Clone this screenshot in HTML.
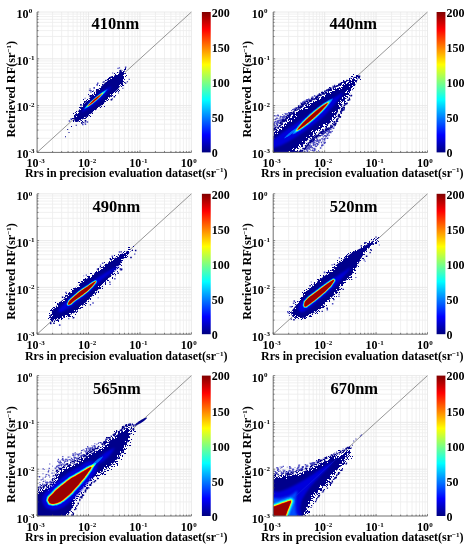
<!DOCTYPE html>
<html><head><meta charset="utf-8"><title>Scatter density plots</title><style>
html,body{margin:0;padding:0;background:#fff;}
body{width:473px;height:550px;overflow:hidden;}
svg{display:block;}
text{font-family:"Liberation Serif","Times New Roman",serif;font-weight:bold;fill:#000;}
.t{font-size:12px;}
.s{font-size:7px;font-weight:bold;}
.ttl{font-size:16.5px;}
.lab{font-size:12px;}
.cb{font-size:12px;}
</style></head><body>
<svg width="473" height="550" viewBox="0 0 473 550">
<defs>
<filter id="bl" filterUnits="userSpaceOnUse" x="0" y="0" width="473" height="550"><feGaussianBlur stdDeviation="0.45"/></filter>
<filter id="bl2" filterUnits="userSpaceOnUse" x="0" y="0" width="473" height="550"><feGaussianBlur stdDeviation="1.0"/></filter>
<linearGradient id="jet" x1="0" y1="0" x2="0" y2="1">
<stop offset="0" stop-color="#800000"/><stop offset="0.125" stop-color="#ff0000"/>
<stop offset="0.375" stop-color="#ffff00"/><stop offset="0.625" stop-color="#00ffff"/>
<stop offset="0.875" stop-color="#0000ff"/><stop offset="1" stop-color="#000080"/>
</linearGradient>

<clipPath id="c00"><rect x="37.1" y="12" width="154.3" height="140.4"/></clipPath>
<clipPath id="c01"><rect x="273.2" y="12" width="154.3" height="140.4"/></clipPath>
<clipPath id="c10"><rect x="37.1" y="193.8" width="154.3" height="140.4"/></clipPath>
<clipPath id="c11"><rect x="273.2" y="193.8" width="154.3" height="140.4"/></clipPath>
<clipPath id="c20"><rect x="37.1" y="375.6" width="154.3" height="140.4"/></clipPath>
<clipPath id="c21"><rect x="273.2" y="375.6" width="154.3" height="140.4"/></clipPath>
</defs>
<path d="M52.58 12V152.4M37.1 138.31H191.4M61.64 12V152.4M37.1 130.07H191.4M68.07 12V152.4M37.1 124.22H191.4M73.05 12V152.4M37.1 119.69H191.4M77.12 12V152.4M37.1 115.98H191.4M80.57 12V152.4M37.1 112.85H191.4M83.55 12V152.4M37.1 110.14H191.4M86.18 12V152.4M37.1 107.74H191.4M104.02 12V152.4M37.1 91.51H191.4M113.07 12V152.4M37.1 83.27H191.4M119.5 12V152.4M37.1 77.42H191.4M124.48 12V152.4M37.1 72.89H191.4M128.56 12V152.4M37.1 69.18H191.4M132 12V152.4M37.1 66.05H191.4M134.98 12V152.4M37.1 63.34H191.4M137.61 12V152.4M37.1 60.94H191.4M155.45 12V152.4M37.1 44.71H191.4M164.51 12V152.4M37.1 36.47H191.4M170.93 12V152.4M37.1 30.62H191.4M175.92 12V152.4M37.1 26.09H191.4M179.99 12V152.4M37.1 22.38H191.4M183.43 12V152.4M37.1 19.25H191.4M186.42 12V152.4M37.1 16.54H191.4M189.05 12V152.4M37.1 14.14H191.4" stroke="#ececec" stroke-width="0.8" fill="none"/>
<path d="M88.53 12V152.4M37.1 105.6H191.4M139.97 12V152.4M37.1 58.8H191.4M191.4 12V152.4M37.1 12H191.4" stroke="#e4e4e4" stroke-width="0.8" fill="none"/>
<path d="M37.1 152.4L191.4 12" stroke="#8a8a8a" stroke-width="0.9" fill="none"/>
<g clip-path="url(#c00)"><path d="M74.2 117.3C74.5 116.2 75.2 115.6 76.3 114.1C77.4 112.5 79 110 80.6 108C82.2 106 84.2 103.9 85.9 102C87.7 100.1 89.3 98.3 91.1 96.5C92.8 94.7 94.6 92.8 96.4 91C98.2 89.2 99.9 87.7 101.7 86C103.5 84.3 105.2 82.5 107 81C108.8 79.5 110.7 78.2 112.3 77C113.9 75.8 115.2 74.9 116.5 74C117.8 73.1 119.2 72.5 120.4 71.8C121.6 71.1 123.1 70.3 123.8 70.1C124.5 69.9 124.4 69.8 124.6 70.5C124.8 71.2 124.8 72.7 124.8 74C124.8 75.3 125 77.1 124.6 78.6C124.2 80.1 123.3 81.6 122.5 83C121.7 84.4 120.4 85.8 119.5 87C118.6 88.2 118.2 88.7 117 90C115.8 91.3 114 93.3 112.3 95C110.6 96.7 108.8 98.3 107 100C105.2 101.7 103.5 103.4 101.7 105C99.9 106.6 98.2 108.1 96.4 109.5C94.6 110.9 92.8 112.2 91.1 113.5C89.3 114.8 87.7 116.1 85.9 117.3C84.2 118.5 82.2 119.7 80.6 120.5C79 121.3 77.3 122 76.3 122C75.3 122 74.8 121.3 74.5 120.5C74.2 119.7 73.9 118.4 74.2 117.3Z" fill="#00008c"/><path d="M123 70h1v1h-1zM122 71h1v1h-1zM124 72h1v1h-1zM117 73h2v1h-2zM116 74h2v1h-2zM124 74h1v1h-1zM123 75h2v1h-2zM113 76h1v1h-1zM124 76h1v1h-1zM124 77h1v1h-1zM111 78h1v1h-1zM124 78h1v1h-1zM109 79h1v1h-1zM123 79h1v1h-1zM123 80h1v1h-1zM106 81h1v1h-1zM120 84h1v1h-1zM119 85h1v1h-1zM100 87h1v1h-1zM99 89h1v1h-1zM95 92h1v1h-1zM114 92h1v1h-1zM95 93h1v1h-1zM113 93h1v1h-1zM93 94h1v1h-1zM110 94h1v1h-1zM112 94h1v1h-1zM94 95h1v1h-1zM108 97h1v1h-1zM108 98h1v1h-1zM88 99h2v1h-2zM107 99h1v1h-1zM87 100h1v1h-1zM105 100h1v1h-1zM82 106h1v1h-1zM98 107h1v1h-1zM97 108h1v1h-1zM80 109h1v1h-1zM94 110h1v1h-1zM93 111h1v1h-1zM77 112h2v1h-2zM77 113h1v1h-1zM89 114h1v1h-1zM76 116h1v1h-1zM84 117h1v1h-1zM81 119h1v1h-1zM79 120h1v1h-1z" fill="#ffffff"/><path d="M125 68h1v1h-1zM124 69h2v1h-2zM120 70h1v1h-1zM120 71h1v1h-1zM117 72h1v1h-1zM114 73h1v1h-1zM125 73h1v1h-1zM115 74h1v1h-1zM126 75h1v1h-1zM112 76h1v1h-1zM125 76h1v1h-1zM109 77h3v1h-3zM108 78h2v1h-2zM107 79h2v1h-2zM124 79h1v1h-1zM105 80h1v1h-1zM123 81h1v1h-1zM124 82h1v1h-1zM122 83h1v1h-1zM102 84h1v1h-1zM121 84h2v1h-2zM99 85h1v1h-1zM122 85h2v1h-2zM121 86h1v1h-1zM96 89h2v1h-2zM118 89h1v1h-1zM96 90h1v1h-1zM117 90h1v1h-1zM119 90h1v1h-1zM92 91h1v1h-1zM116 91h1v1h-1zM118 91h1v1h-1zM94 92h1v1h-1zM115 92h1v1h-1zM88 94h1v1h-1zM92 94h1v1h-1zM90 95h2v1h-2zM112 95h1v1h-1zM115 95h1v1h-1zM90 96h1v1h-1zM111 96h1v1h-1zM83 99h1v1h-1zM87 99h1v1h-1zM108 99h1v1h-1zM86 100h1v1h-1zM107 100h1v1h-1zM84 101h2v1h-2zM105 101h1v1h-1zM84 102h1v1h-1zM83 103h1v1h-1zM103 103h1v1h-1zM83 104h1v1h-1zM102 104h1v1h-1zM101 106h1v1h-1zM104 106h1v1h-1zM79 107h2v1h-2zM100 107h1v1h-1zM76 111h1v1h-1zM75 112h1v1h-1zM73 113h1v1h-1zM76 113h1v1h-1zM92 113h1v1h-1zM75 114h1v1h-1zM74 115h1v1h-1zM89 115h1v1h-1zM74 116h1v1h-1zM87 116h1v1h-1zM90 116h1v1h-1zM86 117h1v1h-1zM72 118h2v1h-2zM84 118h2v1h-2zM71 119h1v1h-1zM73 120h1v1h-1zM81 120h1v1h-1zM73 121h1v1h-1zM79 121h1v1h-1zM82 121h1v1h-1z" fill="#00008c"/><path d="M110.6 98.9h1.6v1.6h-1.6zM105.5 79.8h1.1v1.1h-1.1zM80.1 104.1h1.6v1.6h-1.6zM89.3 95.2h1.6v1.6h-1.6zM111.7 98.3h1.1v1.1h-1.1zM125 82.4h1.3v1.3h-1.3zM126.8 81.2h1.1v1.1h-1.1zM102.5 81.7h1.1v1.1h-1.1zM75.7 124.7h1.1v1.1h-1.1zM81.1 122.1h1.4v1.4h-1.4zM122.4 87.7h1v1h-1zM110.7 76.1h1v1h-1zM103.4 81.2h1.3v1.3h-1.3zM117.9 92.6h0.9v0.9h-0.9zM84.7 120.1h1.6v1.6h-1.6zM119.2 70.3h1.4v1.4h-1.4zM81.4 123h1.1v1.1h-1.1zM93 90.6h1v1h-1zM113.6 96.1h1.5v1.5h-1.5zM120.3 69.7h1.2v1.2h-1.2zM82.9 121.9h1v1h-1z" fill="#00008c"/><path d="M97 82.6h1.5v1.5h-1.5zM68.7 120.2h1.5v1.5h-1.5zM96.4 84.1h1.6v1.6h-1.6zM86.6 121.2h1.6v1.6h-1.6zM84.6 97.8h1v1h-1zM124.9 66.4h1.5v1.5h-1.5zM90.4 90.6h1v1h-1zM128.7 78.8h1.1v1.1h-1.1zM82 123.7h1.6v1.6h-1.6zM88.9 90.1h1v1h-1zM93.4 87.1h1.6v1.6h-1.6zM90.5 91.8h1v1h-1zM84.8 123.7h1.4v1.4h-1.4zM117.4 67.8h1.2v1.2h-1.2zM90 90h1.6v1.6h-1.6zM118.8 67.3h1.3v1.3h-1.3zM84.4 122.2h1.4v1.4h-1.4zM112.1 72.4h1.1v1.1h-1.1zM70.4 118.2h1.5v1.5h-1.5z" fill="#4848c0"/><path d="M81.3 112.3C81.2 112.2 81.7 111.7 81.8 111.5C82 111.2 82.2 110.9 82.4 110.6C82.6 110.3 82.8 110.1 83 109.8C83.2 109.5 83.4 109.2 83.6 108.9C83.9 108.7 84.1 108.4 84.3 108.1C84.5 107.9 84.7 107.6 84.9 107.3C85.1 107.1 85.3 106.8 85.5 106.5C85.7 106.3 86 106 86.2 105.7C86.4 105.5 86.6 105.2 86.8 105C87 104.7 87.3 104.5 87.5 104.2C87.7 104 87.9 103.7 88.2 103.5C88.4 103.2 88.6 103 88.8 102.7C89.1 102.5 89.3 102.2 89.5 102C89.8 101.7 90 101.5 90.2 101.3C90.5 101 90.7 100.8 90.9 100.6C91.2 100.3 91.4 100.1 91.7 99.9C91.9 99.6 92.1 99.4 92.4 99.2C92.6 98.9 92.9 98.7 93.1 98.5C93.4 98.3 93.6 98.1 93.9 97.8C94.1 97.6 94.4 97.4 94.6 97.2C94.9 97 95.1 96.7 95.4 96.5C95.6 96.3 95.9 96.1 96.2 95.9C96.4 95.7 96.7 95.5 96.9 95.3C97.2 95.1 97.5 94.9 97.7 94.7C98 94.5 98.3 94.3 98.5 94.1C98.8 93.9 99.1 93.7 99.3 93.5C99.6 93.3 99.9 93.1 100.2 92.9C100.4 92.7 100.7 92.5 101 92.3C101.3 92.1 101.5 91.9 101.8 91.7C102.1 91.6 102.4 91.4 102.7 91.2C103 91 103.2 90.8 103.5 90.7C103.8 90.5 104.1 90.3 104.4 90.1C104.7 90 105 89.8 105.3 89.6C105.6 89.4 105.9 89.3 106.2 89.1C106.4 88.9 106.7 88.8 107 88.6C107.3 88.4 107.6 88.3 107.9 88.1C108.2 88 108.5 87.8 108.9 87.6C109.2 87.5 109.5 87.3 109.8 87.2C110.1 87 110.4 86.9 110.7 86.7C111 86.6 111.6 86.2 111.6 86.3C111.7 86.4 111.2 86.9 111.1 87.1C110.9 87.4 110.7 87.7 110.5 88C110.3 88.3 110.1 88.5 109.9 88.8C109.7 89.1 109.5 89.4 109.3 89.7C109 89.9 108.8 90.2 108.6 90.5C108.4 90.7 108.2 91 108 91.3C107.8 91.5 107.6 91.8 107.4 92.1C107.2 92.3 106.9 92.6 106.7 92.9C106.5 93.1 106.3 93.4 106.1 93.6C105.9 93.9 105.6 94.1 105.4 94.4C105.2 94.6 105 94.9 104.7 95.1C104.5 95.4 104.3 95.6 104.1 95.9C103.8 96.1 103.6 96.4 103.4 96.6C103.1 96.9 102.9 97.1 102.7 97.3C102.4 97.6 102.2 97.8 102 98C101.7 98.3 101.5 98.5 101.2 98.7C101 99 100.8 99.2 100.5 99.4C100.3 99.7 100 99.9 99.8 100.1C99.5 100.3 99.3 100.5 99 100.8C98.8 101 98.5 101.2 98.3 101.4C98 101.6 97.8 101.9 97.5 102.1C97.3 102.3 97 102.5 96.7 102.7C96.5 102.9 96.2 103.1 96 103.3C95.7 103.5 95.4 103.7 95.2 103.9C94.9 104.1 94.6 104.3 94.4 104.5C94.1 104.7 93.8 104.9 93.6 105.1C93.3 105.3 93 105.5 92.7 105.7C92.5 105.9 92.2 106.1 91.9 106.3C91.6 106.5 91.4 106.7 91.1 106.9C90.8 107 90.5 107.2 90.2 107.4C89.9 107.6 89.7 107.8 89.4 107.9C89.1 108.1 88.8 108.3 88.5 108.5C88.2 108.6 87.9 108.8 87.6 109C87.3 109.2 87 109.3 86.7 109.5C86.5 109.7 86.2 109.8 85.9 110C85.6 110.2 85.3 110.3 85 110.5C84.7 110.6 84.4 110.8 84 111C83.7 111.1 83.4 111.3 83.1 111.4C82.8 111.6 82.5 111.7 82.2 111.9C81.9 112 81.3 112.4 81.3 112.3Z" fill="#0000dc" filter="url(#bl2)"/><g filter="url(#bl)"><path d="M84 109.3C84 109.2 84.3 108.8 84.4 108.6C84.6 108.4 84.8 108.1 84.9 107.9C85.1 107.7 85.2 107.5 85.4 107.3C85.6 107.1 85.7 106.9 85.9 106.7C86.1 106.5 86.2 106.3 86.4 106.1C86.6 105.9 86.7 105.7 86.9 105.5C87.1 105.3 87.3 105.1 87.4 104.9C87.6 104.7 87.8 104.5 88 104.3C88.1 104.2 88.3 104 88.5 103.8C88.7 103.6 88.9 103.4 89 103.2C89.2 103 89.4 102.8 89.6 102.7C89.8 102.5 89.9 102.3 90.1 102.1C90.3 101.9 90.5 101.7 90.7 101.6C90.9 101.4 91.1 101.2 91.2 101C91.4 100.9 91.6 100.7 91.8 100.5C92 100.3 92.2 100.1 92.4 100C92.6 99.8 92.8 99.6 92.9 99.4C93.1 99.3 93.3 99.1 93.5 98.9C93.7 98.8 93.9 98.6 94.1 98.4C94.3 98.2 94.5 98.1 94.7 97.9C94.9 97.7 95.1 97.6 95.3 97.4C95.5 97.2 95.7 97.1 95.9 96.9C96.1 96.7 96.3 96.6 96.5 96.4C96.7 96.3 96.9 96.1 97.1 95.9C97.3 95.8 97.5 95.6 97.7 95.5C97.9 95.3 98.1 95.1 98.3 95C98.5 94.8 98.7 94.7 98.9 94.5C99.1 94.4 99.3 94.2 99.5 94C99.8 93.9 100 93.7 100.2 93.6C100.4 93.4 100.6 93.3 100.8 93.1C101 93 101.2 92.8 101.4 92.7C101.7 92.5 101.9 92.4 102.1 92.2C102.3 92.1 102.5 92 102.7 91.8C103 91.7 103.2 91.5 103.4 91.4C103.6 91.2 103.8 91.1 104.1 91C104.3 90.8 104.5 90.7 104.7 90.6C105 90.4 105.2 90.3 105.4 90.2C105.6 90 105.9 89.9 106.1 89.8C106.3 89.7 106.6 89.5 106.8 89.4C107.1 89.3 107.5 89 107.6 89.1C107.6 89.2 107.3 89.6 107.2 89.8C107 90 106.8 90.3 106.7 90.5C106.5 90.7 106.4 90.9 106.2 91.1C106 91.3 105.9 91.5 105.7 91.7C105.5 91.9 105.4 92.1 105.2 92.3C105 92.5 104.9 92.7 104.7 92.9C104.5 93.1 104.3 93.3 104.2 93.5C104 93.7 103.8 93.9 103.6 94.1C103.5 94.2 103.3 94.4 103.1 94.6C102.9 94.8 102.7 95 102.6 95.2C102.4 95.4 102.2 95.6 102 95.7C101.8 95.9 101.7 96.1 101.5 96.3C101.3 96.5 101.1 96.7 100.9 96.8C100.7 97 100.5 97.2 100.4 97.4C100.2 97.5 100 97.7 99.8 97.9C99.6 98.1 99.4 98.3 99.2 98.4C99 98.6 98.8 98.8 98.7 99C98.5 99.1 98.3 99.3 98.1 99.5C97.9 99.6 97.7 99.8 97.5 100C97.3 100.2 97.1 100.3 96.9 100.5C96.7 100.7 96.5 100.8 96.3 101C96.1 101.2 95.9 101.3 95.7 101.5C95.5 101.7 95.3 101.8 95.1 102C94.9 102.1 94.7 102.3 94.5 102.5C94.3 102.6 94.1 102.8 93.9 102.9C93.7 103.1 93.5 103.3 93.3 103.4C93.1 103.6 92.9 103.7 92.7 103.9C92.5 104 92.3 104.2 92.1 104.4C91.8 104.5 91.6 104.7 91.4 104.8C91.2 105 91 105.1 90.8 105.3C90.6 105.4 90.4 105.6 90.2 105.7C89.9 105.9 89.7 106 89.5 106.2C89.3 106.3 89.1 106.4 88.9 106.6C88.6 106.7 88.4 106.9 88.2 107C88 107.2 87.8 107.3 87.5 107.4C87.3 107.6 87.1 107.7 86.9 107.8C86.6 108 86.4 108.1 86.2 108.2C86 108.4 85.7 108.5 85.5 108.6C85.3 108.7 85 108.9 84.8 109C84.5 109.1 84.1 109.4 84 109.3Z" fill="#0070ff"/><path d="M85.2 108.3C85.1 108.2 85.4 107.8 85.6 107.7C85.7 107.5 85.8 107.3 86 107.1C86.1 106.9 86.3 106.7 86.4 106.6C86.6 106.4 86.7 106.2 86.9 106C87 105.9 87.2 105.7 87.3 105.5C87.5 105.4 87.6 105.2 87.8 105C87.9 104.9 88.1 104.7 88.2 104.5C88.4 104.4 88.6 104.2 88.7 104C88.9 103.9 89 103.7 89.2 103.5C89.3 103.4 89.5 103.2 89.7 103C89.8 102.9 90 102.7 90.1 102.6C90.3 102.4 90.5 102.2 90.6 102.1C90.8 101.9 91 101.8 91.1 101.6C91.3 101.5 91.5 101.3 91.6 101.1C91.8 101 91.9 100.8 92.1 100.7C92.3 100.5 92.4 100.4 92.6 100.2C92.8 100.1 93 99.9 93.1 99.8C93.3 99.6 93.5 99.5 93.6 99.3C93.8 99.2 94 99 94.1 98.9C94.3 98.7 94.5 98.6 94.7 98.4C94.8 98.3 95 98.1 95.2 98C95.3 97.8 95.5 97.7 95.7 97.5C95.9 97.4 96 97.2 96.2 97.1C96.4 97 96.6 96.8 96.7 96.7C96.9 96.5 97.1 96.4 97.3 96.2C97.5 96.1 97.6 96 97.8 95.8C98 95.7 98.2 95.6 98.4 95.4C98.5 95.3 98.7 95.1 98.9 95C99.1 94.9 99.3 94.7 99.4 94.6C99.6 94.5 99.8 94.3 100 94.2C100.2 94.1 100.4 93.9 100.5 93.8C100.7 93.7 100.9 93.5 101.1 93.4C101.3 93.3 101.5 93.1 101.7 93C101.9 92.9 102 92.8 102.2 92.6C102.4 92.5 102.6 92.4 102.8 92.3C103 92.1 103.2 92 103.4 91.9C103.6 91.8 103.8 91.6 104 91.5C104.2 91.4 104.4 91.3 104.6 91.2C104.8 91.1 105 90.9 105.2 90.8C105.4 90.7 105.8 90.5 105.8 90.5C105.9 90.6 105.6 91 105.4 91.1C105.3 91.3 105.2 91.5 105 91.7C104.9 91.9 104.7 92.1 104.6 92.2C104.4 92.4 104.3 92.6 104.1 92.8C104 92.9 103.8 93.1 103.7 93.3C103.5 93.4 103.4 93.6 103.2 93.8C103.1 93.9 102.9 94.1 102.8 94.3C102.6 94.4 102.4 94.6 102.3 94.8C102.1 94.9 102 95.1 101.8 95.3C101.7 95.4 101.5 95.6 101.3 95.8C101.2 95.9 101 96.1 100.9 96.2C100.7 96.4 100.5 96.6 100.4 96.7C100.2 96.9 100 97 99.9 97.2C99.7 97.3 99.5 97.5 99.4 97.7C99.2 97.8 99.1 98 98.9 98.1C98.7 98.3 98.6 98.4 98.4 98.6C98.2 98.7 98 98.9 97.9 99C97.7 99.2 97.5 99.3 97.4 99.5C97.2 99.6 97 99.8 96.9 99.9C96.7 100.1 96.5 100.2 96.3 100.4C96.2 100.5 96 100.7 95.8 100.8C95.7 101 95.5 101.1 95.3 101.3C95.1 101.4 95 101.6 94.8 101.7C94.6 101.8 94.4 102 94.3 102.1C94.1 102.3 93.9 102.4 93.7 102.6C93.5 102.7 93.4 102.8 93.2 103C93 103.1 92.8 103.2 92.6 103.4C92.5 103.5 92.3 103.7 92.1 103.8C91.9 103.9 91.7 104.1 91.6 104.2C91.4 104.3 91.2 104.5 91 104.6C90.8 104.7 90.6 104.9 90.5 105C90.3 105.1 90.1 105.3 89.9 105.4C89.7 105.5 89.5 105.7 89.3 105.8C89.1 105.9 89 106 88.8 106.2C88.6 106.3 88.4 106.4 88.2 106.5C88 106.7 87.8 106.8 87.6 106.9C87.4 107 87.2 107.2 87 107.3C86.8 107.4 86.6 107.5 86.4 107.6C86.2 107.7 86 107.9 85.8 108C85.6 108.1 85.2 108.3 85.2 108.3Z" fill="#00ffff"/><path d="M86.5 107.1C86.5 107 86.7 106.8 86.8 106.6C86.9 106.5 87.1 106.3 87.2 106.2C87.3 106 87.4 105.9 87.5 105.7C87.7 105.6 87.8 105.4 87.9 105.3C88 105.2 88.2 105 88.3 104.9C88.4 104.7 88.5 104.6 88.7 104.5C88.8 104.3 88.9 104.2 89.1 104C89.2 103.9 89.3 103.8 89.4 103.6C89.6 103.5 89.7 103.4 89.8 103.2C90 103.1 90.1 103 90.2 102.8C90.4 102.7 90.5 102.6 90.6 102.4C90.8 102.3 90.9 102.2 91 102.1C91.2 101.9 91.3 101.8 91.4 101.7C91.6 101.5 91.7 101.4 91.8 101.3C92 101.2 92.1 101 92.3 100.9C92.4 100.8 92.5 100.6 92.7 100.5C92.8 100.4 92.9 100.3 93.1 100.1C93.2 100 93.4 99.9 93.5 99.8C93.6 99.7 93.8 99.5 93.9 99.4C94.1 99.3 94.2 99.2 94.3 99C94.5 98.9 94.6 98.8 94.8 98.7C94.9 98.6 95.1 98.4 95.2 98.3C95.3 98.2 95.5 98.1 95.6 98C95.8 97.8 95.9 97.7 96.1 97.6C96.2 97.5 96.4 97.4 96.5 97.3C96.7 97.1 96.8 97 96.9 96.9C97.1 96.8 97.2 96.7 97.4 96.6C97.5 96.5 97.7 96.3 97.8 96.2C98 96.1 98.1 96 98.3 95.9C98.4 95.8 98.6 95.7 98.7 95.6C98.9 95.4 99 95.3 99.2 95.2C99.3 95.1 99.5 95 99.6 94.9C99.8 94.8 100 94.7 100.1 94.6C100.3 94.5 100.4 94.4 100.6 94.3C100.7 94.1 100.9 94 101 93.9C101.2 93.8 101.4 93.7 101.5 93.6C101.7 93.5 101.8 93.4 102 93.3C102.2 93.2 102.3 93.1 102.5 93C102.6 92.9 102.8 92.8 103 92.8C103.1 92.7 103.5 92.5 103.5 92.5C103.5 92.6 103.3 92.8 103.2 93C103.1 93.1 102.9 93.3 102.8 93.4C102.7 93.6 102.6 93.7 102.5 93.9C102.3 94 102.2 94.2 102.1 94.3C102 94.4 101.8 94.6 101.7 94.7C101.6 94.9 101.5 95 101.3 95.1C101.2 95.3 101.1 95.4 100.9 95.6C100.8 95.7 100.7 95.8 100.6 96C100.4 96.1 100.3 96.2 100.2 96.4C100 96.5 99.9 96.6 99.8 96.8C99.6 96.9 99.5 97 99.4 97.2C99.2 97.3 99.1 97.4 99 97.5C98.8 97.7 98.7 97.8 98.6 97.9C98.4 98.1 98.3 98.2 98.2 98.3C98 98.4 97.9 98.6 97.7 98.7C97.6 98.8 97.5 99 97.3 99.1C97.2 99.2 97.1 99.3 96.9 99.5C96.8 99.6 96.6 99.7 96.5 99.8C96.4 99.9 96.2 100.1 96.1 100.2C95.9 100.3 95.8 100.4 95.7 100.6C95.5 100.7 95.4 100.8 95.2 100.9C95.1 101 94.9 101.2 94.8 101.3C94.7 101.4 94.5 101.5 94.4 101.6C94.2 101.8 94.1 101.9 93.9 102C93.8 102.1 93.6 102.2 93.5 102.3C93.3 102.5 93.2 102.6 93.1 102.7C92.9 102.8 92.8 102.9 92.6 103C92.5 103.1 92.3 103.3 92.2 103.4C92 103.5 91.9 103.6 91.7 103.7C91.6 103.8 91.4 103.9 91.3 104C91.1 104.2 91 104.3 90.8 104.4C90.7 104.5 90.5 104.6 90.4 104.7C90.2 104.8 90 104.9 89.9 105C89.7 105.1 89.6 105.2 89.4 105.3C89.3 105.5 89.1 105.6 89 105.7C88.8 105.8 88.6 105.9 88.5 106C88.3 106.1 88.2 106.2 88 106.3C87.8 106.4 87.7 106.5 87.5 106.6C87.4 106.7 87.2 106.8 87 106.8C86.9 106.9 86.5 107.1 86.5 107.1Z" fill="#ffff00"/><path d="M87.4 106.3C87.4 106.3 87.6 106 87.7 105.9C87.8 105.8 87.9 105.6 88 105.5C88.1 105.4 88.2 105.3 88.3 105.1C88.4 105 88.5 104.9 88.6 104.8C88.8 104.7 88.9 104.5 89 104.4C89.1 104.3 89.2 104.2 89.3 104.1C89.4 104 89.5 103.8 89.6 103.7C89.7 103.6 89.9 103.5 90 103.4C90.1 103.3 90.2 103.2 90.3 103C90.4 102.9 90.5 102.8 90.7 102.7C90.8 102.6 90.9 102.5 91 102.4C91.1 102.3 91.2 102.1 91.3 102C91.5 101.9 91.6 101.8 91.7 101.7C91.8 101.6 91.9 101.5 92 101.4C92.2 101.3 92.3 101.2 92.4 101C92.5 100.9 92.6 100.8 92.8 100.7C92.9 100.6 93 100.5 93.1 100.4C93.2 100.3 93.3 100.2 93.5 100.1C93.6 100 93.7 99.9 93.8 99.8C93.9 99.7 94.1 99.6 94.2 99.5C94.3 99.4 94.4 99.2 94.6 99.1C94.7 99 94.8 98.9 94.9 98.8C95 98.7 95.2 98.6 95.3 98.5C95.4 98.4 95.5 98.3 95.7 98.2C95.8 98.1 95.9 98 96 97.9C96.2 97.8 96.3 97.7 96.4 97.6C96.5 97.5 96.7 97.4 96.8 97.3C96.9 97.2 97 97.1 97.2 97C97.3 96.9 97.4 96.8 97.6 96.7C97.7 96.6 97.8 96.6 97.9 96.5C98.1 96.4 98.2 96.3 98.3 96.2C98.5 96.1 98.6 96 98.7 95.9C98.8 95.8 99 95.7 99.1 95.6C99.2 95.5 99.4 95.4 99.5 95.3C99.6 95.2 99.8 95.1 99.9 95.1C100 95 100.2 94.9 100.3 94.8C100.4 94.7 100.6 94.6 100.7 94.5C100.9 94.4 101 94.4 101.1 94.3C101.3 94.2 101.4 94.1 101.5 94C101.7 93.9 102 93.8 102 93.8C102 93.8 101.8 94.1 101.7 94.2C101.6 94.3 101.5 94.5 101.4 94.6C101.3 94.7 101.2 94.8 101.1 95C101 95.1 100.9 95.2 100.8 95.3C100.6 95.4 100.5 95.6 100.4 95.7C100.3 95.8 100.2 95.9 100.1 96C100 96.1 99.9 96.3 99.8 96.4C99.7 96.5 99.5 96.6 99.4 96.7C99.3 96.8 99.2 96.9 99.1 97.1C99 97.2 98.9 97.3 98.7 97.4C98.6 97.5 98.5 97.6 98.4 97.7C98.3 97.8 98.2 98 98.1 98.1C97.9 98.2 97.8 98.3 97.7 98.4C97.6 98.5 97.5 98.6 97.4 98.7C97.2 98.8 97.1 98.9 97 99.1C96.9 99.2 96.8 99.3 96.6 99.4C96.5 99.5 96.4 99.6 96.3 99.7C96.2 99.8 96.1 99.9 95.9 100C95.8 100.1 95.7 100.2 95.6 100.3C95.5 100.4 95.3 100.5 95.2 100.6C95.1 100.7 95 100.9 94.8 101C94.7 101.1 94.6 101.2 94.5 101.3C94.4 101.4 94.2 101.5 94.1 101.6C94 101.7 93.9 101.8 93.7 101.9C93.6 102 93.5 102.1 93.4 102.2C93.2 102.3 93.1 102.4 93 102.5C92.9 102.6 92.7 102.7 92.6 102.8C92.5 102.9 92.4 103 92.2 103.1C92.1 103.2 92 103.3 91.8 103.4C91.7 103.5 91.6 103.5 91.5 103.6C91.3 103.7 91.2 103.8 91.1 103.9C90.9 104 90.8 104.1 90.7 104.2C90.6 104.3 90.4 104.4 90.3 104.5C90.2 104.6 90 104.7 89.9 104.8C89.8 104.9 89.6 105 89.5 105C89.4 105.1 89.2 105.2 89.1 105.3C89 105.4 88.8 105.5 88.7 105.6C88.5 105.7 88.4 105.7 88.3 105.8C88.1 105.9 88 106 87.9 106.1C87.7 106.2 87.4 106.3 87.4 106.3Z" fill="#ff0000"/><path d="M89.8 104.3C89.7 104.3 89.9 104.1 90 104C90 103.9 90.1 103.8 90.2 103.8C90.3 103.7 90.3 103.6 90.4 103.5C90.5 103.4 90.5 103.4 90.6 103.3C90.7 103.2 90.8 103.1 90.8 103C90.9 103 91 102.9 91.1 102.8C91.2 102.7 91.2 102.7 91.3 102.6C91.4 102.5 91.5 102.4 91.5 102.3C91.6 102.3 91.7 102.2 91.8 102.1C91.8 102 91.9 102 92 101.9C92.1 101.8 92.2 101.7 92.2 101.7C92.3 101.6 92.4 101.5 92.5 101.4C92.6 101.4 92.6 101.3 92.7 101.2C92.8 101.1 92.9 101.1 92.9 101C93 100.9 93.1 100.9 93.2 100.8C93.3 100.7 93.3 100.6 93.4 100.6C93.5 100.5 93.6 100.4 93.7 100.3C93.8 100.3 93.8 100.2 93.9 100.1C94 100.1 94.1 100 94.2 99.9C94.2 99.8 94.3 99.8 94.4 99.7C94.5 99.6 94.6 99.6 94.7 99.5C94.7 99.4 94.8 99.4 94.9 99.3C95 99.2 95.1 99.1 95.2 99.1C95.2 99 95.3 98.9 95.4 98.9C95.5 98.8 95.6 98.7 95.7 98.7C95.7 98.6 95.8 98.5 95.9 98.5C96 98.4 96.1 98.3 96.2 98.3C96.2 98.2 96.3 98.1 96.4 98.1C96.5 98 96.6 97.9 96.7 97.9C96.8 97.8 96.8 97.7 96.9 97.7C97 97.6 97.1 97.5 97.2 97.5C97.3 97.4 97.4 97.3 97.5 97.3C97.5 97.2 97.6 97.1 97.7 97.1C97.8 97 97.9 97 98 96.9C98.1 96.8 98.2 96.8 98.3 96.7C98.3 96.6 98.4 96.6 98.5 96.5C98.6 96.5 98.7 96.4 98.8 96.3C98.9 96.3 99 96.2 99.1 96.2C99.2 96.1 99.2 96 99.3 96C99.4 95.9 99.6 95.8 99.6 95.8C99.7 95.8 99.5 96 99.4 96.1C99.4 96.2 99.3 96.3 99.2 96.3C99.1 96.4 99.1 96.5 99 96.6C98.9 96.7 98.9 96.7 98.8 96.8C98.7 96.9 98.6 97 98.6 97.1C98.5 97.1 98.4 97.2 98.3 97.3C98.2 97.4 98.2 97.4 98.1 97.5C98 97.6 97.9 97.7 97.9 97.8C97.8 97.8 97.7 97.9 97.6 98C97.6 98.1 97.5 98.1 97.4 98.2C97.3 98.3 97.2 98.4 97.2 98.4C97.1 98.5 97 98.6 96.9 98.7C96.8 98.7 96.8 98.8 96.7 98.9C96.6 99 96.5 99 96.5 99.1C96.4 99.2 96.3 99.2 96.2 99.3C96.1 99.4 96.1 99.5 96 99.5C95.9 99.6 95.8 99.7 95.7 99.8C95.6 99.8 95.6 99.9 95.5 100C95.4 100 95.3 100.1 95.2 100.2C95.2 100.3 95.1 100.3 95 100.4C94.9 100.5 94.8 100.5 94.7 100.6C94.7 100.7 94.6 100.7 94.5 100.8C94.4 100.9 94.3 101 94.2 101C94.2 101.1 94.1 101.2 94 101.2C93.9 101.3 93.8 101.4 93.7 101.4C93.7 101.5 93.6 101.6 93.5 101.6C93.4 101.7 93.3 101.8 93.2 101.8C93.2 101.9 93.1 102 93 102C92.9 102.1 92.8 102.2 92.7 102.2C92.6 102.3 92.6 102.4 92.5 102.4C92.4 102.5 92.3 102.6 92.2 102.6C92.1 102.7 92 102.8 91.9 102.8C91.9 102.9 91.8 103 91.7 103C91.6 103.1 91.5 103.1 91.4 103.2C91.3 103.3 91.2 103.3 91.1 103.4C91.1 103.5 91 103.5 90.9 103.6C90.8 103.6 90.7 103.7 90.6 103.8C90.5 103.8 90.4 103.9 90.3 103.9C90.2 104 90.2 104.1 90.1 104.1C90 104.2 89.8 104.3 89.8 104.3Z" fill="#9a0000"/></g><path d="M67.2 129h1v1h-1zM65 136.3h1v1h-1zM68.5 132h1v1h-1zM89.5 88.5h1v1h-1zM71 126h1v1h-1z" fill="#00008c"/></g>
<path d="M37.1 12V152.4H191.4" stroke="#707070" stroke-width="1" fill="none"/>
<path d="M37.1 138.31h1.4M52.58 152.4v-1.4M37.1 130.07h1.4M61.64 152.4v-1.4M37.1 124.22h1.4M68.07 152.4v-1.4M37.1 119.69h1.4M73.05 152.4v-1.4M37.1 115.98h1.4M77.12 152.4v-1.4M37.1 112.85h1.4M80.57 152.4v-1.4M37.1 110.14h1.4M83.55 152.4v-1.4M37.1 107.74h1.4M86.18 152.4v-1.4M37.1 91.51h1.4M104.02 152.4v-1.4M37.1 83.27h1.4M113.07 152.4v-1.4M37.1 77.42h1.4M119.5 152.4v-1.4M37.1 72.89h1.4M124.48 152.4v-1.4M37.1 69.18h1.4M128.56 152.4v-1.4M37.1 66.05h1.4M132 152.4v-1.4M37.1 63.34h1.4M134.98 152.4v-1.4M37.1 60.94h1.4M137.61 152.4v-1.4M37.1 44.71h1.4M155.45 152.4v-1.4M37.1 36.47h1.4M164.51 152.4v-1.4M37.1 30.62h1.4M170.93 152.4v-1.4M37.1 26.09h1.4M175.92 152.4v-1.4M37.1 22.38h1.4M179.99 152.4v-1.4M37.1 19.25h1.4M183.43 152.4v-1.4M37.1 16.54h1.4M186.42 152.4v-1.4M37.1 14.14h1.4M189.05 152.4v-1.4M37.1 152.4h2M37.1 152.4v-2M37.1 105.6h2M88.53 152.4v-2M37.1 58.8h2M139.97 152.4v-2M37.1 12h2M191.4 152.4v-2" stroke="#555" stroke-width="0.7" fill="none"/>
<text class="t" x="28.4" y="17.8" text-anchor="end">10</text><text class="s" x="28.7" y="13">0</text>
<text class="t" x="28.4" y="64.6" text-anchor="end">10</text><text class="s" x="28.7" y="59.8">-1</text>
<text class="t" x="28.4" y="111.4" text-anchor="end">10</text><text class="s" x="28.7" y="106.6">-2</text>
<text class="t" x="28.4" y="158.2" text-anchor="end">10</text><text class="s" x="28.7" y="153.4">-3</text>
<text class="t" x="38.5" y="167" text-anchor="end">10</text><text class="s" x="38.9" y="163">-3</text>
<text class="t" x="89.93" y="167" text-anchor="end">10</text><text class="s" x="90.33" y="163">-2</text>
<text class="t" x="141.37" y="167" text-anchor="end">10</text><text class="s" x="141.77" y="163">-1</text>
<text class="t" x="192.8" y="167" text-anchor="end">10</text><text class="s" x="193.2" y="163">0</text>
<text class="ttl" x="115.35" y="28.8" text-anchor="middle">410nm</text>
<text class="lab" x="24.9" y="176.6">Rrs in precision evaluation dataset(sr<tspan font-size="7" dy="-4.2">−1</tspan><tspan dy="4.2">)</tspan></text>
<text class="lab" style="font-size:12.3px" transform="translate(14.8 89.2) rotate(-90)" text-anchor="middle">Retrieved RF(sr<tspan font-size="7" dy="-4.2">−1</tspan><tspan dy="4.2">)</tspan></text>
<rect x="201.9" y="12" width="8.8" height="140.4" fill="url(#jet)"/>
<text class="cb" x="211.7" y="16.8">200</text>
<text class="cb" x="211.7" y="51.9">150</text>
<text class="cb" x="211.7" y="87">100</text>
<text class="cb" x="211.7" y="122.1">50</text>
<text class="cb" x="211.7" y="157.2">0</text>
<path d="M288.68 12V152.4M273.2 138.31H427.5M297.74 12V152.4M273.2 130.07H427.5M304.17 12V152.4M273.2 124.22H427.5M309.15 12V152.4M273.2 119.69H427.5M313.22 12V152.4M273.2 115.98H427.5M316.67 12V152.4M273.2 112.85H427.5M319.65 12V152.4M273.2 110.14H427.5M322.28 12V152.4M273.2 107.74H427.5M340.12 12V152.4M273.2 91.51H427.5M349.17 12V152.4M273.2 83.27H427.5M355.6 12V152.4M273.2 77.42H427.5M360.58 12V152.4M273.2 72.89H427.5M364.66 12V152.4M273.2 69.18H427.5M368.1 12V152.4M273.2 66.05H427.5M371.08 12V152.4M273.2 63.34H427.5M373.71 12V152.4M273.2 60.94H427.5M391.55 12V152.4M273.2 44.71H427.5M400.61 12V152.4M273.2 36.47H427.5M407.03 12V152.4M273.2 30.62H427.5M412.02 12V152.4M273.2 26.09H427.5M416.09 12V152.4M273.2 22.38H427.5M419.53 12V152.4M273.2 19.25H427.5M422.52 12V152.4M273.2 16.54H427.5M425.15 12V152.4M273.2 14.14H427.5" stroke="#ececec" stroke-width="0.8" fill="none"/>
<path d="M324.63 12V152.4M273.2 105.6H427.5M376.07 12V152.4M273.2 58.8H427.5M427.5 12V152.4M273.2 12H427.5" stroke="#e4e4e4" stroke-width="0.8" fill="none"/>
<path d="M273.2 152.4L427.5 12" stroke="#8a8a8a" stroke-width="0.9" fill="none"/>
<g clip-path="url(#c01)"><path d="M270 157.5C273 157.5 285 157.5 288 157.5C291 157.5 288.1 157.5 288.2 157.5C288.2 157.5 288.3 157.5 288.3 157.5C288.3 157.5 288.4 157.4 288.4 157.4C288.5 157.4 288.5 157.4 288.6 157.4C288.6 157.4 288.7 157.3 288.7 157.3C288.8 157.3 288.8 157.3 288.9 157.2C288.9 157.2 288.9 157.2 289 157.1C289 157.1 289 157.1 289.1 157C289.1 157 289.1 157 289.2 156.9C289.2 156.9 289.2 156.8 289.3 156.8C289.3 156.8 289.2 157 289.3 156.7C289.5 156.4 289.2 155.8 290.2 155C291.1 154.2 294.1 152.3 294.9 151.7C295.8 151.2 294.1 152.4 295 151.7C295.9 151 299.4 148.2 300.3 147.5C301.2 146.8 298.7 149.1 300.5 147.4C302.2 145.6 308.4 139.3 311 136.8C313.6 134.4 314.5 134.1 316.2 132.7C318 131.3 319.7 129.8 321.5 128.5C323.2 127.3 325.9 125.8 326.8 125.3C327.7 124.7 326.2 125.7 326.9 125.2C327.6 124.7 330.2 122.7 330.9 122.2C331.6 121.7 331 122.1 331 122.1C331.1 122.1 330.5 122.7 331.1 122C331.7 121.3 334 118.7 334.6 118C335.2 117.3 334.7 117.9 334.7 117.9C334.7 117.9 334.8 117.8 334.8 117.8C334.8 117.8 334.4 118.5 334.8 117.7C335.2 116.9 336.3 114.7 337.2 113C338.1 111.4 339.3 109.5 340.4 107.8C341.4 106 342.7 103.9 343.6 102.5C344.4 101.1 344.8 100.6 345.6 99.4C346.5 98.2 348.3 95.9 348.8 95.2C349.3 94.5 348.4 95.7 348.8 95.2C349.2 94.7 350.8 92.6 351.2 92C351.6 91.4 350.7 92.8 351.3 91.9C351.9 90.9 354.2 87.3 354.8 86.3C355.4 85.3 354.5 86.9 354.9 86.1C355.2 85.3 356.5 82.4 356.9 81.6C357.2 80.8 356.9 81.5 356.9 81.5C356.9 81.4 356.9 81.7 357 81.4C357 81 357.4 79.7 357.5 79.4C357.5 79 357.5 79.3 357.5 79.2C357.5 79.2 357.5 79.1 357.5 79.1C357.5 79 357.5 79 357.5 78.9C357.5 78.9 357.5 78.8 357.5 78.8C357.5 78.7 357.5 78.7 357.5 78.6C357.4 78.6 357.4 78.5 357.4 78.5C357.4 78.4 357.4 78.4 357.3 78.3C357.3 78.3 357.3 78.2 357.3 78.2C357.2 78.2 357.2 78.1 357.2 78.1C357.2 78 357.1 78 357.1 78C357.1 77.9 357 77.9 357 77.9C356.9 77.8 357 77.9 356.9 77.8C356.7 77.6 356 77.2 355.9 77.1C355.7 76.9 355.8 77 355.7 77C355.7 77 355.6 76.9 355.6 76.9C355.5 76.9 355.5 76.9 355.4 76.9C355.4 76.9 355.3 76.8 355.3 76.8C355.2 76.8 355.2 76.8 355.1 76.8C355.1 76.8 355 76.8 355 76.8C354.9 76.8 354.9 76.8 354.8 76.8C354.8 76.8 354.7 76.8 354.7 76.8C354.6 76.8 354.6 76.9 354.5 76.9C354.5 76.9 354.4 76.9 354.4 76.9C354.4 76.9 354.8 76.7 354.3 77C353.7 77.3 352.5 78 351.3 78.7C350.1 79.3 347.6 80.6 346.9 81C346.2 81.4 347.8 80.5 346.9 81C346 81.5 342.5 83.4 341.6 83.9C340.7 84.4 342.4 83.4 341.5 83.9C340.6 84.5 338 86.2 336.3 87.2C334.5 88.2 331.9 89.5 331 90C330.1 90.4 331.8 89.5 330.9 90C330 90.6 327.4 92.4 325.6 93.5C323.9 94.6 321.2 96 320.4 96.5C319.5 97 321.2 96 320.4 96.5C319.5 97 316.9 98.5 315.2 99.5C313.4 100.5 310.8 101.9 309.9 102.4C309 102.9 310.9 101.8 309.9 102.4C308.9 102.9 305 105.1 304 105.7C303 106.3 303.9 105.7 303.9 105.8C303.8 105.8 304.6 105.1 303.8 105.8C302.9 106.6 300.2 108.8 298.5 110.1C296.7 111.4 294.1 113.1 293.2 113.8C292.3 114.4 294 113.1 293.1 113.9C292.2 114.7 288.7 118 287.9 118.8C287 119.6 288.7 118 287.8 118.8C287 119.7 283.4 123.2 282.5 124C281.7 124.9 283.4 123.2 282.5 124C281.7 124.9 279 127.9 277.4 129.2C275.7 130.6 273.8 131.6 272.6 132.1C271.4 132.6 270.5 132.1 270 132.1C269.5 132.1 269.9 132.1 269.9 132.1C269.8 132.1 269.8 132.1 269.7 132.1C269.7 132.1 269.6 132.2 269.6 132.2C269.5 132.2 269.5 132.2 269.4 132.2C269.4 132.2 269.3 132.3 269.3 132.3C269.2 132.3 269.2 132.3 269.2 132.4C269.1 132.4 269.1 132.4 269 132.4C269 132.5 269 132.5 268.9 132.5C268.9 132.6 268.9 132.6 268.8 132.6C268.8 132.7 268.8 132.7 268.8 132.8C268.7 132.8 268.7 132.8 268.7 132.9C268.7 132.9 268.6 133 268.6 133C268.6 133.1 268.6 133.1 268.6 133.2C268.6 133.2 268.5 133.3 268.5 133.3C268.5 133.4 268.5 133.4 268.5 133.5C268.5 133.5 268.5 129.8 268.5 133.6C268.5 137.4 268.5 152.2 268.5 156C268.5 159.8 268.5 156.1 268.5 156.1C268.5 156.2 268.5 156.2 268.5 156.3C268.5 156.3 268.6 156.4 268.6 156.4C268.6 156.5 268.6 156.5 268.6 156.6C268.6 156.6 268.7 156.7 268.7 156.7C268.7 156.8 268.7 156.8 268.8 156.8C268.8 156.9 268.8 156.9 268.8 157C268.9 157 268.9 157 268.9 157.1C269 157.1 269 157.1 269 157.2C269.1 157.2 269.1 157.2 269.2 157.2C269.2 157.3 269.2 157.3 269.3 157.3C269.3 157.3 269.4 157.4 269.4 157.4C269.5 157.4 269.5 157.4 269.6 157.4C269.6 157.4 269.7 157.5 269.7 157.5C269.8 157.5 269.8 157.5 269.9 157.5C269.9 157.5 267 157.5 270 157.5Z" fill="#00008c"/><path d="M352 78h1v1h-1zM354 78h2v1h-2zM350 79h2v1h-2zM355 79h2v1h-2zM351 80h1v1h-1zM347 81h2v1h-2zM354 81h1v1h-1zM346 82h2v1h-2zM351 82h1v1h-1zM355 82h1v1h-1zM342 83h2v1h-2zM346 83h1v1h-1zM349 83h1v1h-1zM355 83h1v1h-1zM341 84h2v1h-2zM344 84h1v1h-1zM341 85h1v1h-1zM352 85h1v1h-1zM338 86h5v1h-5zM349 86h1v1h-1zM353 86h2v1h-2zM336 87h3v1h-3zM340 87h1v1h-1zM352 87h2v1h-2zM334 88h1v1h-1zM336 88h1v1h-1zM341 88h1v1h-1zM351 88h2v1h-2zM332 89h1v1h-1zM339 89h1v1h-1zM351 89h1v1h-1zM332 90h3v1h-3zM347 90h1v1h-1zM351 90h1v1h-1zM329 91h3v1h-3zM346 91h1v1h-1zM350 91h2v1h-2zM327 92h1v1h-1zM329 92h1v1h-1zM345 92h2v1h-2zM348 92h1v1h-1zM350 92h1v1h-1zM330 93h1v1h-1zM349 93h1v1h-1zM324 94h2v1h-2zM322 95h3v1h-3zM346 95h3v1h-3zM320 96h2v1h-2zM324 96h1v1h-1zM344 96h1v1h-1zM320 97h1v1h-1zM342 97h1v1h-1zM345 97h2v1h-2zM317 98h1v1h-1zM319 98h2v1h-2zM342 98h1v1h-1zM315 99h1v1h-1zM319 99h1v1h-1zM345 99h1v1h-1zM313 100h4v1h-4zM340 100h1v1h-1zM311 101h2v1h-2zM314 101h1v1h-1zM341 101h1v1h-1zM343 101h1v1h-1zM310 102h3v1h-3zM338 102h1v1h-1zM340 102h1v1h-1zM342 102h2v1h-2zM308 103h2v1h-2zM341 103h2v1h-2zM307 104h1v1h-1zM310 104h1v1h-1zM338 104h1v1h-1zM304 105h1v1h-1zM307 105h1v1h-1zM309 105h1v1h-1zM339 105h1v1h-1zM303 106h3v1h-3zM339 106h2v1h-2zM302 107h2v1h-2zM300 108h3v1h-3zM305 108h3v1h-3zM300 109h1v1h-1zM302 109h1v1h-1zM338 109h1v1h-1zM298 110h1v1h-1zM338 110h1v1h-1zM296 111h2v1h-2zM335 111h1v1h-1zM295 112h1v1h-1zM332 112h1v1h-1zM334 112h1v1h-1zM295 113h1v1h-1zM292 114h1v1h-1zM291 115h2v1h-2zM295 115h1v1h-1zM334 115h1v1h-1zM291 116h1v1h-1zM296 116h1v1h-1zM334 116h1v1h-1zM289 117h3v1h-3zM332 117h1v1h-1zM288 118h1v1h-1zM294 118h1v1h-1zM332 118h2v1h-2zM287 119h1v1h-1zM332 119h1v1h-1zM287 120h1v1h-1zM289 120h1v1h-1zM291 120h1v1h-1zM330 120h1v1h-1zM285 121h1v1h-1zM287 121h2v1h-2zM291 121h1v1h-1zM331 121h1v1h-1zM284 122h3v1h-3zM283 123h2v1h-2zM286 123h1v1h-1zM326 123h1v1h-1zM283 124h1v1h-1zM323 124h2v1h-2zM281 125h3v1h-3zM285 125h1v1h-1zM323 125h3v1h-3zM280 126h2v1h-2zM283 126h1v1h-1zM319 126h1v1h-1zM324 126h1v1h-1zM279 127h1v1h-1zM322 127h1v1h-1zM279 128h3v1h-3zM321 128h1v1h-1zM277 129h2v1h-2zM281 129h1v1h-1zM318 129h2v1h-2zM278 130h1v1h-1zM312 130h1v1h-1zM316 130h1v1h-1zM318 130h1v1h-1zM274 131h1v1h-1zM277 131h1v1h-1zM311 131h1v1h-1zM315 131h3v1h-3zM273 132h1v1h-1zM313 132h1v1h-1zM315 132h1v1h-1zM273 133h1v1h-1zM275 133h1v1h-1zM277 133h1v1h-1zM313 133h1v1h-1zM273 134h1v1h-1zM313 134h1v1h-1zM273 135h1v1h-1zM309 135h1v1h-1zM306 137h1v1h-1zM308 138h1v1h-1zM302 141h1v1h-1zM305 141h1v1h-1zM299 144h1v1h-1zM299 145h2v1h-2zM298 146h1v1h-1zM300 146h1v1h-1zM298 147h2v1h-2zM293 148h1v1h-1zM296 148h1v1h-1zM292 149h1v1h-1zM295 149h3v1h-3zM295 150h2v1h-2zM289 151h1v1h-1z" fill="#ffffff"/><path d="M353 74h1v1h-1zM356 75h2v1h-2zM351 76h2v1h-2zM356 76h2v1h-2zM356 77h1v1h-1zM358 77h1v1h-1zM349 78h1v1h-1zM351 78h1v1h-1zM349 79h1v1h-1zM360 79h1v1h-1zM343 80h1v1h-1zM347 80h1v1h-1zM345 81h1v1h-1zM341 82h2v1h-2zM340 83h1v1h-1zM340 84h1v1h-1zM336 86h1v1h-1zM329 87h1v1h-1zM333 88h1v1h-1zM353 88h1v1h-1zM329 90h1v1h-1zM328 91h1v1h-1zM321 92h1v1h-1zM326 92h1v1h-1zM318 95h1v1h-1zM320 95h1v1h-1zM349 95h1v1h-1zM317 97h1v1h-1zM347 97h1v1h-1zM306 101h2v1h-2zM310 101h1v1h-1zM344 101h2v1h-2zM308 102h1v1h-1zM344 102h1v1h-1zM344 103h1v1h-1zM301 104h1v1h-1zM302 105h1v1h-1zM344 105h1v1h-1zM298 106h1v1h-1zM301 106h1v1h-1zM341 106h1v1h-1zM300 107h2v1h-2zM341 108h1v1h-1zM295 109h1v1h-1zM342 110h1v1h-1zM293 113h1v1h-1zM290 114h1v1h-1zM289 115h2v1h-2zM288 116h1v1h-1zM336 116h1v1h-1zM335 117h1v1h-1zM286 118h2v1h-2zM334 118h1v1h-1zM333 119h1v1h-1zM283 121h2v1h-2zM332 121h1v1h-1zM332 123h1v1h-1zM277 124h1v1h-1zM281 124h1v1h-1zM277 125h1v1h-1zM327 125h1v1h-1zM279 126h1v1h-1zM325 126h2v1h-2zM278 127h1v1h-1zM326 127h1v1h-1zM274 129h3v1h-3zM320 129h1v1h-1zM322 129h1v1h-1zM319 130h1v1h-1zM325 130h1v1h-1zM316 132h1v1h-1zM321 132h1v1h-1zM315 133h1v1h-1zM315 134h1v1h-1zM314 135h1v1h-1zM311 136h3v1h-3zM312 137h1v1h-1zM310 138h1v1h-1zM309 142h1v1h-1zM304 143h1v1h-1zM306 143h1v1h-1zM302 145h1v1h-1zM301 146h2v1h-2zM305 147h1v1h-1zM297 150h1v1h-1zM295 151h3v1h-3z" fill="#00008c"/><path d="M321.8 93.7h1.1v1.1h-1.1zM278.1 126.6h1.1v1.1h-1.1zM298.2 152.7h0.9v0.9h-0.9zM288.7 115.3h1.2v1.2h-1.2zM313.4 98.3h1.3v1.3h-1.3zM293.3 111.1h1.1v1.1h-1.1zM344.2 105h1.1v1.1h-1.1zM327.2 128h1.2v1.2h-1.2zM341.4 110.4h1.1v1.1h-1.1zM309.5 140.8h1.3v1.3h-1.3zM281.9 119.1h1.4v1.4h-1.4zM322.5 129.2h1.4v1.4h-1.4zM280 122.4h1.6v1.6h-1.6zM293.7 111h1v1h-1zM288.9 114.3h0.9v0.9h-0.9zM285.6 118.1h1v1h-1zM334.3 121.9h1.1v1.1h-1.1zM319.1 94.4h1.5v1.5h-1.5zM313.5 138.9h1.5v1.5h-1.5zM301.9 151.1h1v1h-1zM312.9 137.2h1.5v1.5h-1.5zM343.8 108.4h0.9v0.9h-0.9zM331.6 125.6h1.5v1.5h-1.5zM329.9 127h1.5v1.5h-1.5zM301.8 104.3h1.6v1.6h-1.6zM305.2 145.7h1.1v1.1h-1.1zM359.2 76.2h1v1h-1zM350.7 94.7h1.5v1.5h-1.5zM324.7 129.5h1.1v1.1h-1.1zM295.1 153.3h1.3v1.3h-1.3zM341.2 109.7h1.6v1.6h-1.6zM305.1 147.4h1.5v1.5h-1.5zM334.4 122.9h1.5v1.5h-1.5zM334.3 124.5h1.5v1.5h-1.5zM335.9 120.5h1.6v1.6h-1.6zM325.3 127.5h1.4v1.4h-1.4zM300.1 149.4h1.3v1.3h-1.3zM299.6 104.8h1v1h-1zM324.7 129.2h1.3v1.3h-1.3zM329.4 87h1.1v1.1h-1.1zM315.6 96.4h1.4v1.4h-1.4zM276.7 127.3h1.2v1.2h-1.2zM281.8 123.2h1.1v1.1h-1.1zM298.2 106.9h1.3v1.3h-1.3zM289.4 114.1h1.6v1.6h-1.6zM312.3 138.7h1.2v1.2h-1.2zM336.1 119.5h1.4v1.4h-1.4zM288.9 112.8h1.4v1.4h-1.4zM320.7 132.9h0.9v0.9h-0.9zM288.3 114.5h0.9v0.9h-0.9zM316.3 135.8h1.4v1.4h-1.4zM315.6 134.6h0.9v0.9h-0.9zM286.3 117.4h1.5v1.5h-1.5zM341.8 109.5h1.3v1.3h-1.3zM295.6 109.5h1.3v1.3h-1.3zM300.1 150.6h1.6v1.6h-1.6zM329.2 127.6h1.2v1.2h-1.2zM321.8 93.6h1.2v1.2h-1.2zM330.3 127.1h1.1v1.1h-1.1zM318.5 132.7h1.5v1.5h-1.5zM320.2 94.9h1.4v1.4h-1.4zM329.9 126.4h1.4v1.4h-1.4zM305.2 145.8h1.3v1.3h-1.3zM342.8 107h1.3v1.3h-1.3zM336.2 118.7h1.5v1.5h-1.5zM312.5 140.1h1.6v1.6h-1.6zM321 132.7h1.5v1.5h-1.5zM330.4 87.5h1.2v1.2h-1.2zM291.4 111.7h1.3v1.3h-1.3zM326.1 89.5h1.2v1.2h-1.2zM322.2 93.2h1.2v1.2h-1.2zM286.5 116.5h1.6v1.6h-1.6zM320.6 131.9h1.1v1.1h-1.1zM282 119.6h1.5v1.5h-1.5zM319.6 132.7h1.1v1.1h-1.1zM298.8 151.1h1.1v1.1h-1.1zM304.1 148.6h1.5v1.5h-1.5zM322.4 92h1.5v1.5h-1.5zM319.7 131.4h1.1v1.1h-1.1zM306.4 144.5h1.6v1.6h-1.6zM307.5 102.1h1.4v1.4h-1.4zM332.9 123.5h1.3v1.3h-1.3zM302.2 150h1.1v1.1h-1.1zM283.2 120.4h1.6v1.6h-1.6zM340.9 110h1.6v1.6h-1.6zM340.4 112.1h1.3v1.3h-1.3zM305.5 147.1h1v1h-1zM308.3 145.1h1.6v1.6h-1.6zM300.8 104.9h0.9v0.9h-0.9zM295.9 107.6h1.2v1.2h-1.2zM322 130.6h1v1h-1zM334.2 84.8h1.1v1.1h-1.1zM308.2 143.8h1.2v1.2h-1.2zM293.7 109.2h1.6v1.6h-1.6zM324.7 92.3h1.1v1.1h-1.1zM303.5 103.8h1.1v1.1h-1.1zM297.7 107.2h1.1v1.1h-1.1zM298.2 107h1.2v1.2h-1.2zM278.7 122.9h1v1h-1zM299.7 150.9h1.4v1.4h-1.4zM304.1 103.5h0.9v0.9h-0.9zM328.3 126.9h0.9v0.9h-0.9zM322.1 133.1h1.6v1.6h-1.6zM326.7 89.2h1.2v1.2h-1.2zM314.1 137h1v1h-1zM319.4 134.9h1.5v1.5h-1.5zM316.5 95.7h1.4v1.4h-1.4zM357.8 76h1.4v1.4h-1.4zM298.1 108.5h0.9v0.9h-0.9zM321.5 91.9h1.6v1.6h-1.6zM338.4 114.4h1.6v1.6h-1.6zM310.4 99.3h0.9v0.9h-0.9zM333.7 124.5h1.4v1.4h-1.4zM288.1 115.2h1.6v1.6h-1.6zM304.6 148.2h1.1v1.1h-1.1zM309.1 99.8h1.4v1.4h-1.4zM311.6 138.2h1.5v1.5h-1.5zM297.9 105.3h1.3v1.3h-1.3zM316.1 96.4h1v1h-1zM301.5 151.6h1.2v1.2h-1.2zM326.1 129.5h1.5v1.5h-1.5zM316.7 96.6h0.9v0.9h-0.9zM320.2 94.8h1v1h-1zM334.9 123.5h1.2v1.2h-1.2zM281.3 122.2h1.4v1.4h-1.4zM320.7 130.9h1.6v1.6h-1.6zM316.2 136h1.6v1.6h-1.6zM343.6 81.1h1.1v1.1h-1.1zM315.3 97.4h1.6v1.6h-1.6zM281.8 119.2h1.3v1.3h-1.3zM329.7 88.8h1.3v1.3h-1.3zM323.3 130.9h1.2v1.2h-1.2zM277 124.5h1.3v1.3h-1.3zM332.7 124.1h1v1h-1zM307.4 144h1.2v1.2h-1.2zM324.1 131.7h1.2v1.2h-1.2zM306.8 102.4h1.6v1.6h-1.6zM299.9 151.4h1.2v1.2h-1.2zM284.6 120h1.6v1.6h-1.6zM304 101.4h1.1v1.1h-1.1zM307.6 142.3h1v1h-1zM297 151.6h1.3v1.3h-1.3zM320.2 131.7h1.2v1.2h-1.2zM298.6 151.5h1.1v1.1h-1.1zM343.8 104.5h1.5v1.5h-1.5zM346.1 79.7h1.5v1.5h-1.5zM340.1 82.8h1.5v1.5h-1.5zM324.7 129.1h1.1v1.1h-1.1zM329.1 128.1h1.3v1.3h-1.3zM308.1 98.9h1.4v1.4h-1.4zM313.3 99.2h1.1v1.1h-1.1zM306.2 145.6h1.5v1.5h-1.5zM285.9 116.9h1v1h-1zM309.7 140.7h1.3v1.3h-1.3zM333 123.7h1.4v1.4h-1.4zM326.1 89.9h1.5v1.5h-1.5zM296.2 109.6h1v1h-1zM332.4 87.3h1.2v1.2h-1.2zM316.6 134.9h1.1v1.1h-1.1zM311 139.5h1v1h-1zM333.3 121.5h1.2v1.2h-1.2zM323.6 130.9h1.1v1.1h-1.1zM289.3 112.4h1.2v1.2h-1.2zM306.4 100h1.2v1.2h-1.2zM330.2 124.8h1.4v1.4h-1.4zM273.1 129.4h1.5v1.5h-1.5zM338.8 84.1h1.5v1.5h-1.5zM302.2 104h1.2v1.2h-1.2zM336.1 119.6h1.4v1.4h-1.4zM325.8 128.5h1.6v1.6h-1.6zM309.6 100.4h1.3v1.3h-1.3zM299.5 106.5h1.4v1.4h-1.4zM339.5 115.9h1.6v1.6h-1.6zM346.3 102.9h1.4v1.4h-1.4zM290.4 113.7h1.3v1.3h-1.3zM338.4 114.6h1.1v1.1h-1.1zM286.6 115h1.1v1.1h-1.1zM308.5 144.7h1v1h-1zM310.9 100.4h1v1h-1zM341.4 108.4h1.4v1.4h-1.4zM343.4 107h1.6v1.6h-1.6zM298.7 152.3h1v1h-1zM343.1 81h0.9v0.9h-0.9zM312.9 138.3h1.2v1.2h-1.2zM342.5 109.5h1.3v1.3h-1.3zM274.7 126.7h1.5v1.5h-1.5zM302.5 148.7h0.9v0.9h-0.9zM307.7 143.1h1.4v1.4h-1.4zM336.5 119.3h1.3v1.3h-1.3zM338.6 114.6h1.4v1.4h-1.4zM334.5 86h1.4v1.4h-1.4zM320.5 94.1h1v1h-1zM273.2 128.9h1.4v1.4h-1.4zM282.3 120.5h1.5v1.5h-1.5zM316.7 135.2h1.5v1.5h-1.5zM322.3 131.1h1v1h-1zM338 83.9h1.6v1.6h-1.6zM317.7 94.6h1.4v1.4h-1.4zM322.4 131.9h1.2v1.2h-1.2zM306.5 146.6h0.9v0.9h-0.9zM340.6 112.9h1.2v1.2h-1.2zM337.3 121.1h1v1h-1zM337.7 118.1h1v1h-1zM341.1 109h1.1v1.1h-1.1zM350.3 77.7h0.9v0.9h-0.9zM335.8 121.6h1v1h-1zM301.9 104.7h1.5v1.5h-1.5zM307.4 101.7h1.6v1.6h-1.6zM328.1 128.9h1.4v1.4h-1.4zM325.1 91.9h1.5v1.5h-1.5zM318.7 132.8h1.5v1.5h-1.5zM283.7 120h1.3v1.3h-1.3zM346.3 102.5h1.5v1.5h-1.5zM323.6 93.3h1.5v1.5h-1.5zM327.1 128.9h1.2v1.2h-1.2zM298.4 151.8h1.2v1.2h-1.2zM281.6 122.4h1.2v1.2h-1.2zM303.2 103.2h1.5v1.5h-1.5zM306.5 102.8h1.5v1.5h-1.5zM307.8 142.5h1.2v1.2h-1.2zM307.1 102.5h1.3v1.3h-1.3zM311.3 99.2h1.3v1.3h-1.3zM314 98.3h1.4v1.4h-1.4zM316 137.8h1v1h-1zM332.9 86.4h1.3v1.3h-1.3zM293 111.6h1.6v1.6h-1.6zM339.3 116.5h1.4v1.4h-1.4zM345.1 103.3h1.4v1.4h-1.4zM300.3 149.8h1v1h-1zM309.3 140.1h1.6v1.6h-1.6zM299.9 151h1.3v1.3h-1.3zM311.8 138.7h0.9v0.9h-0.9zM336.7 118.2h1.6v1.6h-1.6zM299.8 152.3h1.1v1.1h-1.1zM314.1 137.5h1.3v1.3h-1.3zM277.5 127.3h1.3v1.3h-1.3zM315.1 97h1.4v1.4h-1.4zM330.1 88.6h1.5v1.5h-1.5zM346.6 102.5h1.2v1.2h-1.2zM296.5 153h1.3v1.3h-1.3zM284.3 120h1.6v1.6h-1.6zM282.2 120.8h0.9v0.9h-0.9zM333.6 85.4h1.3v1.3h-1.3zM302.1 105.1h1.6v1.6h-1.6zM279.8 121.9h1.2v1.2h-1.2zM358 75.5h1v1h-1zM304.9 103.1h1.2v1.2h-1.2zM316.4 97.4h1.4v1.4h-1.4zM323 132.4h1v1h-1zM301.6 103.3h1.4v1.4h-1.4zM303.4 102.8h1v1h-1zM300 149.9h1.5v1.5h-1.5zM338.8 113.9h1.1v1.1h-1.1zM295.5 107.2h1.1v1.1h-1.1zM294.6 109.5h1.6v1.6h-1.6zM339.5 83.2h1.4v1.4h-1.4zM338.8 115.8h1.3v1.3h-1.3zM329.4 89.5h1.4v1.4h-1.4zM303.4 148h1.4v1.4h-1.4zM317.4 95.3h1v1h-1zM279.8 125.1h1.5v1.5h-1.5zM290.1 112h1.5v1.5h-1.5zM280.9 121.1h1v1h-1zM322.9 93.2h1.4v1.4h-1.4zM310.4 100.2h1.5v1.5h-1.5zM337.7 116.1h1.3v1.3h-1.3zM301.7 150h1v1h-1zM309.4 141.8h1.6v1.6h-1.6zM337.7 114.8h1.2v1.2h-1.2zM343.5 80.5h1v1h-1zM313.6 137.7h1v1h-1zM314.8 135.6h1.5v1.5h-1.5zM296.4 152.1h1.3v1.3h-1.3zM287.3 114.4h1.5v1.5h-1.5zM297.2 108.7h1.2v1.2h-1.2zM342.2 109.7h1v1h-1zM317.1 134.8h1.1v1.1h-1.1zM328.7 90.1h1v1h-1zM311.7 98.2h1.6v1.6h-1.6zM283.5 119.2h1.2v1.2h-1.2zM295.1 153.2h1.6v1.6h-1.6zM278.9 122.7h0.9v0.9h-0.9zM317.1 96.4h1.2v1.2h-1.2zM343.3 106.4h0.9v0.9h-0.9zM280.9 120.6h1.1v1.1h-1.1zM276.8 127.4h1.2v1.2h-1.2zM276.4 126.3h0.9v0.9h-0.9zM323.1 130.2h1.2v1.2h-1.2zM299.4 107.2h1.5v1.5h-1.5zM315.4 136.7h1.6v1.6h-1.6zM340 110.7h1.5v1.5h-1.5zM299.3 150.4h0.9v0.9h-0.9zM304.8 144.9h1.2v1.2h-1.2zM324.5 131.4h1.5v1.5h-1.5zM340.9 109.4h1.2v1.2h-1.2zM345.5 102.9h1.5v1.5h-1.5zM320.7 131.5h0.9v0.9h-0.9zM330.1 126.6h0.9v0.9h-0.9zM288.6 116.4h1.5v1.5h-1.5zM338.3 83.4h1.3v1.3h-1.3zM287.5 116.4h1.3v1.3h-1.3zM300.9 103h1.6v1.6h-1.6zM321.9 93.1h0.9v0.9h-0.9zM328 128.4h1.5v1.5h-1.5zM291.6 113h1.5v1.5h-1.5zM303.9 101.7h1.5v1.5h-1.5zM317.8 135h1.6v1.6h-1.6zM309.9 140.7h1.5v1.5h-1.5zM321.5 92.1h1.2v1.2h-1.2zM305.1 103h1v1h-1zM347.3 99.4h1.6v1.6h-1.6zM340.8 112.6h1.2v1.2h-1.2zM315.4 136.3h1v1h-1zM300.1 152.8h1.4v1.4h-1.4zM273.6 127.5h1.6v1.6h-1.6zM348.7 98.8h1.6v1.6h-1.6zM314.8 135.5h1.5v1.5h-1.5zM324.1 90.6h1.6v1.6h-1.6zM312.5 140.8h1.3v1.3h-1.3zM326.5 90.2h0.9v0.9h-0.9zM311.5 140.4h1.6v1.6h-1.6zM307.5 143.7h1.5v1.5h-1.5zM293.5 111.5h1.2v1.2h-1.2zM325.6 90.2h1v1h-1zM288.9 113.6h1.1v1.1h-1.1zM358.8 75.4h1.5v1.5h-1.5zM335.3 122.9h1.3v1.3h-1.3zM330.4 125.6h1.1v1.1h-1.1zM323 93.5h1v1h-1zM310.3 142.4h0.9v0.9h-0.9zM315.5 95.9h1.4v1.4h-1.4zM304.7 147.3h1.4v1.4h-1.4zM301.4 103.1h1v1h-1zM312.3 137.3h1.1v1.1h-1.1zM300.6 105.9h1.5v1.5h-1.5zM302.2 147.8h1.5v1.5h-1.5zM309.9 141.8h1.6v1.6h-1.6zM343.5 105.1h1v1h-1zM317.9 134.1h1.1v1.1h-1.1zM283 119.1h0.9v0.9h-0.9zM342.5 106.4h1.5v1.5h-1.5zM344.6 103.1h1.4v1.4h-1.4zM321.7 91.6h1.1v1.1h-1.1zM310.9 97.4h1.6v1.6h-1.6zM327.6 128.6h1.3v1.3h-1.3zM309.4 100.2h1.2v1.2h-1.2zM332.2 85.7h0.9v0.9h-0.9zM273.5 128.2h0.9v0.9h-0.9zM340.4 82.8h1.6v1.6h-1.6zM301.5 103.5h0.9v0.9h-0.9zM323 93h1.1v1.1h-1.1zM317.4 94.7h0.9v0.9h-0.9zM313.7 136.6h1.2v1.2h-1.2zM343.2 109.1h1.5v1.5h-1.5zM343.6 106.8h1.4v1.4h-1.4zM299.1 152.1h1.1v1.1h-1.1zM329.7 87.9h1.3v1.3h-1.3zM327.9 128h0.9v0.9h-0.9zM284.1 119.3h1.5v1.5h-1.5zM296.9 107.2h1v1h-1zM315.6 135.4h1.1v1.1h-1.1zM298.7 106.9h1.5v1.5h-1.5zM295.3 108h1.3v1.3h-1.3zM333.3 86.5h1.3v1.3h-1.3zM337.3 85.2h1.4v1.4h-1.4zM310.3 99.6h1.6v1.6h-1.6zM359.1 76.4h1v1h-1zM310.7 140.1h1.5v1.5h-1.5zM277.3 127.7h0.9v0.9h-0.9zM322.3 129.3h1.2v1.2h-1.2zM325.5 130h1.6v1.6h-1.6zM308.5 100h1.2v1.2h-1.2zM321.4 92.4h1.5v1.5h-1.5zM310.7 141.5h1v1h-1zM333.5 86.3h1.1v1.1h-1.1zM273.1 127.8h1.2v1.2h-1.2zM330.6 88.9h1.3v1.3h-1.3zM304.9 101.3h1.1v1.1h-1.1zM342.2 108h1v1h-1zM311 97.5h1.6v1.6h-1.6zM336.8 120.8h1.3v1.3h-1.3zM280.3 124.2h1.2v1.2h-1.2zM333.8 120.9h1.5v1.5h-1.5zM356.2 75.8h1v1h-1zM279.1 125.1h0.9v0.9h-0.9zM299.8 152.8h1.2v1.2h-1.2zM317.5 95.1h1.4v1.4h-1.4zM284.9 118.2h1.1v1.1h-1.1zM283.3 121.1h1.1v1.1h-1.1zM328.9 128.2h1.1v1.1h-1.1zM303 101.8h1.4v1.4h-1.4zM342.9 81.4h1.4v1.4h-1.4zM310.2 100.8h1.2v1.2h-1.2zM284.7 118.5h1v1h-1zM293.4 111.3h1.1v1.1h-1.1zM274.4 127.6h1.3v1.3h-1.3zM330.6 126.9h1.4v1.4h-1.4zM309 100.4h1.2v1.2h-1.2zM309 100.9h1.1v1.1h-1.1zM338.2 113.8h1v1h-1zM336.3 84.9h1.5v1.5h-1.5zM348.8 97.5h1.2v1.2h-1.2zM327.9 89.5h1.5v1.5h-1.5zM288.3 115.9h1.3v1.3h-1.3zM343.8 81.3h1.5v1.5h-1.5zM334 85.9h1.6v1.6h-1.6zM339.8 82.8h1.4v1.4h-1.4zM304.6 101.5h1.2v1.2h-1.2zM327.9 88.5h1.6v1.6h-1.6zM314.7 98h1.3v1.3h-1.3zM313.9 95.5h1v1h-1zM336.1 119.1h1.2v1.2h-1.2zM310.4 139.3h1.5v1.5h-1.5zM281.3 122.1h1.4v1.4h-1.4zM323 92.5h1v1h-1zM328.8 89h1.5v1.5h-1.5zM338.1 114.8h0.9v0.9h-0.9zM299.5 105.9h1v1h-1zM341.8 107.6h1v1h-1zM350.3 95.2h1.3v1.3h-1.3zM341.1 109.9h0.9v0.9h-0.9zM340.2 111.6h1.5v1.5h-1.5zM340 83.3h1.6v1.6h-1.6zM301.2 106.3h1.3v1.3h-1.3zM285.4 118.9h1.4v1.4h-1.4zM318.7 93.2h1.6v1.6h-1.6zM327 127.8h1.3v1.3h-1.3zM281 120.2h1.5v1.5h-1.5zM350.5 94.9h1.3v1.3h-1.3zM318.6 132.6h1.1v1.1h-1.1zM285.6 115.9h1.5v1.5h-1.5zM317.1 95.4h0.9v0.9h-0.9zM343.6 81.3h1.6v1.6h-1.6zM329.1 88.7h0.9v0.9h-0.9zM358.4 77.3h1.4v1.4h-1.4zM316.8 95.4h1.3v1.3h-1.3z" fill="#00008c"/><path d="M311.7 96.2h0.9v0.9h-0.9zM326.5 133.7h1.1v1.1h-1.1zM274.6 119.1h0.9v0.9h-0.9zM324 139.6h1.2v1.2h-1.2zM319.9 147.3h1.5v1.5h-1.5zM285.2 113.9h1v1h-1zM314.2 95.1h1.2v1.2h-1.2zM319.3 139.6h1.6v1.6h-1.6zM317.3 151.4h1.1v1.1h-1.1zM308 146.8h1.3v1.3h-1.3zM308.1 147.3h1.2v1.2h-1.2zM285.9 113.2h1.5v1.5h-1.5zM322.7 136.5h1.1v1.1h-1.1zM282.2 113.9h1v1h-1zM319.1 139.8h1.2v1.2h-1.2zM312.3 141.8h1.6v1.6h-1.6zM315.2 143.9h0.9v0.9h-0.9zM323.8 135h1.4v1.4h-1.4zM327.5 133.6h1v1h-1zM314.2 147.8h1.3v1.3h-1.3zM312.9 141.6h1.3v1.3h-1.3zM304.5 100.5h1.2v1.2h-1.2zM284.5 113h1.3v1.3h-1.3zM306.8 147.3h1.3v1.3h-1.3zM322.7 136.3h1.1v1.1h-1.1zM307.4 149.5h1v1h-1zM312.9 143.2h1.6v1.6h-1.6zM293.6 108.4h0.9v0.9h-0.9zM274.9 118.4h1.5v1.5h-1.5zM328.2 133.1h1v1h-1zM322.5 138.5h1.2v1.2h-1.2zM277.5 115h1.5v1.5h-1.5zM281.5 115.9h1v1h-1zM321.5 134.7h1.2v1.2h-1.2zM273.2 125.1h1.6v1.6h-1.6zM329.9 131.6h1.6v1.6h-1.6zM309.9 144.2h0.9v0.9h-0.9zM273.7 121.6h1.6v1.6h-1.6zM280.2 116h1.1v1.1h-1.1zM279 119.5h1.6v1.6h-1.6zM321.3 143.5h0.9v0.9h-0.9zM324.8 135.1h1.5v1.5h-1.5zM333.4 127.6h1.1v1.1h-1.1zM305.1 151.5h1v1h-1zM331.6 130.7h1.2v1.2h-1.2zM294.5 107.7h1.4v1.4h-1.4zM317.3 140.1h1.5v1.5h-1.5zM304.3 152.5h1.2v1.2h-1.2zM326.7 137.5h1.6v1.6h-1.6zM303.7 150.7h1.5v1.5h-1.5zM313.9 141.5h1.3v1.3h-1.3zM314.2 144.2h1v1h-1zM310.5 145.8h1.6v1.6h-1.6zM308.8 145.7h1.1v1.1h-1.1zM273.1 123.3h1.2v1.2h-1.2zM321.2 134.5h0.9v0.9h-0.9zM273.6 122.9h1.2v1.2h-1.2zM279.5 116.7h1v1h-1zM283 115.6h1.2v1.2h-1.2zM314.2 140.2h0.9v0.9h-0.9zM305.7 151.7h1.1v1.1h-1.1zM329 131.9h1v1h-1zM300.7 152.5h1.5v1.5h-1.5zM322.2 140.5h1.1v1.1h-1.1zM326.3 132.8h1v1h-1zM310.3 153.2h1v1h-1zM313.7 150h1.6v1.6h-1.6zM318.1 136.4h1v1h-1zM324.8 134.9h1.6v1.6h-1.6zM276.8 120.4h1.2v1.2h-1.2zM329.8 128.4h1.3v1.3h-1.3zM315.7 140.3h1.4v1.4h-1.4zM279.9 117.3h1.2v1.2h-1.2zM276.3 124.1h1.5v1.5h-1.5zM330.5 128.9h1v1h-1zM301.7 102h1.4v1.4h-1.4zM302.8 153h1.1v1.1h-1.1zM283.1 116.7h1.3v1.3h-1.3zM278.5 119.9h1.4v1.4h-1.4zM300.2 102.5h0.9v0.9h-0.9zM328.6 130.8h1.5v1.5h-1.5zM316.5 138.3h1.2v1.2h-1.2zM273.6 124.3h1.4v1.4h-1.4zM312.9 142.7h1.2v1.2h-1.2zM316.9 139h1.4v1.4h-1.4zM306.3 99.1h1.6v1.6h-1.6zM324.4 141.8h1.5v1.5h-1.5zM327.3 135h1.2v1.2h-1.2zM315.3 145.7h1.3v1.3h-1.3zM328.9 134.7h1v1h-1zM275.6 123.1h1.2v1.2h-1.2zM283.5 117h1.4v1.4h-1.4zM279.8 115.7h1v1h-1zM325.3 131h1.2v1.2h-1.2zM316 142.7h1.2v1.2h-1.2zM303.5 101.1h1.1v1.1h-1.1zM303.9 153.8h1.1v1.1h-1.1zM310.7 145.2h1.2v1.2h-1.2zM308 98.5h1.4v1.4h-1.4zM309.9 146.8h1.5v1.5h-1.5zM288 112.1h1.3v1.3h-1.3zM274.9 120.8h1.5v1.5h-1.5zM312.2 149.5h1.1v1.1h-1.1zM311.9 149.4h1.6v1.6h-1.6zM302 101.7h1.1v1.1h-1.1zM302.2 101.5h1.6v1.6h-1.6zM321 145h1.4v1.4h-1.4zM321.1 134.4h1.6v1.6h-1.6zM309.2 147.2h0.9v0.9h-0.9zM309.5 148.9h1v1h-1zM318.1 141.6h1.6v1.6h-1.6zM320.8 141.8h1.3v1.3h-1.3zM274.6 125.2h1.4v1.4h-1.4zM310.5 150.1h0.9v0.9h-0.9zM289 111.9h1v1h-1zM316.9 144.6h1.2v1.2h-1.2zM276.7 120.5h1.6v1.6h-1.6zM312.8 143.1h1.5v1.5h-1.5zM303.8 150.4h0.9v0.9h-0.9zM321.9 144.3h1.6v1.6h-1.6zM291 110h0.9v0.9h-0.9zM316.8 142.9h1.5v1.5h-1.5zM332.1 126.9h1.2v1.2h-1.2zM325.4 135.5h1.6v1.6h-1.6zM279.5 120.6h1.2v1.2h-1.2zM307.1 151.7h0.9v0.9h-0.9zM330.3 131.4h1.2v1.2h-1.2zM280.5 118.7h1.4v1.4h-1.4zM284.7 116h1.4v1.4h-1.4zM282.2 117.7h1.6v1.6h-1.6zM310.1 145.2h1.1v1.1h-1.1zM313.5 141.8h1.1v1.1h-1.1zM307.2 99.1h1v1h-1zM332.6 127.7h1.4v1.4h-1.4zM280.2 120.6h1.4v1.4h-1.4zM313.3 148h1v1h-1zM323.8 139h1.6v1.6h-1.6zM287.2 113.2h1.1v1.1h-1.1zM277.2 120.3h1v1h-1zM307.1 148.1h1v1h-1zM277.6 119.8h1.2v1.2h-1.2zM309.6 145.3h1v1h-1zM314.8 142.5h1.1v1.1h-1.1zM308.3 148h1.6v1.6h-1.6zM326.9 133.5h1v1h-1zM276.6 122.1h1.6v1.6h-1.6zM331.9 126.7h0.9v0.9h-0.9zM326.8 130.7h1.6v1.6h-1.6zM305.8 148.7h1.6v1.6h-1.6zM303.7 100.6h1.3v1.3h-1.3zM312.9 141.3h1.4v1.4h-1.4zM306.5 150.3h1v1h-1zM316.5 140.6h1.3v1.3h-1.3zM316.7 144.7h0.9v0.9h-0.9zM309.8 146.4h1.2v1.2h-1.2zM312.7 144.6h1.4v1.4h-1.4zM308.9 152h1v1h-1zM275.3 115.3h1.3v1.3h-1.3zM275.8 123.1h1.4v1.4h-1.4zM316.7 138.9h1.2v1.2h-1.2zM324.5 142.1h1.2v1.2h-1.2zM303.9 152.8h1.4v1.4h-1.4zM316.1 146.1h1v1h-1zM281.7 116.3h1.1v1.1h-1.1zM326.9 134h1.6v1.6h-1.6zM323.6 142.5h1.5v1.5h-1.5zM278.7 119.7h1.1v1.1h-1.1zM307.6 152h1.1v1.1h-1.1zM277.1 114.5h1.5v1.5h-1.5zM281.8 116.6h1.2v1.2h-1.2zM316.1 138.2h1.3v1.3h-1.3zM313.9 149h1.1v1.1h-1.1zM305.1 153.4h1.5v1.5h-1.5zM329.4 131.1h1.3v1.3h-1.3zM328 132h0.9v0.9h-0.9zM277.6 121.7h1.6v1.6h-1.6zM306 154h1.3v1.3h-1.3zM307.8 151.7h0.9v0.9h-0.9zM319.4 138.9h1.1v1.1h-1.1zM292.9 108.8h1.1v1.1h-1.1zM282.7 116.4h0.9v0.9h-0.9zM314.6 144.8h1.1v1.1h-1.1zM317.6 143.9h1.1v1.1h-1.1zM292 109.1h1.1v1.1h-1.1zM306.9 150.8h1.2v1.2h-1.2zM327.1 130.4h1.3v1.3h-1.3zM324 138h1v1h-1zM321.3 138h1.4v1.4h-1.4zM315.1 149.2h1v1h-1zM314.6 145.5h1.1v1.1h-1.1zM312.9 141.5h1.4v1.4h-1.4zM305.1 153.8h1.2v1.2h-1.2zM283.9 115.2h1.5v1.5h-1.5zM327.1 130.1h1.3v1.3h-1.3zM276.3 122.3h1v1h-1zM333.7 125.2h1.4v1.4h-1.4zM311.6 147h1.6v1.6h-1.6zM328.5 130.1h1.5v1.5h-1.5zM303.5 151.9h1.3v1.3h-1.3zM312 96.4h1.6v1.6h-1.6zM305.8 99.6h1.4v1.4h-1.4zM325 137.5h1.2v1.2h-1.2zM323.9 132.4h1.5v1.5h-1.5zM322.5 134h1v1h-1zM280.3 117.6h1v1h-1zM314.5 139.9h1.1v1.1h-1.1zM317.1 152.5h1.1v1.1h-1.1zM279.8 119.7h1.5v1.5h-1.5zM277.3 120.5h1.5v1.5h-1.5zM318 150.2h1v1h-1zM323.4 141.4h1.3v1.3h-1.3zM278.6 118.1h0.9v0.9h-0.9zM276.2 117.5h1.6v1.6h-1.6zM273.8 115.1h1.1v1.1h-1.1z" fill="#4848c0"/><path d="M271.6 140.2C271.3 141.7 271.5 147.4 271.6 148.8C271.7 150.2 270.6 149.2 272.5 148.5C274.4 147.8 279.5 146.2 282.9 144.5C286.4 142.9 289.8 140.8 293.3 138.6C296.7 136.5 300.7 133.8 303.8 131.7C306.9 129.5 309.5 127.6 312 125.7C314.6 123.8 316.7 122.3 319 120.3C321.3 118.3 323.2 116.6 325.9 113.9C328.5 111.2 332.2 107.1 334.8 104C337.4 100.9 340.3 97 341.6 95.2C342.8 93.4 342.9 93.1 342.3 93.2C341.6 93.2 340.3 94 337.8 95.4C335.3 96.8 330.8 99.5 327.3 101.8C323.8 104.2 320.4 106.7 316.8 109.3C313.2 111.9 307.5 116 305.6 117.3C303.8 118.6 307.4 116.2 305.6 117.3C303.8 118.5 298.5 122 295 124.3C291.5 126.7 288 128.8 284.5 131.3C281 133.8 275.7 137.9 274 139.3C272.2 140.6 273.9 139.3 273.8 139.4C273.8 139.4 273.7 139.4 273.7 139.5C273.6 139.5 273.9 139.4 273.5 139.5C273.2 139.6 271.9 138.6 271.6 140.2Z" fill="#0000dc" filter="url(#bl2)"/><path d="M283.9 138.5C283.9 138.5 284.1 138.3 284.2 138.2C284.3 138.1 284.4 137.9 284.5 137.8C284.6 137.7 284.7 137.6 284.8 137.5C284.9 137.4 285 137.2 285.1 137.1C285.2 137 285.3 136.9 285.4 136.8C285.5 136.7 285.6 136.5 285.7 136.4C285.8 136.3 285.9 136.2 286 136.1C286.1 136 286.2 135.9 286.3 135.8C286.4 135.7 286.5 135.6 286.6 135.4C286.7 135.3 286.8 135.2 286.9 135.1C287.1 135 287.2 134.9 287.3 134.8C287.4 134.7 287.5 134.6 287.6 134.5C287.7 134.4 287.8 134.3 287.9 134.2C288 134.1 288.1 134 288.3 133.9C288.4 133.8 288.5 133.7 288.6 133.6C288.7 133.5 288.8 133.4 288.9 133.3C289 133.2 289.2 133.1 289.3 133C289.4 132.9 289.5 132.8 289.6 132.7C289.7 132.6 289.9 132.5 290 132.4C290.1 132.3 290.2 132.2 290.3 132.1C290.4 132 290.6 131.9 290.7 131.9C290.8 131.8 290.9 131.7 291 131.6C291.2 131.5 291.3 131.4 291.4 131.3C291.5 131.2 291.6 131.1 291.8 131.1C291.9 131 292 130.9 292.1 130.8C292.3 130.7 292.4 130.6 292.5 130.5C292.6 130.5 292.8 130.4 292.9 130.3C293 130.2 293.1 130.1 293.3 130.1C293.4 130 293.5 129.9 293.7 129.8C293.8 129.7 293.9 129.7 294 129.6C294.2 129.5 294.3 129.4 294.4 129.3C294.6 129.3 294.7 129.2 294.8 129.1C295 129 295.1 129 295.2 128.9C295.4 128.8 295.5 128.8 295.6 128.7C295.8 128.6 295.9 128.5 296 128.5C296.2 128.4 296.3 128.3 296.4 128.3C296.6 128.2 296.7 128.1 296.8 128C297 128 297.1 127.9 297.3 127.8C297.4 127.8 297.5 127.7 297.7 127.7C297.8 127.6 298.1 127.4 298.1 127.5C298.1 127.5 297.9 127.7 297.8 127.8C297.7 127.9 297.6 128.1 297.5 128.2C297.4 128.3 297.3 128.4 297.2 128.5C297.1 128.6 297 128.8 296.9 128.9C296.8 129 296.7 129.1 296.6 129.2C296.5 129.3 296.4 129.5 296.3 129.6C296.2 129.7 296.1 129.8 296 129.9C295.9 130 295.8 130.1 295.7 130.2C295.6 130.3 295.5 130.4 295.4 130.6C295.3 130.7 295.2 130.8 295.1 130.9C294.9 131 294.8 131.1 294.7 131.2C294.6 131.3 294.5 131.4 294.4 131.5C294.3 131.6 294.2 131.7 294.1 131.8C294 131.9 293.9 132 293.7 132.1C293.6 132.2 293.5 132.3 293.4 132.4C293.3 132.5 293.2 132.6 293.1 132.7C293 132.8 292.8 132.9 292.7 133C292.6 133.1 292.5 133.2 292.4 133.3C292.3 133.4 292.1 133.5 292 133.6C291.9 133.7 291.8 133.8 291.7 133.9C291.6 134 291.4 134.1 291.3 134.1C291.2 134.2 291.1 134.3 291 134.4C290.8 134.5 290.7 134.6 290.6 134.7C290.5 134.8 290.4 134.9 290.2 134.9C290.1 135 290 135.1 289.9 135.2C289.7 135.3 289.6 135.4 289.5 135.5C289.4 135.5 289.2 135.6 289.1 135.7C289 135.8 288.9 135.9 288.7 135.9C288.6 136 288.5 136.1 288.3 136.2C288.2 136.3 288.1 136.3 288 136.4C287.8 136.5 287.7 136.6 287.6 136.7C287.4 136.7 287.3 136.8 287.2 136.9C287 137 286.9 137 286.8 137.1C286.6 137.2 286.5 137.2 286.4 137.3C286.2 137.4 286.1 137.5 286 137.5C285.8 137.6 285.7 137.7 285.6 137.7C285.4 137.8 285.3 137.9 285.2 138C285 138 284.9 138.1 284.7 138.2C284.6 138.2 284.5 138.3 284.3 138.3C284.2 138.4 283.9 138.6 283.9 138.5Z" fill="#0070ff" filter="url(#bl)"/><g filter="url(#bl)"><path d="M292.4 134.3C292.2 134.1 292.7 133.3 292.9 132.9C293.1 132.4 293.4 132 293.6 131.6C293.9 131.2 294.1 130.9 294.4 130.5C294.7 130.1 294.9 129.7 295.2 129.4C295.5 129 295.8 128.6 296.1 128.3C296.3 127.9 296.6 127.5 296.9 127.2C297.2 126.8 297.5 126.5 297.8 126.1C298.1 125.8 298.4 125.4 298.7 125.1C299 124.8 299.3 124.4 299.6 124.1C299.9 123.7 300.2 123.4 300.5 123.1C300.8 122.7 301.1 122.4 301.4 122.1C301.7 121.8 302 121.4 302.3 121.1C302.7 120.8 303 120.5 303.3 120.1C303.6 119.8 303.9 119.5 304.2 119.2C304.6 118.9 304.9 118.5 305.2 118.2C305.5 117.9 305.8 117.6 306.2 117.3C306.5 117 306.8 116.7 307.2 116.4C307.5 116 307.8 115.7 308.1 115.4C308.5 115.1 308.8 114.8 309.1 114.5C309.5 114.2 309.8 113.9 310.1 113.6C310.5 113.3 310.8 113 311.2 112.7C311.5 112.4 311.8 112.2 312.2 111.9C312.5 111.6 312.9 111.3 313.2 111C313.6 110.7 313.9 110.4 314.3 110.1C314.6 109.8 315 109.6 315.3 109.3C315.7 109 316 108.7 316.4 108.4C316.7 108.2 317.1 107.9 317.4 107.6C317.8 107.3 318.2 107.1 318.5 106.8C318.9 106.5 319.2 106.3 319.6 106C320 105.7 320.3 105.5 320.7 105.2C321.1 104.9 321.4 104.7 321.8 104.4C322.2 104.1 322.6 103.9 322.9 103.6C323.3 103.4 323.7 103.1 324.1 102.9C324.5 102.6 324.8 102.4 325.2 102.1C325.6 101.9 326 101.7 326.4 101.4C326.8 101.2 327.2 101 327.6 100.7C328 100.5 328.4 100.3 328.8 100.1C329.2 99.8 329.6 99.6 330 99.4C330.5 99.2 330.9 99 331.3 98.9C331.8 98.7 332.7 98.3 332.8 98.5C333 98.7 332.5 99.5 332.3 99.9C332.1 100.4 331.8 100.8 331.6 101.2C331.3 101.6 331.1 101.9 330.8 102.3C330.5 102.7 330.3 103.1 330 103.4C329.7 103.8 329.4 104.2 329.1 104.5C328.9 104.9 328.6 105.3 328.3 105.6C328 106 327.7 106.3 327.4 106.7C327.1 107 326.8 107.4 326.5 107.7C326.2 108 325.9 108.4 325.6 108.7C325.3 109.1 325 109.4 324.7 109.7C324.4 110.1 324.1 110.4 323.8 110.7C323.5 111 323.2 111.4 322.9 111.7C322.5 112 322.2 112.3 321.9 112.7C321.6 113 321.3 113.3 321 113.6C320.6 113.9 320.3 114.3 320 114.6C319.7 114.9 319.4 115.2 319 115.5C318.7 115.8 318.4 116.1 318 116.4C317.7 116.8 317.4 117.1 317.1 117.4C316.7 117.7 316.4 118 316.1 118.3C315.7 118.6 315.4 118.9 315.1 119.2C314.7 119.5 314.4 119.8 314 120.1C313.7 120.4 313.4 120.6 313 120.9C312.7 121.2 312.3 121.5 312 121.8C311.6 122.1 311.3 122.4 310.9 122.7C310.6 123 310.2 123.2 309.9 123.5C309.5 123.8 309.2 124.1 308.8 124.4C308.5 124.6 308.1 124.9 307.8 125.2C307.4 125.5 307 125.7 306.7 126C306.3 126.3 306 126.5 305.6 126.8C305.2 127.1 304.9 127.3 304.5 127.6C304.1 127.9 303.8 128.1 303.4 128.4C303 128.7 302.6 128.9 302.3 129.2C301.9 129.4 301.5 129.7 301.1 129.9C300.7 130.2 300.4 130.4 300 130.7C299.6 130.9 299.2 131.1 298.8 131.4C298.4 131.6 298 131.8 297.6 132.1C297.2 132.3 296.8 132.5 296.4 132.7C296 133 295.6 133.2 295.2 133.4C294.7 133.6 294.3 133.8 293.9 133.9C293.4 134.1 292.5 134.5 292.4 134.3Z" fill="#0070ff"/><path d="M293.9 133C293.7 132.8 294.2 132.1 294.4 131.7C294.6 131.3 294.8 130.9 295.1 130.6C295.3 130.2 295.6 129.9 295.8 129.5C296.1 129.2 296.3 128.8 296.6 128.5C296.8 128.1 297.1 127.8 297.4 127.5C297.6 127.2 297.9 126.8 298.2 126.5C298.4 126.2 298.7 125.9 299 125.5C299.3 125.2 299.5 124.9 299.8 124.6C300.1 124.3 300.4 124 300.7 123.6C300.9 123.3 301.2 123 301.5 122.7C301.8 122.4 302.1 122.1 302.4 121.8C302.7 121.5 302.9 121.2 303.2 120.9C303.5 120.6 303.8 120.3 304.1 120C304.4 119.7 304.7 119.4 305 119.1C305.3 118.8 305.6 118.5 305.9 118.3C306.2 118 306.5 117.7 306.8 117.4C307.1 117.1 307.4 116.8 307.7 116.5C308 116.2 308.3 116 308.6 115.7C308.9 115.4 309.2 115.1 309.5 114.8C309.9 114.6 310.2 114.3 310.5 114C310.8 113.7 311.1 113.5 311.4 113.2C311.7 112.9 312 112.6 312.4 112.4C312.7 112.1 313 111.8 313.3 111.6C313.6 111.3 314 111 314.3 110.8C314.6 110.5 314.9 110.2 315.3 110C315.6 109.7 315.9 109.4 316.2 109.2C316.6 108.9 316.9 108.7 317.2 108.4C317.5 108.2 317.9 107.9 318.2 107.7C318.5 107.4 318.9 107.1 319.2 106.9C319.6 106.7 319.9 106.4 320.2 106.2C320.6 105.9 320.9 105.7 321.3 105.4C321.6 105.2 321.9 104.9 322.3 104.7C322.6 104.5 323 104.2 323.3 104C323.7 103.8 324 103.5 324.4 103.3C324.7 103.1 325.1 102.9 325.5 102.6C325.8 102.4 326.2 102.2 326.5 102C326.9 101.8 327.3 101.5 327.7 101.3C328 101.1 328.4 100.9 328.8 100.7C329.2 100.6 329.5 100.3 330 100.2C330.4 100 331.2 99.7 331.3 99.8C331.5 100 331 100.7 330.8 101.1C330.6 101.5 330.4 101.9 330.1 102.2C329.9 102.6 329.6 102.9 329.4 103.3C329.1 103.6 328.9 104 328.6 104.3C328.4 104.7 328.1 105 327.8 105.3C327.6 105.6 327.3 106 327 106.3C326.8 106.6 326.5 106.9 326.2 107.3C325.9 107.6 325.7 107.9 325.4 108.2C325.1 108.5 324.8 108.8 324.5 109.2C324.3 109.5 324 109.8 323.7 110.1C323.4 110.4 323.1 110.7 322.8 111C322.5 111.3 322.3 111.6 322 111.9C321.7 112.2 321.4 112.5 321.1 112.8C320.8 113.1 320.5 113.4 320.2 113.7C319.9 114 319.6 114.3 319.3 114.5C319 114.8 318.7 115.1 318.4 115.4C318.1 115.7 317.8 116 317.5 116.3C317.2 116.6 316.9 116.8 316.6 117.1C316.3 117.4 316 117.7 315.7 118C315.3 118.2 315 118.5 314.7 118.8C314.4 119.1 314.1 119.3 313.8 119.6C313.5 119.9 313.2 120.2 312.8 120.4C312.5 120.7 312.2 121 311.9 121.2C311.6 121.5 311.2 121.8 310.9 122C310.6 122.3 310.3 122.6 309.9 122.8C309.6 123.1 309.3 123.4 309 123.6C308.6 123.9 308.3 124.1 308 124.4C307.7 124.6 307.3 124.9 307 125.1C306.7 125.4 306.3 125.7 306 125.9C305.6 126.1 305.3 126.4 305 126.6C304.6 126.9 304.3 127.1 303.9 127.4C303.6 127.6 303.3 127.9 302.9 128.1C302.6 128.3 302.2 128.6 301.9 128.8C301.5 129 301.2 129.3 300.8 129.5C300.5 129.7 300.1 129.9 299.7 130.2C299.4 130.4 299 130.6 298.7 130.8C298.3 131 297.9 131.3 297.5 131.5C297.2 131.7 296.8 131.9 296.4 132.1C296 132.2 295.7 132.5 295.2 132.6C294.8 132.8 294 133.1 293.9 133Z" fill="#00b0ff"/><path d="M295.1 131.8C295 131.7 295.5 131 295.7 130.7C295.9 130.3 296.1 130 296.3 129.6C296.5 129.3 296.8 129 297 128.7C297.2 128.3 297.5 128 297.7 127.7C298 127.4 298.2 127.1 298.5 126.8C298.7 126.5 299 126.2 299.2 125.9C299.5 125.6 299.7 125.3 300 125C300.3 124.7 300.5 124.4 300.8 124.1C301 123.8 301.3 123.5 301.6 123.3C301.8 123 302.1 122.7 302.4 122.4C302.6 122.1 302.9 121.8 303.2 121.6C303.4 121.3 303.7 121 304 120.7C304.3 120.4 304.5 120.2 304.8 119.9C305.1 119.6 305.4 119.3 305.6 119.1C305.9 118.8 306.2 118.5 306.5 118.3C306.7 118 307 117.7 307.3 117.4C307.6 117.2 307.9 116.9 308.2 116.7C308.4 116.4 308.7 116.1 309 115.9C309.3 115.6 309.6 115.3 309.9 115.1C310.2 114.8 310.5 114.6 310.7 114.3C311 114 311.3 113.8 311.6 113.5C311.9 113.3 312.2 113 312.5 112.8C312.8 112.5 313.1 112.3 313.4 112C313.7 111.8 314 111.5 314.3 111.3C314.6 111 314.9 110.8 315.2 110.5C315.5 110.3 315.8 110 316.1 109.8C316.4 109.6 316.7 109.3 317 109.1C317.3 108.8 317.6 108.6 317.9 108.4C318.2 108.1 318.6 107.9 318.9 107.7C319.2 107.4 319.5 107.2 319.8 107C320.1 106.7 320.4 106.5 320.8 106.3C321.1 106.1 321.4 105.8 321.7 105.6C322 105.4 322.4 105.2 322.7 104.9C323 104.7 323.3 104.5 323.7 104.3C324 104.1 324.3 103.9 324.6 103.6C325 103.4 325.3 103.2 325.7 103C326 102.8 326.3 102.6 326.7 102.4C327 102.2 327.4 102 327.7 101.8C328.1 101.7 328.4 101.5 328.8 101.3C329.2 101.2 329.9 100.8 330.1 101C330.2 101.1 329.7 101.8 329.5 102.1C329.3 102.5 329.1 102.8 328.9 103.2C328.7 103.5 328.4 103.8 328.2 104.1C328 104.5 327.7 104.8 327.5 105.1C327.2 105.4 327 105.7 326.7 106C326.5 106.3 326.2 106.6 326 106.9C325.7 107.2 325.5 107.5 325.2 107.8C324.9 108.1 324.7 108.4 324.4 108.7C324.2 109 323.9 109.3 323.6 109.5C323.4 109.8 323.1 110.1 322.8 110.4C322.6 110.7 322.3 111 322 111.2C321.8 111.5 321.5 111.8 321.2 112.1C320.9 112.4 320.7 112.6 320.4 112.9C320.1 113.2 319.8 113.5 319.6 113.7C319.3 114 319 114.3 318.7 114.5C318.5 114.8 318.2 115.1 317.9 115.4C317.6 115.6 317.3 115.9 317 116.1C316.8 116.4 316.5 116.7 316.2 116.9C315.9 117.2 315.6 117.5 315.3 117.7C315 118 314.7 118.2 314.5 118.5C314.2 118.8 313.9 119 313.6 119.3C313.3 119.5 313 119.8 312.7 120C312.4 120.3 312.1 120.5 311.8 120.8C311.5 121 311.2 121.3 310.9 121.5C310.6 121.8 310.3 122 310 122.3C309.7 122.5 309.4 122.8 309.1 123C308.8 123.2 308.5 123.5 308.2 123.7C307.9 124 307.6 124.2 307.3 124.4C307 124.7 306.6 124.9 306.3 125.1C306 125.4 305.7 125.6 305.4 125.8C305.1 126.1 304.8 126.3 304.4 126.5C304.1 126.7 303.8 127 303.5 127.2C303.2 127.4 302.8 127.6 302.5 127.9C302.2 128.1 301.9 128.3 301.5 128.5C301.2 128.7 300.9 128.9 300.6 129.2C300.2 129.4 299.9 129.6 299.5 129.8C299.2 130 298.9 130.2 298.5 130.4C298.2 130.6 297.8 130.8 297.5 131C297.1 131.1 296.8 131.3 296.4 131.5C296 131.6 295.3 132 295.1 131.8Z" fill="#00ffff"/><path d="M295.9 131.2C295.8 131.1 296.2 130.4 296.4 130.1C296.6 129.7 296.8 129.4 297.1 129.1C297.3 128.8 297.5 128.5 297.7 128.2C298 127.9 298.2 127.6 298.4 127.3C298.7 127 298.9 126.7 299.1 126.4C299.4 126.1 299.6 125.9 299.9 125.6C300.1 125.3 300.4 125 300.6 124.7C300.9 124.4 301.1 124.2 301.4 123.9C301.6 123.6 301.9 123.3 302.1 123.1C302.4 122.8 302.6 122.5 302.9 122.3C303.2 122 303.4 121.7 303.7 121.5C303.9 121.2 304.2 120.9 304.5 120.7C304.7 120.4 305 120.1 305.2 119.9C305.5 119.6 305.8 119.3 306 119.1C306.3 118.8 306.6 118.6 306.8 118.3C307.1 118 307.4 117.8 307.6 117.5C307.9 117.3 308.2 117 308.5 116.8C308.7 116.5 309 116.3 309.3 116C309.6 115.8 309.8 115.5 310.1 115.3C310.4 115 310.7 114.8 310.9 114.5C311.2 114.3 311.5 114 311.8 113.8C312.1 113.5 312.3 113.3 312.6 113.1C312.9 112.8 313.2 112.6 313.5 112.3C313.8 112.1 314 111.9 314.3 111.6C314.6 111.4 314.9 111.2 315.2 110.9C315.5 110.7 315.8 110.4 316.1 110.2C316.4 110 316.6 109.7 316.9 109.5C317.2 109.3 317.5 109.1 317.8 108.8C318.1 108.6 318.4 108.4 318.7 108.2C319 107.9 319.3 107.7 319.6 107.5C319.9 107.3 320.2 107 320.5 106.8C320.8 106.6 321.1 106.4 321.4 106.2C321.7 105.9 322 105.7 322.3 105.5C322.6 105.3 322.9 105.1 323.3 104.9C323.6 104.7 323.9 104.5 324.2 104.3C324.5 104.1 324.8 103.9 325.2 103.7C325.5 103.5 325.8 103.3 326.1 103.1C326.4 102.9 326.8 102.7 327.1 102.5C327.5 102.3 327.8 102.1 328.1 102C328.5 101.8 329.2 101.5 329.3 101.6C329.4 101.7 329 102.4 328.8 102.7C328.6 103.1 328.4 103.4 328.1 103.7C327.9 104 327.7 104.3 327.5 104.6C327.2 104.9 327 105.2 326.8 105.5C326.5 105.8 326.3 106.1 326.1 106.4C325.8 106.7 325.6 106.9 325.3 107.2C325.1 107.5 324.8 107.8 324.6 108.1C324.3 108.4 324.1 108.6 323.8 108.9C323.6 109.2 323.3 109.5 323.1 109.7C322.8 110 322.6 110.3 322.3 110.5C322 110.8 321.8 111.1 321.5 111.3C321.3 111.6 321 111.9 320.7 112.1C320.5 112.4 320.2 112.7 320 112.9C319.7 113.2 319.4 113.5 319.2 113.7C318.9 114 318.6 114.2 318.4 114.5C318.1 114.8 317.8 115 317.6 115.3C317.3 115.5 317 115.8 316.7 116C316.5 116.3 316.2 116.5 315.9 116.8C315.6 117 315.4 117.3 315.1 117.5C314.8 117.8 314.5 118 314.3 118.3C314 118.5 313.7 118.8 313.4 119C313.1 119.3 312.9 119.5 312.6 119.7C312.3 120 312 120.2 311.7 120.5C311.4 120.7 311.2 120.9 310.9 121.2C310.6 121.4 310.3 121.6 310 121.9C309.7 122.1 309.4 122.4 309.1 122.6C308.8 122.8 308.6 123.1 308.3 123.3C308 123.5 307.7 123.7 307.4 124C307.1 124.2 306.8 124.4 306.5 124.6C306.2 124.9 305.9 125.1 305.6 125.3C305.3 125.5 305 125.8 304.7 126C304.4 126.2 304.1 126.4 303.8 126.6C303.5 126.9 303.2 127.1 302.9 127.3C302.6 127.5 302.3 127.7 301.9 127.9C301.6 128.1 301.3 128.3 301 128.5C300.7 128.7 300.4 128.9 300 129.1C299.7 129.3 299.4 129.5 299.1 129.7C298.8 129.9 298.4 130.1 298.1 130.3C297.7 130.5 297.4 130.7 297.1 130.8C296.7 131 296 131.3 295.9 131.2Z" fill="#80ff80"/><path d="M296.3 130.8C296.3 130.7 296.7 130.1 296.9 129.7C297.1 129.4 297.3 129.1 297.5 128.8C297.7 128.5 298 128.2 298.2 127.9C298.4 127.6 298.6 127.4 298.9 127.1C299.1 126.8 299.3 126.5 299.6 126.2C299.8 126 300.1 125.7 300.3 125.4C300.5 125.1 300.8 124.9 301 124.6C301.3 124.3 301.5 124.1 301.8 123.8C302 123.5 302.3 123.3 302.5 123C302.8 122.7 303 122.5 303.3 122.2C303.5 122 303.8 121.7 304 121.4C304.3 121.2 304.5 120.9 304.8 120.7C305 120.4 305.3 120.1 305.6 119.9C305.8 119.6 306.1 119.4 306.3 119.1C306.6 118.9 306.8 118.6 307.1 118.4C307.4 118.1 307.6 117.9 307.9 117.6C308.2 117.4 308.4 117.1 308.7 116.9C309 116.7 309.2 116.4 309.5 116.2C309.8 115.9 310 115.7 310.3 115.4C310.6 115.2 310.8 115 311.1 114.7C311.4 114.5 311.7 114.2 311.9 114C312.2 113.8 312.5 113.5 312.7 113.3C313 113.1 313.3 112.8 313.6 112.6C313.8 112.4 314.1 112.1 314.4 111.9C314.7 111.7 315 111.4 315.2 111.2C315.5 111 315.8 110.7 316.1 110.5C316.4 110.3 316.6 110.1 316.9 109.8C317.2 109.6 317.5 109.4 317.8 109.2C318.1 108.9 318.4 108.7 318.6 108.5C318.9 108.3 319.2 108.1 319.5 107.8C319.8 107.6 320.1 107.4 320.4 107.2C320.7 107 321 106.8 321.3 106.5C321.6 106.3 321.9 106.1 322.1 105.9C322.4 105.7 322.7 105.5 323 105.3C323.3 105.1 323.6 104.9 324 104.7C324.3 104.5 324.6 104.3 324.9 104.1C325.2 103.9 325.5 103.7 325.8 103.5C326.1 103.3 326.4 103.1 326.8 102.9C327.1 102.8 327.4 102.6 327.7 102.4C328.1 102.3 328.8 101.9 328.9 102C328.9 102.1 328.5 102.7 328.3 103.1C328.1 103.4 327.9 103.7 327.7 104C327.5 104.3 327.2 104.6 327 104.9C326.8 105.2 326.6 105.4 326.3 105.7C326.1 106 325.9 106.3 325.6 106.6C325.4 106.8 325.1 107.1 324.9 107.4C324.7 107.7 324.4 107.9 324.2 108.2C323.9 108.5 323.7 108.7 323.4 109C323.2 109.3 322.9 109.5 322.7 109.8C322.4 110.1 322.2 110.3 321.9 110.6C321.7 110.8 321.4 111.1 321.2 111.4C320.9 111.6 320.7 111.9 320.4 112.1C320.2 112.4 319.9 112.7 319.6 112.9C319.4 113.2 319.1 113.4 318.9 113.7C318.6 113.9 318.4 114.2 318.1 114.4C317.8 114.7 317.6 114.9 317.3 115.2C317 115.4 316.8 115.7 316.5 115.9C316.2 116.1 316 116.4 315.7 116.6C315.4 116.9 315.2 117.1 314.9 117.4C314.6 117.6 314.4 117.8 314.1 118.1C313.8 118.3 313.5 118.6 313.3 118.8C313 119 312.7 119.3 312.5 119.5C312.2 119.7 311.9 120 311.6 120.2C311.4 120.4 311.1 120.7 310.8 120.9C310.5 121.1 310.2 121.4 310 121.6C309.7 121.8 309.4 122.1 309.1 122.3C308.8 122.5 308.6 122.7 308.3 123C308 123.2 307.7 123.4 307.4 123.6C307.1 123.9 306.8 124.1 306.6 124.3C306.3 124.5 306 124.7 305.7 125C305.4 125.2 305.1 125.4 304.8 125.6C304.5 125.8 304.2 126 303.9 126.3C303.6 126.5 303.3 126.7 303.1 126.9C302.8 127.1 302.5 127.3 302.2 127.5C301.9 127.7 301.6 127.9 301.2 128.1C300.9 128.3 300.6 128.5 300.3 128.7C300 128.9 299.7 129.1 299.4 129.3C299.1 129.5 298.8 129.7 298.4 129.9C298.1 130 297.8 130.2 297.5 130.4C297.1 130.5 296.4 130.9 296.3 130.8Z" fill="#ffff00"/><path d="M296.9 130.3C296.8 130.2 297.2 129.6 297.4 129.3C297.6 129 297.8 128.7 298 128.4C298.2 128.2 298.5 127.9 298.7 127.6C298.9 127.3 299.1 127.1 299.4 126.8C299.6 126.5 299.8 126.2 300 126C300.3 125.7 300.5 125.4 300.7 125.2C301 124.9 301.2 124.7 301.5 124.4C301.7 124.1 301.9 123.9 302.2 123.6C302.4 123.4 302.7 123.1 302.9 122.9C303.1 122.6 303.4 122.4 303.6 122.1C303.9 121.9 304.1 121.6 304.4 121.4C304.6 121.1 304.9 120.9 305.1 120.6C305.4 120.4 305.6 120.1 305.9 119.9C306.1 119.6 306.4 119.4 306.6 119.1C306.9 118.9 307.1 118.7 307.4 118.4C307.6 118.2 307.9 117.9 308.1 117.7C308.4 117.5 308.6 117.2 308.9 117C309.2 116.7 309.4 116.5 309.7 116.3C309.9 116 310.2 115.8 310.5 115.6C310.7 115.3 311 115.1 311.2 114.9C311.5 114.6 311.8 114.4 312 114.2C312.3 113.9 312.6 113.7 312.8 113.5C313.1 113.3 313.4 113 313.6 112.8C313.9 112.6 314.2 112.3 314.4 112.1C314.7 111.9 315 111.7 315.2 111.5C315.5 111.2 315.8 111 316 110.8C316.3 110.6 316.6 110.3 316.9 110.1C317.1 109.9 317.4 109.7 317.7 109.5C318 109.3 318.2 109 318.5 108.8C318.8 108.6 319.1 108.4 319.4 108.2C319.6 108 319.9 107.8 320.2 107.6C320.5 107.3 320.8 107.1 321 106.9C321.3 106.7 321.6 106.5 321.9 106.3C322.2 106.1 322.5 105.9 322.8 105.7C323.1 105.5 323.3 105.3 323.6 105.1C323.9 104.9 324.2 104.7 324.5 104.5C324.8 104.3 325.1 104.1 325.4 103.9C325.7 103.8 326 103.6 326.3 103.4C326.6 103.2 326.9 103 327.3 102.9C327.6 102.7 328.2 102.4 328.3 102.5C328.4 102.6 328 103.2 327.8 103.5C327.6 103.8 327.4 104.1 327.2 104.4C327 104.6 326.7 104.9 326.5 105.2C326.3 105.5 326.1 105.7 325.8 106C325.6 106.3 325.4 106.6 325.2 106.8C324.9 107.1 324.7 107.4 324.5 107.6C324.2 107.9 324 108.1 323.7 108.4C323.5 108.7 323.3 108.9 323 109.2C322.8 109.4 322.5 109.7 322.3 109.9C322.1 110.2 321.8 110.4 321.6 110.7C321.3 110.9 321.1 111.2 320.8 111.4C320.6 111.7 320.3 111.9 320.1 112.2C319.8 112.4 319.6 112.7 319.3 112.9C319.1 113.2 318.8 113.4 318.6 113.7C318.3 113.9 318.1 114.1 317.8 114.4C317.6 114.6 317.3 114.9 317.1 115.1C316.8 115.3 316.6 115.6 316.3 115.8C316 116.1 315.8 116.3 315.5 116.5C315.3 116.8 315 117 314.7 117.2C314.5 117.5 314.2 117.7 314 117.9C313.7 118.2 313.4 118.4 313.2 118.6C312.9 118.9 312.6 119.1 312.4 119.3C312.1 119.5 311.8 119.8 311.6 120C311.3 120.2 311 120.5 310.8 120.7C310.5 120.9 310.2 121.1 310 121.3C309.7 121.6 309.4 121.8 309.2 122C308.9 122.2 308.6 122.5 308.3 122.7C308.1 122.9 307.8 123.1 307.5 123.3C307.2 123.5 307 123.8 306.7 124C306.4 124.2 306.1 124.4 305.8 124.6C305.6 124.8 305.3 125 305 125.2C304.7 125.5 304.4 125.7 304.2 125.9C303.9 126.1 303.6 126.3 303.3 126.5C303 126.7 302.7 126.9 302.4 127.1C302.1 127.3 301.9 127.5 301.6 127.7C301.3 127.9 301 128.1 300.7 128.3C300.4 128.5 300.1 128.7 299.8 128.9C299.5 129 299.2 129.2 298.9 129.4C298.6 129.6 298.3 129.8 297.9 129.9C297.6 130.1 297 130.4 296.9 130.3Z" fill="#ff8000"/><path d="M297.4 129.9C297.3 129.8 297.7 129.2 297.9 128.9C298.1 128.6 298.3 128.3 298.5 128.1C298.7 127.8 299 127.5 299.2 127.3C299.4 127 299.6 126.7 299.8 126.5C300.1 126.2 300.3 126 300.5 125.7C300.7 125.5 301 125.2 301.2 125C301.4 124.7 301.7 124.4 301.9 124.2C302.1 124 302.3 123.7 302.6 123.5C302.8 123.2 303 123 303.3 122.7C303.5 122.5 303.8 122.2 304 122C304.2 121.8 304.5 121.5 304.7 121.3C305 121 305.2 120.8 305.4 120.6C305.7 120.3 305.9 120.1 306.2 119.8C306.4 119.6 306.6 119.4 306.9 119.1C307.1 118.9 307.4 118.7 307.6 118.4C307.9 118.2 308.1 118 308.4 117.7C308.6 117.5 308.9 117.3 309.1 117.1C309.4 116.8 309.6 116.6 309.9 116.4C310.1 116.1 310.4 115.9 310.6 115.7C310.9 115.5 311.1 115.2 311.4 115C311.6 114.8 311.9 114.6 312.1 114.3C312.4 114.1 312.6 113.9 312.9 113.7C313.2 113.5 313.4 113.2 313.7 113C313.9 112.8 314.2 112.6 314.4 112.4C314.7 112.1 315 111.9 315.2 111.7C315.5 111.5 315.8 111.3 316 111.1C316.3 110.9 316.5 110.6 316.8 110.4C317.1 110.2 317.3 110 317.6 109.8C317.9 109.6 318.1 109.4 318.4 109.2C318.7 109 318.9 108.7 319.2 108.5C319.5 108.3 319.7 108.1 320 107.9C320.3 107.7 320.6 107.5 320.8 107.3C321.1 107.1 321.4 106.9 321.6 106.7C321.9 106.5 322.2 106.3 322.5 106.1C322.8 105.9 323 105.7 323.3 105.5C323.6 105.3 323.9 105.2 324.2 105C324.4 104.8 324.7 104.6 325 104.4C325.3 104.2 325.6 104 325.9 103.9C326.2 103.7 326.5 103.5 326.8 103.3C327.1 103.2 327.7 102.9 327.8 102.9C327.9 103 327.5 103.6 327.3 103.9C327.1 104.2 326.9 104.5 326.7 104.7C326.5 105 326.2 105.3 326 105.5C325.8 105.8 325.6 106.1 325.4 106.3C325.1 106.6 324.9 106.8 324.7 107.1C324.5 107.3 324.2 107.6 324 107.8C323.8 108.1 323.5 108.4 323.3 108.6C323.1 108.8 322.9 109.1 322.6 109.3C322.4 109.6 322.2 109.8 321.9 110.1C321.7 110.3 321.4 110.6 321.2 110.8C321 111 320.7 111.3 320.5 111.5C320.2 111.8 320 112 319.8 112.2C319.5 112.5 319.3 112.7 319 113C318.8 113.2 318.6 113.4 318.3 113.7C318.1 113.9 317.8 114.1 317.6 114.4C317.3 114.6 317.1 114.8 316.8 115.1C316.6 115.3 316.3 115.5 316.1 115.7C315.8 116 315.6 116.2 315.3 116.4C315.1 116.7 314.8 116.9 314.6 117.1C314.3 117.3 314.1 117.6 313.8 117.8C313.6 118 313.3 118.2 313.1 118.5C312.8 118.7 312.6 118.9 312.3 119.1C312 119.3 311.8 119.6 311.5 119.8C311.3 120 311 120.2 310.8 120.4C310.5 120.7 310.2 120.9 310 121.1C309.7 121.3 309.4 121.5 309.2 121.7C308.9 121.9 308.7 122.2 308.4 122.4C308.1 122.6 307.9 122.8 307.6 123C307.3 123.2 307.1 123.4 306.8 123.6C306.5 123.8 306.3 124.1 306 124.3C305.7 124.5 305.5 124.7 305.2 124.9C304.9 125.1 304.6 125.3 304.4 125.5C304.1 125.7 303.8 125.9 303.6 126.1C303.3 126.3 303 126.5 302.7 126.7C302.4 126.9 302.2 127.1 301.9 127.3C301.6 127.5 301.3 127.6 301 127.8C300.8 128 300.5 128.2 300.2 128.4C299.9 128.6 299.6 128.8 299.3 128.9C299 129.1 298.7 129.3 298.4 129.5C298.1 129.6 297.5 129.9 297.4 129.9Z" fill="#ff0000"/><path d="M298 129.3C297.9 129.2 298.3 128.7 298.5 128.4C298.7 128.2 298.9 127.9 299.1 127.7C299.3 127.4 299.5 127.1 299.8 126.9C300 126.6 300.2 126.4 300.4 126.2C300.6 125.9 300.8 125.7 301.1 125.4C301.3 125.2 301.5 124.9 301.7 124.7C301.9 124.5 302.2 124.2 302.4 124C302.6 123.7 302.8 123.5 303.1 123.3C303.3 123 303.5 122.8 303.7 122.6C304 122.3 304.2 122.1 304.4 121.9C304.7 121.7 304.9 121.4 305.1 121.2C305.4 121 305.6 120.7 305.8 120.5C306.1 120.3 306.3 120.1 306.5 119.8C306.8 119.6 307 119.4 307.2 119.2C307.5 118.9 307.7 118.7 307.9 118.5C308.2 118.3 308.4 118 308.6 117.8C308.9 117.6 309.1 117.4 309.4 117.2C309.6 116.9 309.8 116.7 310.1 116.5C310.3 116.3 310.6 116.1 310.8 115.8C311.1 115.6 311.3 115.4 311.5 115.2C311.8 115 312 114.8 312.3 114.6C312.5 114.3 312.8 114.1 313 113.9C313.3 113.7 313.5 113.5 313.7 113.3C314 113.1 314.2 112.9 314.5 112.7C314.7 112.4 315 112.2 315.2 112C315.5 111.8 315.7 111.6 316 111.4C316.2 111.2 316.5 111 316.7 110.8C317 110.6 317.2 110.4 317.5 110.2C317.8 110 318 109.8 318.3 109.6C318.5 109.4 318.8 109.2 319 109C319.3 108.8 319.6 108.6 319.8 108.4C320.1 108.2 320.3 108 320.6 107.8C320.8 107.6 321.1 107.4 321.4 107.2C321.6 107 321.9 106.8 322.2 106.6C322.4 106.4 322.7 106.2 323 106C323.2 105.8 323.5 105.7 323.8 105.5C324 105.3 324.3 105.1 324.6 104.9C324.9 104.7 325.1 104.6 325.4 104.4C325.7 104.2 326 104 326.3 103.9C326.6 103.7 327.1 103.4 327.2 103.5C327.3 103.6 326.9 104.1 326.7 104.4C326.5 104.6 326.3 104.9 326.1 105.1C325.9 105.4 325.7 105.7 325.4 105.9C325.2 106.2 325 106.4 324.8 106.6C324.6 106.9 324.4 107.1 324.1 107.4C323.9 107.6 323.7 107.9 323.5 108.1C323.3 108.3 323 108.6 322.8 108.8C322.6 109.1 322.4 109.3 322.1 109.5C321.9 109.8 321.7 110 321.5 110.2C321.2 110.5 321 110.7 320.8 110.9C320.5 111.1 320.3 111.4 320.1 111.6C319.8 111.8 319.6 112.1 319.4 112.3C319.1 112.5 318.9 112.7 318.7 113C318.4 113.2 318.2 113.4 318 113.6C317.7 113.9 317.5 114.1 317.3 114.3C317 114.5 316.8 114.8 316.6 115C316.3 115.2 316.1 115.4 315.8 115.6C315.6 115.9 315.4 116.1 315.1 116.3C314.9 116.5 314.6 116.7 314.4 117C314.1 117.2 313.9 117.4 313.7 117.6C313.4 117.8 313.2 118 312.9 118.2C312.7 118.5 312.4 118.7 312.2 118.9C311.9 119.1 311.7 119.3 311.5 119.5C311.2 119.7 311 119.9 310.7 120.1C310.5 120.4 310.2 120.6 310 120.8C309.7 121 309.5 121.2 309.2 121.4C309 121.6 308.7 121.8 308.5 122C308.2 122.2 308 122.4 307.7 122.6C307.4 122.8 307.2 123 306.9 123.2C306.7 123.4 306.4 123.6 306.2 123.8C305.9 124 305.6 124.2 305.4 124.4C305.1 124.6 304.9 124.8 304.6 125C304.4 125.2 304.1 125.4 303.8 125.6C303.6 125.8 303.3 126 303 126.2C302.8 126.4 302.5 126.6 302.2 126.8C302 127 301.7 127.1 301.4 127.3C301.2 127.5 300.9 127.7 300.6 127.9C300.3 128.1 300.1 128.2 299.8 128.4C299.5 128.6 299.2 128.8 298.9 128.9C298.6 129.1 298.1 129.4 298 129.3Z" fill="#9a0000"/></g></g>
<path d="M273.2 12V152.4H427.5" stroke="#707070" stroke-width="1" fill="none"/>
<path d="M273.2 138.31h1.4M288.68 152.4v-1.4M273.2 130.07h1.4M297.74 152.4v-1.4M273.2 124.22h1.4M304.17 152.4v-1.4M273.2 119.69h1.4M309.15 152.4v-1.4M273.2 115.98h1.4M313.22 152.4v-1.4M273.2 112.85h1.4M316.67 152.4v-1.4M273.2 110.14h1.4M319.65 152.4v-1.4M273.2 107.74h1.4M322.28 152.4v-1.4M273.2 91.51h1.4M340.12 152.4v-1.4M273.2 83.27h1.4M349.17 152.4v-1.4M273.2 77.42h1.4M355.6 152.4v-1.4M273.2 72.89h1.4M360.58 152.4v-1.4M273.2 69.18h1.4M364.66 152.4v-1.4M273.2 66.05h1.4M368.1 152.4v-1.4M273.2 63.34h1.4M371.08 152.4v-1.4M273.2 60.94h1.4M373.71 152.4v-1.4M273.2 44.71h1.4M391.55 152.4v-1.4M273.2 36.47h1.4M400.61 152.4v-1.4M273.2 30.62h1.4M407.03 152.4v-1.4M273.2 26.09h1.4M412.02 152.4v-1.4M273.2 22.38h1.4M416.09 152.4v-1.4M273.2 19.25h1.4M419.53 152.4v-1.4M273.2 16.54h1.4M422.52 152.4v-1.4M273.2 14.14h1.4M425.15 152.4v-1.4M273.2 152.4h2M273.2 152.4v-2M273.2 105.6h2M324.63 152.4v-2M273.2 58.8h2M376.07 152.4v-2M273.2 12h2M427.5 152.4v-2" stroke="#555" stroke-width="0.7" fill="none"/>
<text class="t" x="263.8" y="17.8" text-anchor="end">10</text><text class="s" x="264.1" y="13">0</text>
<text class="t" x="263.8" y="64.6" text-anchor="end">10</text><text class="s" x="264.1" y="59.8">-1</text>
<text class="t" x="263.8" y="111.4" text-anchor="end">10</text><text class="s" x="264.1" y="106.6">-2</text>
<text class="t" x="263.8" y="158.2" text-anchor="end">10</text><text class="s" x="264.1" y="153.4">-3</text>
<text class="t" x="274.6" y="167" text-anchor="end">10</text><text class="s" x="275" y="163">-3</text>
<text class="t" x="326.03" y="167" text-anchor="end">10</text><text class="s" x="326.43" y="163">-2</text>
<text class="t" x="377.47" y="167" text-anchor="end">10</text><text class="s" x="377.87" y="163">-1</text>
<text class="t" x="428.9" y="167" text-anchor="end">10</text><text class="s" x="429.3" y="163">0</text>
<text class="ttl" x="353.25" y="28.7" text-anchor="middle">440nm</text>
<text class="lab" x="261" y="176.6">Rrs in precision evaluation dataset(sr<tspan font-size="7" dy="-4.2">−1</tspan><tspan dy="4.2">)</tspan></text>
<text class="lab" style="font-size:12.3px" transform="translate(250.9 89.2) rotate(-90)" text-anchor="middle">Retrieved RF(sr<tspan font-size="7" dy="-4.2">−1</tspan><tspan dy="4.2">)</tspan></text>
<rect x="436.6" y="12" width="8.8" height="140.4" fill="url(#jet)"/>
<text class="cb" x="446.4" y="16.8">200</text>
<text class="cb" x="446.4" y="51.9">150</text>
<text class="cb" x="446.4" y="87">100</text>
<text class="cb" x="446.4" y="122.1">50</text>
<text class="cb" x="446.4" y="157.2">0</text>
<path d="M52.58 193.8V334.2M37.1 320.11H191.4M61.64 193.8V334.2M37.1 311.87H191.4M68.07 193.8V334.2M37.1 306.02H191.4M73.05 193.8V334.2M37.1 301.49H191.4M77.12 193.8V334.2M37.1 297.78H191.4M80.57 193.8V334.2M37.1 294.65H191.4M83.55 193.8V334.2M37.1 291.94H191.4M86.18 193.8V334.2M37.1 289.54H191.4M104.02 193.8V334.2M37.1 273.31H191.4M113.07 193.8V334.2M37.1 265.07H191.4M119.5 193.8V334.2M37.1 259.22H191.4M124.48 193.8V334.2M37.1 254.69H191.4M128.56 193.8V334.2M37.1 250.98H191.4M132 193.8V334.2M37.1 247.85H191.4M134.98 193.8V334.2M37.1 245.14H191.4M137.61 193.8V334.2M37.1 242.74H191.4M155.45 193.8V334.2M37.1 226.51H191.4M164.51 193.8V334.2M37.1 218.27H191.4M170.93 193.8V334.2M37.1 212.42H191.4M175.92 193.8V334.2M37.1 207.89H191.4M179.99 193.8V334.2M37.1 204.18H191.4M183.43 193.8V334.2M37.1 201.05H191.4M186.42 193.8V334.2M37.1 198.34H191.4M189.05 193.8V334.2M37.1 195.94H191.4" stroke="#ececec" stroke-width="0.8" fill="none"/>
<path d="M88.53 193.8V334.2M37.1 287.4H191.4M139.97 193.8V334.2M37.1 240.6H191.4M191.4 193.8V334.2M37.1 193.8H191.4" stroke="#e4e4e4" stroke-width="0.8" fill="none"/>
<path d="M37.1 334.2L191.4 193.8" stroke="#8a8a8a" stroke-width="0.9" fill="none"/>
<g clip-path="url(#c10)"><path d="M50.2 315.5C49.5 317 49.7 317 50 317.6C50.3 318.3 51.1 319.2 51.9 319.6C52.6 320.1 53.4 320.5 54.5 320.5C55.6 320.5 56.9 320.1 58.4 319.5C59.9 319 62.7 317.7 63.6 317.4C64.5 317 62.7 317.7 63.6 317.4C64.5 317 67.2 316 68.9 315.3C70.7 314.6 72.4 314.1 74.1 313.1C75.8 312.1 77.5 310.8 79.2 309.3C80.9 307.7 83.5 304.7 84.4 303.8C85.2 302.9 83.7 304.4 84.4 303.8C85.1 303.1 87.3 301.2 88.7 299.8C90.1 298.4 91.5 296.8 92.9 295.3C94.3 293.8 96.4 291.6 97.1 290.8C97.8 290.1 96.4 291.6 97.1 290.8C97.8 290.1 99.3 288.6 101.4 286.3C103.5 284.1 107.6 279.7 109.7 277.3C111.9 274.9 112.9 273.6 114.2 271.9C115.5 270.2 117.1 267.8 117.7 266.9C118.3 266.1 116.6 268.4 117.7 266.9C118.8 265.4 123 259.4 124.1 257.9C125.2 256.4 123.5 258.6 124.2 257.8C124.9 257.1 127.7 254.1 128.4 253.3C129.1 252.6 127.7 253.9 128.4 253.3C129.1 252.6 131.8 250.1 132.5 249.4C133.2 248.7 132.5 249.1 132.5 249C132.5 248.9 133.2 248.6 132.4 248.9C131.5 249.3 129.1 250.1 127.4 250.9C125.7 251.7 123.9 252.6 122.2 253.6C120.4 254.6 118.7 255.7 116.9 256.8C115.2 258 113.4 259.2 111.7 260.3C109.9 261.5 108.3 262.5 106.5 263.8C104.7 265.1 101.9 267.5 101 268.3C100.1 269 101.7 267.7 101 268.3C100.3 268.9 97.4 271.1 96.7 271.7C96 272.3 97.4 271.2 96.7 271.7C96 272.2 93.2 274.3 92.5 274.8C91.8 275.3 93.2 274.3 92.5 274.8C91.8 275.3 89 277.2 88.3 277.7C87.6 278.2 88.9 277.3 88.3 277.7C87.6 278.2 85.5 279.4 84.1 280.5C82.7 281.6 81.5 282.6 79.9 284.1C78.2 285.5 76 287.3 74.2 289C72.4 290.7 69.9 293.5 69 294.4C68.2 295.3 69.9 293.6 69 294.4C68.1 295.2 64.6 298.4 63.7 299.2C62.8 300 64.5 298.6 63.6 299.3C62.7 300 60 301.9 58.4 303.4C56.9 305 55.7 306.6 54.3 308.6C53 310.6 50.9 314 50.2 315.5Z" fill="#00008c"/><path d="M131 249h1v1h-1zM128 250h3v1h-3zM129 251h1v1h-1zM124 252h2v1h-2zM123 253h1v1h-1zM126 254h1v1h-1zM118 256h1v1h-1zM124 256h1v1h-1zM116 257h1v1h-1zM113 259h1v1h-1zM121 259h2v1h-2zM112 260h1v1h-1zM110 261h1v1h-1zM107 263h1v1h-1zM104 266h1v1h-1zM116 266h2v1h-2zM101 268h2v1h-2zM116 268h1v1h-1zM99 269h2v1h-2zM99 270h1v1h-1zM114 270h1v1h-1zM97 271h1v1h-1zM113 272h1v1h-1zM93 274h1v1h-1zM111 274h1v1h-1zM91 275h1v1h-1zM90 276h2v1h-2zM90 277h1v1h-1zM108 278h1v1h-1zM106 280h1v1h-1zM83 281h1v1h-1zM104 282h1v1h-1zM103 283h1v1h-1zM102 284h1v1h-1zM78 285h1v1h-1zM101 285h1v1h-1zM77 286h3v1h-3zM98 286h1v1h-1zM100 286h1v1h-1zM76 287h1v1h-1zM95 291h1v1h-1zM71 292h1v1h-1zM93 294h1v1h-1zM68 295h1v1h-1zM66 297h1v1h-1zM90 297h1v1h-1zM63 300h2v1h-2zM87 300h1v1h-1zM62 301h1v1h-1zM84 303h1v1h-1zM57 305h1v1h-1zM81 305h1v1h-1zM57 306h1v1h-1zM80 306h2v1h-2zM55 307h1v1h-1zM79 307h1v1h-1zM78 309h1v1h-1zM74 310h1v1h-1zM76 310h1v1h-1zM51 313h1v1h-1zM69 313h2v1h-2zM72 313h1v1h-1zM52 315h1v1h-1zM65 315h2v1h-2zM51 316h1v1h-1zM62 316h1v1h-1zM65 316h1v1h-1zM62 317h1v1h-1zM57 318h1v1h-1zM60 318h1v1h-1zM54 319h1v1h-1zM56 319h1v1h-1z" fill="#ffffff"/><path d="M133 246h1v1h-1zM128 247h2v1h-2zM128 249h2v1h-2zM132 250h1v1h-1zM124 251h1v1h-1zM123 252h1v1h-1zM128 253h1v1h-1zM118 254h1v1h-1zM120 254h1v1h-1zM127 254h1v1h-1zM114 255h1v1h-1zM126 255h1v1h-1zM116 256h1v1h-1zM125 256h1v1h-1zM127 256h1v1h-1zM112 257h1v1h-1zM124 257h3v1h-3zM110 258h1v1h-1zM112 258h2v1h-2zM110 259h2v1h-2zM122 260h1v1h-1zM109 261h1v1h-1zM104 262h1v1h-1zM121 262h1v1h-1zM105 264h1v1h-1zM119 264h2v1h-2zM121 265h1v1h-1zM100 266h1v1h-1zM101 267h1v1h-1zM118 267h1v1h-1zM98 268h1v1h-1zM117 268h1v1h-1zM98 269h1v1h-1zM96 271h1v1h-1zM117 271h1v1h-1zM95 272h1v1h-1zM90 273h2v1h-2zM114 273h1v1h-1zM112 274h2v1h-2zM115 274h1v1h-1zM87 276h3v1h-3zM110 276h1v1h-1zM88 277h1v1h-1zM112 277h1v1h-1zM85 278h1v1h-1zM112 278h1v1h-1zM83 279h3v1h-3zM83 280h1v1h-1zM107 280h2v1h-2zM81 281h2v1h-2zM78 282h2v1h-2zM105 282h1v1h-1zM80 283h1v1h-1zM105 283h1v1h-1zM105 284h1v1h-1zM102 286h1v1h-1zM100 287h1v1h-1zM73 288h2v1h-2zM99 288h2v1h-2zM102 288h1v1h-1zM71 289h1v1h-1zM72 290h1v1h-1zM98 291h1v1h-1zM69 292h1v1h-1zM96 292h1v1h-1zM98 292h1v1h-1zM66 293h1v1h-1zM68 293h2v1h-2zM95 293h1v1h-1zM68 294h1v1h-1zM95 294h1v1h-1zM66 295h2v1h-2zM93 295h1v1h-1zM65 296h1v1h-1zM64 297h1v1h-1zM90 298h1v1h-1zM90 299h1v1h-1zM88 301h1v1h-1zM55 302h1v1h-1zM59 302h1v1h-1zM57 303h1v1h-1zM85 303h2v1h-2zM57 304h1v1h-1zM84 304h1v1h-1zM85 305h1v1h-1zM53 307h2v1h-2zM81 307h2v1h-2zM52 308h1v1h-1zM80 308h1v1h-1zM51 309h1v1h-1zM53 309h1v1h-1zM50 310h3v1h-3zM52 311h1v1h-1zM77 311h1v1h-1zM76 312h1v1h-1zM49 313h1v1h-1zM75 314h1v1h-1zM49 315h1v1h-1zM68 315h2v1h-2zM66 316h1v1h-1zM68 316h3v1h-3zM72 316h1v1h-1zM49 317h1v1h-1zM64 317h1v1h-1zM48 318h1v1h-1zM61 318h2v1h-2zM50 319h2v1h-2zM61 319h1v1h-1zM51 320h2v1h-2zM56 320h3v1h-3zM52 321h1v1h-1zM54 321h1v1h-1zM58 321h1v1h-1z" fill="#00008c"/><path d="M130.2 256.7h1.6v1.6h-1.6zM117.4 272.6h1.3v1.3h-1.3zM109.2 281.5h1.3v1.3h-1.3zM119.7 268.2h1.5v1.5h-1.5zM72.6 317.3h1.3v1.3h-1.3zM109.6 257.9h1.3v1.3h-1.3zM53.2 322.5h1.6v1.6h-1.6zM134.9 249.7h1.5v1.5h-1.5zM68.3 318.3h1v1h-1zM73.2 317.1h1.2v1.2h-1.2zM99.6 266.4h1v1h-1zM114.9 275.4h0.9v0.9h-0.9zM49.9 322.6h1.6v1.6h-1.6zM50.4 321.7h0.9v0.9h-0.9zM120.6 251.2h1.2v1.2h-1.2zM61.8 296.6h1.5v1.5h-1.5zM120.8 268.6h1.6v1.6h-1.6zM65.1 294.9h1.5v1.5h-1.5zM96.8 268.5h1.2v1.2h-1.2zM117.7 272.4h1.2v1.2h-1.2z" fill="#00008c"/><path d="M92.3 302.2h1.5v1.5h-1.5zM89.8 304.1h1.3v1.3h-1.3zM99.9 264.4h1.3v1.3h-1.3zM65.1 291.8h1.5v1.5h-1.5zM85.7 274.5h1.3v1.3h-1.3zM97.7 297.3h0.9v0.9h-0.9zM120.5 269.9h1v1h-1zM58.9 324.3h1.6v1.6h-1.6zM111.6 255.6h1.5v1.5h-1.5zM109.4 283.7h1.4v1.4h-1.4zM114.1 277.9h1.5v1.5h-1.5zM118.7 251.2h1.6v1.6h-1.6zM83.3 275.4h0.9v0.9h-0.9zM134.1 253.5h1.3v1.3h-1.3zM101.9 262.4h1.5v1.5h-1.5z" fill="#4848c0"/><path d="M58 311C58.2 309.9 60.7 307.1 62 305.5C63.3 303.9 64.4 302.9 66 301.5C67.6 300.1 69.9 298.2 71.4 297C72.9 295.8 73 295.6 75 294C77 292.4 80.7 289.6 83.5 287.5C86.3 285.4 89.1 283.4 91.9 281.5C94.7 279.6 97.6 277.8 100.4 276C103.2 274.2 106.4 272.4 108.8 271C111.2 269.6 113.3 268.4 115 267.5C116.7 266.6 118.7 265.4 119 265.5C119.3 265.6 118.2 266.9 117 268C115.8 269.1 113.8 270.6 112 272C110.2 273.4 107.9 275 106 276.5C104.1 278 102.8 278.8 100.4 281C98.1 283.2 94.7 286.8 91.9 289.5C89.1 292.2 86.3 294.7 83.5 297C80.7 299.3 77 301.9 75 303.5C73 305.1 73.1 305.4 71.4 306.5C69.7 307.6 66.7 309.1 65 310C63.3 310.9 62.2 311.8 61 312C59.8 312.2 57.8 312.1 58 311Z" fill="#0000dc" filter="url(#bl2)"/><g filter="url(#bl)"><path d="M66.8 303.2C66.5 303.7 66.7 303.3 66.7 303.4C66.7 303.4 66.7 303.4 66.7 303.5C66.7 303.6 66.7 303.6 66.6 303.7C66.6 303.7 66.6 303.8 66.6 303.8C66.6 303.9 66.6 303.9 66.6 304C66.6 304 66.6 304.1 66.6 304.1C66.6 304.2 66.7 304.2 66.7 304.3C66.7 304.3 66.7 304.3 66.7 304.4C66.7 304.5 66.8 304.8 66.9 304.9C66.9 305 66.9 305 66.9 305.1C66.9 305.1 67 305.2 67 305.2C67 305.3 67.1 305.3 67.1 305.3C67.1 305.4 67.2 305.4 67.2 305.5C67.2 305.5 67.3 305.5 67.3 305.6C67.3 305.6 67.4 305.7 67.4 305.7C67.5 305.7 67.5 305.7 67.6 305.8C67.6 305.8 67.6 305.8 67.7 305.9C67.7 305.9 67.8 305.9 67.8 305.9C67.9 305.9 67.9 305.9 68 306C68.1 306 68.1 306 68.2 306C68.2 306 68.3 306 68.3 306C68.4 306 68.4 306 68.5 306C68.5 306 68.6 306 68.6 306C68.7 306 68.7 306 68.8 306C68.8 305.9 68.6 306 68.9 305.9C69.3 305.8 70.6 305.3 71 305.1C71.4 305 71.1 305.1 71.1 305.1C71.2 305.1 71.2 305 71.3 305C71.3 305 71.3 305 71.4 304.9C71.4 304.9 70.7 305.5 71.5 304.9C72.3 304.2 74.5 302.1 76 301C77.4 299.9 79.4 298.7 80.1 298.2C80.8 297.7 79.5 298.7 80.2 298.1C80.9 297.6 83.8 295.5 84.5 294.9C85.2 294.4 83.8 295.5 84.5 294.9C85.2 294.4 88 292.2 88.7 291.6C89.4 291.1 88.1 292.2 88.8 291.5C89.5 290.8 92.3 288.1 93 287.4C93.7 286.7 92.5 288 93.1 287.3C93.7 286.6 95.9 283.9 96.5 283.2C97.1 282.4 96.5 283.1 96.6 283C96.6 283 96.6 282.9 96.7 282.9C96.7 282.8 96.7 282.9 96.7 282.7C96.8 282.6 96.9 282.3 97 282.2C97 282 97 282.1 97 282C97 282 97 281.9 97 281.9C97 281.8 97.1 281.8 97.1 281.7C97.1 281.7 97.1 281.6 97.1 281.6C97.1 281.5 97.1 281.5 97.1 281.4C97.1 281.4 97 281.3 97 281.3C97 281.2 97 281.2 97 281.1C97 281.1 97 281 96.9 281C96.9 280.9 96.9 280.9 96.9 280.8C96.9 280.8 96.8 280.7 96.8 280.7C96.8 280.6 96.7 280.6 96.7 280.6C96.7 280.5 96.6 280.5 96.6 280.5C96.6 280.4 96.5 280.4 96.5 280.3C96.5 280.3 96.4 280.3 96.4 280.3C96.3 280.2 96.3 280.2 96.2 280.2C96.2 280.1 96.2 280.1 96.1 280.1C96.1 280.1 96 280.1 96 280.1C95.9 280 95.9 280 95.8 280C95.8 280 95.7 280 95.7 280C95.6 280 95.6 280 95.5 280C95.5 280 95.4 280 95.4 280C95.3 280 95.3 280 95.2 280C95.1 280 95.1 280 95 280C95 280 95 280.1 94.9 280.1C94.9 280.1 94.8 280.1 94.8 280.1C94.7 280.2 95.2 279.9 94.6 280.2C94.1 280.6 92 281.9 91.4 282.2C90.9 282.5 92.1 281.7 91.4 282.2C90.6 282.7 88.6 284.2 87.2 285.1C85.8 286 83.7 287.3 83 287.8C82.3 288.3 83.7 287.3 83 287.8C82.2 288.3 79.4 290.3 78.7 290.8C77.9 291.3 79.2 290.3 78.5 290.9C77.8 291.6 75 294 74.3 294.6C73.6 295.2 75.3 293.8 74.3 294.6C73.4 295.5 69.6 298.8 68.7 299.7C67.7 300.6 68.6 299.8 68.6 299.8C68.5 299.8 68.5 299.9 68.5 299.9C68.4 300 68.4 300 68.4 300C68.4 300.1 68.6 299.6 68.3 300.2C68 300.7 67.1 302.7 66.8 303.2Z" fill="#0070ff"/><path d="M67.2 303.4C67 304 67.2 303.5 67.2 303.5C67.2 303.6 67.2 303.6 67.2 303.6C67.2 303.7 67.1 303.7 67.1 303.7C67.1 303.8 67.1 303.8 67.1 303.8C67.1 303.9 67.1 303.9 67.1 304C67.1 304 67.1 304 67.1 304.1C67.1 304.1 67.1 304.1 67.2 304.2C67.2 304.2 67.1 304.2 67.2 304.3C67.2 304.4 67.3 304.7 67.3 304.8C67.4 304.9 67.4 304.8 67.4 304.9C67.4 304.9 67.4 304.9 67.4 305C67.5 305 67.5 305 67.5 305.1C67.5 305.1 67.5 305.1 67.6 305.1C67.6 305.2 67.6 305.2 67.6 305.2C67.7 305.2 67.7 305.3 67.7 305.3C67.8 305.3 67.8 305.3 67.8 305.4C67.8 305.4 67.9 305.4 67.9 305.4C67.9 305.4 68 305.4 68 305.4C68 305.5 68.1 305.5 68.1 305.5C68.2 305.5 68.2 305.5 68.2 305.5C68.3 305.5 68.3 305.5 68.3 305.5C68.4 305.5 68.4 305.5 68.4 305.5C68.5 305.5 68.5 305.5 68.6 305.5C68.6 305.5 68.6 305.5 68.7 305.5C68.7 305.5 68.4 305.6 68.8 305.4C69.1 305.3 70.5 304.8 70.8 304.7C71.2 304.5 70.9 304.6 70.9 304.6C70.9 304.6 71 304.6 71 304.6C71 304.6 71.1 304.6 71.1 304.5C71.1 304.5 70.4 305.1 71.2 304.5C71.9 303.8 74.2 301.8 75.7 300.6C77.1 299.5 79.2 298.2 79.9 297.8C80.5 297.3 79.2 298.3 79.9 297.7C80.6 297.2 83.5 295.1 84.2 294.5C84.9 294 83.5 295.1 84.2 294.5C84.9 294 87.7 291.8 88.4 291.2C89.1 290.7 87.8 291.9 88.5 291.2C89.2 290.5 91.9 287.8 92.6 287.1C93.4 286.4 92.2 287.7 92.7 287C93.3 286.3 95.5 283.5 96.1 282.8C96.7 282.1 96.1 282.8 96.2 282.7C96.2 282.7 96.2 282.7 96.2 282.7C96.2 282.6 96.2 282.7 96.3 282.6C96.3 282.4 96.4 282.1 96.5 282C96.5 281.9 96.5 281.9 96.5 281.9C96.5 281.8 96.5 281.8 96.5 281.8C96.6 281.7 96.6 281.7 96.6 281.7C96.6 281.6 96.6 281.6 96.6 281.6C96.6 281.5 96.6 281.5 96.6 281.5C96.6 281.4 96.6 281.4 96.5 281.4C96.5 281.3 96.5 281.3 96.5 281.3C96.5 281.2 96.5 281.2 96.5 281.2C96.5 281.1 96.5 281.1 96.4 281.1C96.4 281 96.4 281 96.4 281C96.4 280.9 96.3 280.9 96.3 280.9C96.3 280.9 96.3 280.8 96.3 280.8C96.2 280.8 96.2 280.8 96.2 280.7C96.1 280.7 96.1 280.7 96.1 280.7C96.1 280.6 96 280.6 96 280.6C96 280.6 95.9 280.6 95.9 280.6C95.9 280.5 95.8 280.5 95.8 280.5C95.8 280.5 95.7 280.5 95.7 280.5C95.7 280.5 95.6 280.5 95.6 280.5C95.6 280.5 95.5 280.5 95.5 280.5C95.5 280.5 95.4 280.5 95.4 280.5C95.4 280.5 95.3 280.5 95.3 280.5C95.2 280.5 95.2 280.5 95.2 280.5C95.1 280.5 95.1 280.5 95.1 280.5C95 280.6 95 280.6 95 280.6C95 280.6 95.4 280.3 94.9 280.6C94.3 281 92.2 282.3 91.7 282.6C91.1 283 92.3 282.2 91.6 282.6C90.9 283.1 88.9 284.6 87.5 285.5C86.1 286.5 84 287.8 83.3 288.2C82.6 288.7 84 287.7 83.2 288.2C82.5 288.7 79.7 290.7 79 291.2C78.2 291.7 79.6 290.7 78.9 291.3C78.1 291.9 75.4 294.4 74.7 295C74 295.6 75.6 294.2 74.7 295C73.7 295.8 70 299.2 69 300.1C68.1 300.9 69 300.1 68.9 300.1C68.9 300.2 68.9 300.2 68.9 300.2C68.8 300.2 68.8 300.3 68.8 300.3C68.8 300.3 69 299.9 68.8 300.4C68.5 300.9 67.5 302.9 67.2 303.4Z" fill="#00ffff"/><path d="M67.6 303.6C67.3 304.1 67.6 303.7 67.6 303.7C67.6 303.7 67.6 303.7 67.5 303.7C67.5 303.8 67.5 303.8 67.5 303.8C67.5 303.8 67.5 303.9 67.5 303.9C67.5 303.9 67.5 303.9 67.5 303.9C67.5 304 67.5 304 67.5 304C67.5 304 67.5 304.1 67.5 304.1C67.5 304.1 67.5 304.1 67.6 304.1C67.6 304.2 67.7 304.5 67.7 304.6C67.8 304.7 67.7 304.7 67.7 304.7C67.8 304.7 67.8 304.7 67.8 304.8C67.8 304.8 67.8 304.8 67.8 304.8C67.8 304.8 67.8 304.9 67.9 304.9C67.9 304.9 67.9 304.9 67.9 304.9C67.9 304.9 67.9 305 68 305C68 305 68 305 68 305C68 305 68.1 305 68.1 305C68.1 305.1 68.1 305.1 68.1 305.1C68.2 305.1 68.2 305.1 68.2 305.1C68.2 305.1 68.3 305.1 68.3 305.1C68.3 305.1 68.3 305.1 68.4 305.1C68.4 305.1 68.4 305.1 68.4 305.1C68.4 305.1 68.5 305.1 68.5 305.1C68.5 305.1 68.5 305.1 68.6 305.1C68.6 305.1 68.3 305.2 68.6 305.1C69 304.9 70.3 304.4 70.7 304.3C71 304.2 70.7 304.3 70.7 304.3C70.8 304.3 70.8 304.3 70.8 304.2C70.8 304.2 70.8 304.2 70.9 304.2C70.9 304.2 70.1 304.8 70.9 304.2C71.7 303.5 74 301.4 75.4 300.3C76.9 299.2 78.9 297.9 79.6 297.4C80.3 296.9 78.9 298 79.6 297.4C80.4 296.9 83.2 294.8 83.9 294.2C84.7 293.7 83.3 294.8 84 294.2C84.7 293.7 87.4 291.5 88.1 290.9C88.8 290.4 87.5 291.6 88.2 290.9C88.9 290.2 91.7 287.5 92.4 286.8C93.1 286.1 91.9 287.4 92.4 286.7C93 286 95.2 283.3 95.8 282.6C96.3 281.9 95.8 282.5 95.8 282.5C95.8 282.5 95.8 282.5 95.9 282.5C95.9 282.4 95.8 282.5 95.9 282.4C95.9 282.3 96.1 281.9 96.1 281.8C96.2 281.7 96.1 281.8 96.1 281.8C96.1 281.7 96.2 281.7 96.2 281.7C96.2 281.7 96.2 281.7 96.2 281.6C96.2 281.6 96.2 281.6 96.2 281.6C96.2 281.5 96.2 281.5 96.2 281.5C96.2 281.5 96.2 281.5 96.2 281.4C96.1 281.4 96.1 281.4 96.1 281.4C96.1 281.3 96.1 281.3 96.1 281.3C96.1 281.3 96.1 281.3 96.1 281.2C96.1 281.2 96.1 281.2 96.1 281.2C96 281.2 96 281.2 96 281.1C96 281.1 96 281.1 96 281.1C96 281.1 95.9 281.1 95.9 281C95.9 281 95.9 281 95.9 281C95.8 281 95.8 281 95.8 281C95.8 280.9 95.8 280.9 95.7 280.9C95.7 280.9 95.7 280.9 95.7 280.9C95.7 280.9 95.6 280.9 95.6 280.9C95.6 280.9 95.6 280.9 95.6 280.9C95.5 280.9 95.5 280.9 95.5 280.9C95.5 280.9 95.4 280.9 95.4 280.9C95.4 280.9 95.4 280.9 95.4 280.9C95.3 280.9 95.3 280.9 95.3 280.9C95.3 280.9 95.2 280.9 95.2 280.9C95.2 280.9 95.2 280.9 95.2 280.9C95.1 281 95.6 280.6 95.1 281C94.6 281.3 92.4 282.6 91.9 283C91.4 283.3 92.6 282.5 91.9 283C91.2 283.5 89.1 284.9 87.7 285.9C86.3 286.8 84.2 288.1 83.5 288.6C82.8 289 84.2 288.1 83.5 288.6C82.7 289.1 79.9 291.1 79.2 291.6C78.5 292.1 79.8 291 79.1 291.6C78.4 292.2 75.6 294.7 74.9 295.3C74.2 295.9 75.9 294.5 74.9 295.3C74 296.1 70.2 299.5 69.3 300.4C68.3 301.2 69.2 300.4 69.2 300.4C69.2 300.4 69.2 300.4 69.2 300.5C69.2 300.5 69.2 300.5 69.1 300.5C69.1 300.5 69.4 300.1 69.1 300.6C68.9 301.1 67.9 303.1 67.6 303.6Z" fill="#ffff00"/><path d="M68 303.8C67.7 304.3 67.9 303.8 67.9 303.8C67.9 303.8 67.9 303.8 67.9 303.8C67.9 303.9 67.9 303.9 67.9 303.9C67.9 303.9 67.9 303.9 67.9 303.9C67.9 303.9 67.9 303.9 67.9 303.9C67.9 303.9 67.9 304 67.9 304C67.9 304 67.9 304 67.9 304C67.9 304 67.9 303.9 67.9 304C68 304.1 68.1 304.4 68.1 304.5C68.1 304.6 68.1 304.5 68.1 304.5C68.1 304.5 68.1 304.6 68.1 304.6C68.1 304.6 68.1 304.6 68.1 304.6C68.1 304.6 68.2 304.6 68.2 304.6C68.2 304.6 68.2 304.6 68.2 304.6C68.2 304.6 68.2 304.6 68.2 304.6C68.2 304.7 68.2 304.7 68.2 304.7C68.2 304.7 68.2 304.7 68.3 304.7C68.3 304.7 68.3 304.7 68.3 304.7C68.3 304.7 68.3 304.7 68.3 304.7C68.3 304.7 68.3 304.7 68.3 304.7C68.4 304.7 68.4 304.7 68.4 304.7C68.4 304.7 68.4 304.7 68.4 304.7C68.4 304.7 68.4 304.7 68.4 304.7C68.4 304.7 68.5 304.7 68.5 304.7C68.5 304.7 68.1 304.8 68.5 304.7C68.8 304.6 70.2 304 70.6 303.9C70.9 303.8 70.6 303.9 70.6 303.9C70.6 303.9 70.6 303.9 70.6 303.9C70.6 303.9 70.6 303.9 70.6 303.9C70.6 303.9 69.9 304.5 70.6 303.9C71.4 303.2 74.4 300.6 75.2 300C76 299.4 74.5 300.5 75.2 300C75.9 299.5 78.7 297.6 79.4 297.1C80.1 296.6 78.7 297.6 79.4 297.1C80.1 296.6 83 294.4 83.7 293.9C84.4 293.4 83 294.4 83.7 293.9C84.4 293.3 87.2 291.2 87.9 290.6C88.6 290.1 87.2 291.3 87.9 290.6C88.6 289.9 91.4 287.2 92.1 286.5C92.8 285.8 91.5 287.2 92.1 286.5C92.7 285.8 94.9 283 95.5 282.3C96 281.6 95.5 282.3 95.5 282.3C95.5 282.3 95.5 282.3 95.5 282.3C95.5 282.3 95.5 282.4 95.5 282.3C95.6 282.2 95.7 281.8 95.7 281.7C95.8 281.6 95.8 281.7 95.8 281.7C95.8 281.6 95.8 281.6 95.8 281.6C95.8 281.6 95.8 281.6 95.8 281.6C95.8 281.6 95.8 281.6 95.8 281.6C95.8 281.6 95.8 281.6 95.8 281.5C95.8 281.5 95.8 281.5 95.8 281.5C95.8 281.5 95.8 281.5 95.8 281.5C95.8 281.5 95.7 281.5 95.7 281.5C95.7 281.4 95.7 281.4 95.7 281.4C95.7 281.4 95.7 281.4 95.7 281.4C95.7 281.4 95.7 281.4 95.7 281.4C95.7 281.4 95.7 281.4 95.7 281.4C95.7 281.4 95.7 281.3 95.7 281.3C95.7 281.3 95.6 281.3 95.6 281.3C95.6 281.3 95.6 281.3 95.6 281.3C95.6 281.3 95.6 281.3 95.6 281.3C95.6 281.3 95.6 281.3 95.6 281.3C95.6 281.3 95.5 281.3 95.5 281.3C95.5 281.3 95.5 281.3 95.5 281.3C95.5 281.3 95.5 281.3 95.5 281.3C95.5 281.3 95.5 281.3 95.4 281.3C95.4 281.3 95.4 281.3 95.4 281.3C95.4 281.3 95.4 281.3 95.4 281.3C95.4 281.3 95.4 281.3 95.4 281.3C95.4 281.3 95.3 281.3 95.3 281.3C95.3 281.3 95.8 281 95.3 281.3C94.8 281.6 92.6 283 92.1 283.3C91.6 283.6 92.8 282.8 92.1 283.3C91.4 283.8 88.6 285.7 87.9 286.2C87.2 286.7 88.6 285.8 87.9 286.2C87.2 286.7 84.4 288.4 83.7 288.9C83 289.3 84.4 288.4 83.7 288.9C83 289.4 80.1 291.4 79.4 291.9C78.7 292.4 80.1 291.3 79.4 291.9C78.7 292.5 75.9 295 75.2 295.6C74.5 296.2 76.1 294.8 75.2 295.6C74.3 296.4 70.5 299.8 69.5 300.7C68.6 301.5 69.5 300.7 69.5 300.7C69.5 300.7 69.5 300.7 69.5 300.7C69.5 300.7 69.5 300.7 69.5 300.7C69.5 300.7 69.7 300.2 69.5 300.8C69.2 301.3 68.2 303.3 68 303.8Z" fill="#ff0000"/><path d="M68.2 303.9C68 304.5 68 304.5 68.4 304.4C68.8 304.4 69.3 304.4 70.4 303.6C71.5 302.9 74.2 300.4 75 299.8C75.8 299.1 74.3 300.2 75 299.8C75.7 299.3 77.8 297.9 79.2 296.9C80.6 295.8 82.1 294.7 83.5 293.7C84.9 292.6 86.3 291.6 87.7 290.4C89.1 289.1 90.6 287.7 91.9 286.3C93.1 284.9 94.6 282.9 95.2 282.1C95.8 281.4 96 281.3 95.5 281.6C95 281.8 93.5 282.7 92.3 283.6C91 284.4 88.8 286 88.1 286.4C87.4 286.9 88.8 286 88.1 286.5C87.4 286.9 85.3 288.2 83.9 289.1C82.5 290.1 81 291 79.6 292.1C78.2 293.2 77 294.4 75.4 295.8C73.8 297.3 70.9 299.5 69.7 300.9C68.5 302.2 68.4 303.3 68.2 303.9Z" fill="#9a0000"/></g></g>
<path d="M37.1 193.8V334.2H191.4" stroke="#707070" stroke-width="1" fill="none"/>
<path d="M37.1 320.11h1.4M52.58 334.2v-1.4M37.1 311.87h1.4M61.64 334.2v-1.4M37.1 306.02h1.4M68.07 334.2v-1.4M37.1 301.49h1.4M73.05 334.2v-1.4M37.1 297.78h1.4M77.12 334.2v-1.4M37.1 294.65h1.4M80.57 334.2v-1.4M37.1 291.94h1.4M83.55 334.2v-1.4M37.1 289.54h1.4M86.18 334.2v-1.4M37.1 273.31h1.4M104.02 334.2v-1.4M37.1 265.07h1.4M113.07 334.2v-1.4M37.1 259.22h1.4M119.5 334.2v-1.4M37.1 254.69h1.4M124.48 334.2v-1.4M37.1 250.98h1.4M128.56 334.2v-1.4M37.1 247.85h1.4M132 334.2v-1.4M37.1 245.14h1.4M134.98 334.2v-1.4M37.1 242.74h1.4M137.61 334.2v-1.4M37.1 226.51h1.4M155.45 334.2v-1.4M37.1 218.27h1.4M164.51 334.2v-1.4M37.1 212.42h1.4M170.93 334.2v-1.4M37.1 207.89h1.4M175.92 334.2v-1.4M37.1 204.18h1.4M179.99 334.2v-1.4M37.1 201.05h1.4M183.43 334.2v-1.4M37.1 198.34h1.4M186.42 334.2v-1.4M37.1 195.94h1.4M189.05 334.2v-1.4M37.1 334.2h2M37.1 334.2v-2M37.1 287.4h2M88.53 334.2v-2M37.1 240.6h2M139.97 334.2v-2M37.1 193.8h2M191.4 334.2v-2" stroke="#555" stroke-width="0.7" fill="none"/>
<text class="t" x="28.4" y="200.3" text-anchor="end">10</text><text class="s" x="28.7" y="195.5">0</text>
<text class="t" x="28.4" y="247.1" text-anchor="end">10</text><text class="s" x="28.7" y="242.3">-1</text>
<text class="t" x="28.4" y="293.9" text-anchor="end">10</text><text class="s" x="28.7" y="289.1">-2</text>
<text class="t" x="28.4" y="340.7" text-anchor="end">10</text><text class="s" x="28.7" y="335.9">-3</text>
<text class="t" x="38.5" y="348.8" text-anchor="end">10</text><text class="s" x="38.9" y="344.8">-3</text>
<text class="t" x="89.93" y="348.8" text-anchor="end">10</text><text class="s" x="90.33" y="344.8">-2</text>
<text class="t" x="141.37" y="348.8" text-anchor="end">10</text><text class="s" x="141.77" y="344.8">-1</text>
<text class="t" x="192.8" y="348.8" text-anchor="end">10</text><text class="s" x="193.2" y="344.8">0</text>
<text class="ttl" x="116.35" y="211.6" text-anchor="middle">490nm</text>
<text class="lab" x="24.9" y="359.7">Rrs in precision evaluation dataset(sr<tspan font-size="7" dy="-4.2">−1</tspan><tspan dy="4.2">)</tspan></text>
<text class="lab" style="font-size:12.3px" transform="translate(14.8 271.5) rotate(-90)" text-anchor="middle">Retrieved RF(sr<tspan font-size="7" dy="-4.2">−1</tspan><tspan dy="4.2">)</tspan></text>
<rect x="201.9" y="193.8" width="8.8" height="140.4" fill="url(#jet)"/>
<text class="cb" x="211.7" y="198.6">200</text>
<text class="cb" x="211.7" y="233.7">150</text>
<text class="cb" x="211.7" y="268.8">100</text>
<text class="cb" x="211.7" y="303.9">50</text>
<text class="cb" x="211.7" y="339">0</text>
<path d="M288.68 193.8V334.2M273.2 320.11H427.5M297.74 193.8V334.2M273.2 311.87H427.5M304.17 193.8V334.2M273.2 306.02H427.5M309.15 193.8V334.2M273.2 301.49H427.5M313.22 193.8V334.2M273.2 297.78H427.5M316.67 193.8V334.2M273.2 294.65H427.5M319.65 193.8V334.2M273.2 291.94H427.5M322.28 193.8V334.2M273.2 289.54H427.5M340.12 193.8V334.2M273.2 273.31H427.5M349.17 193.8V334.2M273.2 265.07H427.5M355.6 193.8V334.2M273.2 259.22H427.5M360.58 193.8V334.2M273.2 254.69H427.5M364.66 193.8V334.2M273.2 250.98H427.5M368.1 193.8V334.2M273.2 247.85H427.5M371.08 193.8V334.2M273.2 245.14H427.5M373.71 193.8V334.2M273.2 242.74H427.5M391.55 193.8V334.2M273.2 226.51H427.5M400.61 193.8V334.2M273.2 218.27H427.5M407.03 193.8V334.2M273.2 212.42H427.5M412.02 193.8V334.2M273.2 207.89H427.5M416.09 193.8V334.2M273.2 204.18H427.5M419.53 193.8V334.2M273.2 201.05H427.5M422.52 193.8V334.2M273.2 198.34H427.5M425.15 193.8V334.2M273.2 195.94H427.5" stroke="#ececec" stroke-width="0.8" fill="none"/>
<path d="M324.63 193.8V334.2M273.2 287.4H427.5M376.07 193.8V334.2M273.2 240.6H427.5M427.5 193.8V334.2M273.2 193.8H427.5" stroke="#e4e4e4" stroke-width="0.8" fill="none"/>
<path d="M273.2 334.2L427.5 193.8" stroke="#8a8a8a" stroke-width="0.9" fill="none"/>
<g clip-path="url(#c11)"><path d="M291.4 311.8C290.7 313.7 291.5 314.9 292.4 315.9C293.2 316.9 295 317.6 296.5 317.9C298.1 318.2 300 318.1 301.7 317.9C303.4 317.7 305.2 317.6 306.9 316.9C308.7 316.2 310.4 314.8 312.2 313.7C314 312.7 315.7 311.8 317.5 310.5C319.2 309.3 320.1 308.8 322.8 306.4C325.4 303.9 330.8 298.4 333.4 295.8C335.9 293.1 336.7 292 337.8 290.5C339 288.9 339.9 287.1 340.3 286.4C340.7 285.7 340.3 286.4 340.3 286.4C340.3 286.4 339.6 287.2 340.4 286.4C341.1 285.5 344.2 282.2 345 281.4C345.7 280.5 344.2 282.1 345 281.4C345.7 280.6 348.1 278.4 349.7 276.7C351.2 274.9 352.9 272.8 354.2 270.9C355.6 269 356.6 267.2 357.7 265.1C358.9 263 360.6 259.3 361.2 258.1C361.8 256.9 360.6 259.1 361.2 258.1C361.8 257.1 364.1 253.3 364.7 252.3C365.3 251.3 364.7 252.3 364.7 252.3C364.7 252.3 364.2 252.8 364.8 252.3C365.3 251.7 366.9 250.1 368.3 248.8C369.6 247.4 372.1 244.9 372.9 244.2C373.6 243.4 372.9 244.2 372.9 244.1C372.9 244.1 372.1 244.7 372.9 244.1C373.7 243.6 376.9 241.5 377.7 240.7C378.5 239.9 377.7 239.5 377.5 239.2C377.3 239 377.6 238.4 376.5 238.9C375.4 239.4 372.7 241 370.8 242.2C368.9 243.3 366 245.1 365 245.7C364 246.3 366 245.1 365 245.7C364 246.2 360.2 248.5 359.2 249.1C358.2 249.6 360.2 248.6 359.2 249.1C358.2 249.6 355.3 250.8 353.4 252C351.5 253.1 349.5 254.6 347.5 256.1C345.6 257.5 342.7 260 341.7 260.8C340.8 261.5 342.7 260 341.7 260.8C340.8 261.5 337.5 263.9 335.9 265.3C334.4 266.8 333.1 268.9 332.6 269.6C332 270.3 332.5 269.6 332.5 269.6C332.5 269.6 332.5 269.6 332.5 269.6C332.5 269.7 333.2 269.1 332.5 269.7C331.8 270.2 329.9 271.6 328.3 272.9C326.7 274.1 324.8 275.7 323 277.1C321.3 278.5 319.5 279.8 317.7 281.3C316 282.7 314.2 284 312.4 285.5C310.7 287.1 308.9 288.8 307.1 290.7C305.4 292.7 303.6 294.8 301.9 297.1C300.1 299.4 297.5 303.3 296.7 304.5C295.8 305.7 297.5 303.3 296.7 304.5C295.8 305.7 292.1 310 291.4 311.8Z" fill="#00008c"/><path d="M377 239h1v1h-1zM374 240h1v1h-1zM376 240h1v1h-1zM374 241h2v1h-2zM370 242h1v1h-1zM373 242h2v1h-2zM371 245h1v1h-1zM370 246h1v1h-1zM362 247h1v1h-1zM367 248h1v1h-1zM367 249h1v1h-1zM356 250h1v1h-1zM365 251h1v1h-1zM363 252h1v1h-1zM363 253h1v1h-1zM347 257h1v1h-1zM360 259h1v1h-1zM342 260h1v1h-1zM341 261h1v1h-1zM357 262h1v1h-1zM357 264h1v1h-1zM335 266h2v1h-2zM333 268h1v1h-1zM353 268h1v1h-1zM355 268h1v1h-1zM334 269h1v1h-1zM353 270h1v1h-1zM330 271h3v1h-3zM353 271h1v1h-1zM328 273h1v1h-1zM327 274h1v1h-1zM349 276h1v1h-1zM347 278h1v1h-1zM320 281h1v1h-1zM343 281h2v1h-2zM316 282h1v1h-1zM315 283h1v1h-1zM340 284h1v1h-1zM313 285h1v1h-1zM340 285h1v1h-1zM311 286h1v1h-1zM339 286h1v1h-1zM310 287h1v1h-1zM308 289h1v1h-1zM336 289h1v1h-1zM334 292h1v1h-1zM334 293h1v1h-1zM304 294h1v1h-1zM302 296h1v1h-1zM330 297h1v1h-1zM300 299h1v1h-1zM299 300h1v1h-1zM327 300h2v1h-2zM298 302h1v1h-1zM325 302h2v1h-2zM297 303h1v1h-1zM325 303h1v1h-1zM323 304h1v1h-1zM321 306h1v1h-1zM295 308h1v1h-1zM318 309h1v1h-1zM317 310h1v1h-1zM292 311h1v1h-1zM314 311h1v1h-1zM311 313h1v1h-1zM292 314h1v1h-1zM309 314h2v1h-2zM295 315h1v1h-1zM308 315h1v1h-1zM294 316h1v1h-1zM297 316h1v1h-1zM306 316h2v1h-2zM298 317h2v1h-2z" fill="#ffffff"/><path d="M378 237h1v1h-1zM374 238h1v1h-1zM377 238h1v1h-1zM371 239h1v1h-1zM373 239h1v1h-1zM369 241h1v1h-1zM378 241h1v1h-1zM369 242h1v1h-1zM375 242h2v1h-2zM367 243h2v1h-2zM375 243h2v1h-2zM373 244h1v1h-1zM364 245h1v1h-1zM363 246h1v1h-1zM361 247h1v1h-1zM370 249h1v1h-1zM355 250h1v1h-1zM353 251h1v1h-1zM366 251h1v1h-1zM350 252h1v1h-1zM352 252h1v1h-1zM348 253h1v1h-1zM347 254h1v1h-1zM363 254h2v1h-2zM346 255h1v1h-1zM345 256h2v1h-2zM344 257h1v1h-1zM341 258h1v1h-1zM362 258h2v1h-2zM337 260h1v1h-1zM341 260h1v1h-1zM360 260h1v1h-1zM339 261h1v1h-1zM337 262h1v1h-1zM334 266h1v1h-1zM358 266h1v1h-1zM332 267h2v1h-2zM332 269h1v1h-1zM328 270h1v1h-1zM330 270h1v1h-1zM354 270h2v1h-2zM328 271h1v1h-1zM326 272h3v1h-3zM353 272h1v1h-1zM327 273h1v1h-1zM355 273h1v1h-1zM351 274h1v1h-1zM320 275h1v1h-1zM323 275h1v1h-1zM323 276h1v1h-1zM351 276h1v1h-1zM349 277h3v1h-3zM320 278h1v1h-1zM348 278h1v1h-1zM317 279h2v1h-2zM347 279h1v1h-1zM349 279h1v1h-1zM318 280h1v1h-1zM314 282h1v1h-1zM344 282h2v1h-2zM314 283h1v1h-1zM343 283h1v1h-1zM311 284h1v1h-1zM342 284h1v1h-1zM341 285h2v1h-2zM308 288h1v1h-1zM341 288h1v1h-1zM306 289h1v1h-1zM338 289h3v1h-3zM304 290h1v1h-1zM338 290h1v1h-1zM306 291h1v1h-1zM302 292h1v1h-1zM304 292h2v1h-2zM336 292h2v1h-2zM339 292h1v1h-1zM303 293h2v1h-2zM336 293h1v1h-1zM303 294h1v1h-1zM334 294h1v1h-1zM334 296h1v1h-1zM336 296h1v1h-1zM301 297h1v1h-1zM300 298h1v1h-1zM332 298h2v1h-2zM329 300h1v1h-1zM297 301h1v1h-1zM329 301h1v1h-1zM295 302h1v1h-1zM295 304h1v1h-1zM326 305h1v1h-1zM292 306h1v1h-1zM323 306h2v1h-2zM321 307h3v1h-3zM320 308h1v1h-1zM318 310h1v1h-1zM289 311h1v1h-1zM317 311h1v1h-1zM319 311h1v1h-1zM290 312h1v1h-1zM316 312h1v1h-1zM289 313h1v1h-1zM315 313h1v1h-1zM317 313h1v1h-1zM312 314h1v1h-1zM310 315h1v1h-1zM293 316h1v1h-1zM309 316h3v1h-3zM294 317h1v1h-1zM304 317h1v1h-1zM306 317h1v1h-1zM295 318h1v1h-1zM298 318h1v1h-1zM302 318h1v1h-1zM304 318h2v1h-2zM301 319h1v1h-1z" fill="#00008c"/><path d="M351.1 278.9h1.2v1.2h-1.2zM370.6 249.6h1.3v1.3h-1.3zM309.4 285h1.4v1.4h-1.4zM321.6 310.7h1.2v1.2h-1.2zM293.2 318.9h1.5v1.5h-1.5zM360.6 245.2h1.4v1.4h-1.4zM375.4 236.5h1.2v1.2h-1.2zM365.6 242.1h1v1h-1zM333.2 299h1.3v1.3h-1.3zM289.1 315.2h0.9v0.9h-0.9zM342.5 288.7h1.4v1.4h-1.4zM364 242.3h1.6v1.6h-1.6zM333.7 263.7h1.4v1.4h-1.4zM363.6 259.3h1.1v1.1h-1.1zM369.5 252h1.3v1.3h-1.3zM290.7 318.6h1.2v1.2h-1.2zM326.4 307.6h1.5v1.5h-1.5zM365.8 255.4h1.6v1.6h-1.6zM338.5 293.7h1.1v1.1h-1.1z" fill="#00008c"/><path d="M287.7 311.9h1.5v1.5h-1.5zM355.3 277h1.1v1.1h-1.1zM323.7 271.6h1.6v1.6h-1.6zM338.8 257.3h1.2v1.2h-1.2zM287 311.1h1.4v1.4h-1.4zM326.6 309.1h1.5v1.5h-1.5zM331.9 303.1h1.5v1.5h-1.5zM378.8 244.6h1v1h-1zM290.7 306.1h1.5v1.5h-1.5zM331.5 264.2h1.2v1.2h-1.2zM310.7 281.4h1v1h-1zM292.8 302.4h1.6v1.6h-1.6zM289.5 306.2h1.1v1.1h-1.1zM293.5 300.3h1.6v1.6h-1.6zM338.3 295.8h1.3v1.3h-1.3zM364.6 260.7h1.1v1.1h-1.1z" fill="#4848c0"/><path d="M300 304C301.7 301.5 305.8 298.8 309.1 296C312.4 293.2 316.2 290.2 319.7 287.5C323.2 284.8 327.2 282 330.3 280C333.4 278 335.6 277 338 275.5C340.4 274 343 272.3 345 271C347 269.7 349.5 267.4 350 267.5C350.5 267.6 349.3 269.8 348 271.5C346.7 273.2 344.1 275.7 342 278C339.9 280.3 338.4 282.7 335.6 285.5C332.8 288.3 328.5 291.9 325 295C321.5 298.1 317.9 301.2 314.4 304C310.9 306.8 306.6 310.3 304 311.5C301.4 312.7 299.7 312.2 299 311C298.3 309.8 298.3 306.5 300 304Z" fill="#0000dc" filter="url(#bl2)"/><g filter="url(#bl)"><path d="M302.7 305C302.6 305.6 302.7 305.1 302.7 305.2C302.7 305.2 302.7 305.3 302.7 305.3C302.7 305.4 302.7 305.5 302.7 305.5C302.7 305.6 302.7 305.6 302.7 305.7C302.7 305.8 302.7 305.8 302.7 305.9C302.8 305.9 302.7 305.8 302.8 306C302.9 306.2 303.2 306.9 303.3 307.1C303.4 307.3 303.3 307.2 303.4 307.2C303.4 307.3 303.4 307.3 303.5 307.4C303.5 307.4 303.5 307.5 303.6 307.5C303.6 307.6 303.6 307.6 303.7 307.6C303.7 307.7 303.8 307.7 303.8 307.8C303.9 307.8 303.9 307.8 304 307.9C304 307.9 304.1 307.9 304.1 307.9C304.2 308 304.2 308 304.3 308C304.3 308 304.4 308.1 304.4 308.1C304.5 308.1 304.5 308.1 304.6 308.1C304.6 308.1 304.7 308.1 304.8 308.1C304.8 308.1 304.9 308.1 304.9 308.1C305 308.1 304.9 308.2 305.1 308.1C305.3 308.1 305.9 308.1 306.1 308C306.3 308 306.3 308 306.3 308C306.4 308 306.4 308 306.5 308C306.5 308 306.6 308 306.6 307.9C306.7 307.9 306.7 307.9 306.8 307.9C306.8 307.8 306.9 307.8 306.9 307.8C307 307.8 306.5 308.1 307.1 307.7C307.6 307.3 308.7 306.4 310.1 305.4C311.5 304.4 314.5 302.3 315.4 301.6C316.3 301 314.6 302.3 315.5 301.5C316.4 300.8 319.9 297.9 320.8 297.1C321.7 296.4 320 297.9 320.8 297.1C321.7 296.4 325.2 293.3 326.1 292.5C327 291.7 325.3 293.3 326.2 292.4C327.1 291.6 330.6 288.1 331.5 287.3C332.4 286.4 331.6 287.2 331.6 287.1C331.7 287.1 331.2 287.8 331.8 287C332.3 286.1 334.4 283 335 282.2C335.5 281.4 334.9 282.3 335 282.1C335.1 282 335.4 281.5 335.5 281.4C335.6 281.2 335.5 281.3 335.5 281.2C335.6 281.2 335.6 281.1 335.6 281.1C335.6 281 335.7 280.9 335.7 280.9C335.7 280.8 335.7 280.8 335.7 280.7C335.7 280.7 335.7 280.6 335.7 280.5C335.7 280.5 335.7 280.4 335.7 280.4C335.7 280.3 335.7 280.3 335.7 280.2C335.7 280.1 335.7 280.1 335.7 280C335.7 280 335.7 279.9 335.7 279.9C335.6 279.8 335.6 279.8 335.6 279.7C335.6 279.7 335.5 279.6 335.5 279.5C335.5 279.5 335.5 279.4 335.4 279.4C335.4 279.4 335.4 279.3 335.3 279.3C335.3 279.2 335.3 279.2 335.2 279.1C335.1 279 334.9 278.8 334.8 278.7C334.7 278.6 334.7 278.6 334.6 278.6C334.6 278.5 334.5 278.5 334.5 278.5C334.4 278.4 334.4 278.4 334.3 278.4C334.3 278.4 334.2 278.3 334.2 278.3C334.1 278.3 334.1 278.3 334 278.2C334 278.2 333.9 278.2 333.9 278.2C333.8 278.2 333.7 278.2 333.7 278.2C333.6 278.2 333.6 278.2 333.5 278.2C333.4 278.2 333.4 278.2 333.3 278.2C333.3 278.2 333.2 278.2 333.2 278.2C333.1 278.2 333 278.2 333 278.2C332.9 278.3 332.9 278.3 332.8 278.3C332.8 278.3 332.7 278.3 332.7 278.4C332.6 278.4 333.1 278.1 332.5 278.5C332 278.8 329.9 280.2 329.3 280.5C328.8 280.9 330.2 279.9 329.3 280.6C328.4 281.2 324.9 283.6 324 284.3C323.1 284.9 325.7 283 323.9 284.3C322.2 285.6 316 290.3 313.4 292.3C310.7 294.3 309 295.5 308.1 296.2C307.2 296.9 308 296.3 307.9 296.3C307.9 296.3 308.5 295.7 307.8 296.4C307.1 297.1 304.4 299.9 303.7 300.7C303 301.4 303.7 300.8 303.6 300.8C303.6 300.9 303.6 300.9 303.5 301C303.5 301 303.5 301.1 303.4 301.1C303.4 301.2 303.4 301.2 303.4 301.3C303.3 301.3 303.3 301.4 303.3 301.4C303.3 301.5 303.4 301 303.3 301.6C303.2 302.2 302.8 304.4 302.7 305Z" fill="#0070ff"/><path d="M303.3 305.1C303.2 305.7 303.3 305.2 303.3 305.2C303.3 305.2 303.3 305.3 303.3 305.3C303.3 305.4 303.3 305.4 303.3 305.4C303.3 305.5 303.3 305.5 303.3 305.6C303.3 305.6 303.3 305.6 303.3 305.7C303.3 305.7 303.3 305.6 303.4 305.8C303.4 306 303.7 306.7 303.8 306.8C303.9 307 303.9 306.9 303.9 306.9C303.9 307 303.9 307 304 307C304 307.1 304 307.1 304 307.1C304 307.2 304.1 307.2 304.1 307.2C304.1 307.2 304.2 307.3 304.2 307.3C304.2 307.3 304.2 307.3 304.3 307.4C304.3 307.4 304.3 307.4 304.4 307.4C304.4 307.4 304.4 307.4 304.5 307.5C304.5 307.5 304.6 307.5 304.6 307.5C304.6 307.5 304.7 307.5 304.7 307.5C304.7 307.5 304.8 307.5 304.8 307.5C304.8 307.5 304.9 307.5 304.9 307.5C305 307.5 304.8 307.6 305 307.5C305.2 307.5 305.9 307.5 306.1 307.4C306.3 307.4 306.2 307.4 306.2 307.4C306.2 307.4 306.3 307.4 306.3 307.4C306.3 307.4 306.4 307.4 306.4 307.4C306.4 307.4 306.5 307.3 306.5 307.3C306.5 307.3 306.6 307.3 306.6 307.3C306.6 307.3 306.2 307.6 306.7 307.2C307.2 306.8 308.4 305.9 309.8 304.9C311.2 303.9 314.2 301.8 315.1 301.1C316 300.5 314.2 301.8 315.1 301.1C316 300.3 319.5 297.4 320.4 296.7C321.3 295.9 319.6 297.4 320.5 296.7C321.3 295.9 324.9 292.8 325.8 292.1C326.6 291.3 324.9 292.9 325.8 292C326.7 291.1 330.2 287.7 331.1 286.8C332 285.9 331.2 286.8 331.2 286.7C331.2 286.7 330.7 287.4 331.3 286.6C331.8 285.8 333.9 282.6 334.5 281.8C335 281 334.4 281.9 334.5 281.8C334.6 281.7 334.9 281.2 335 281C335 280.9 335 281 335 280.9C335 280.9 335 280.9 335.1 280.8C335.1 280.8 335.1 280.8 335.1 280.7C335.1 280.7 335.1 280.7 335.1 280.6C335.1 280.6 335.1 280.5 335.1 280.5C335.1 280.5 335.1 280.4 335.1 280.4C335.1 280.3 335.1 280.3 335.1 280.3C335.1 280.2 335.1 280.2 335.1 280.2C335.1 280.1 335.1 280.1 335.1 280C335.1 280 335.1 280 335 279.9C335 279.9 335 279.9 335 279.8C335 279.8 335 279.8 334.9 279.7C334.9 279.7 334.9 279.7 334.9 279.6C334.8 279.6 334.9 279.6 334.8 279.6C334.7 279.5 334.4 279.2 334.3 279.1C334.3 279 334.3 279.1 334.3 279C334.2 279 334.2 279 334.2 279C334.1 278.9 334.1 278.9 334.1 278.9C334 278.9 334 278.9 334 278.9C333.9 278.8 333.9 278.8 333.8 278.8C333.8 278.8 333.8 278.8 333.7 278.8C333.7 278.8 333.7 278.8 333.6 278.8C333.6 278.8 333.5 278.8 333.5 278.8C333.5 278.8 333.4 278.8 333.4 278.8C333.3 278.8 333.3 278.8 333.3 278.8C333.2 278.8 333.2 278.8 333.2 278.8C333.1 278.8 333.1 278.8 333 278.9C333 278.9 333 278.9 332.9 278.9C332.9 278.9 333.4 278.6 332.8 279C332.3 279.3 330.2 280.7 329.7 281C329.1 281.4 330.5 280.4 329.6 281.1C328.8 281.7 325.2 284.1 324.3 284.8C323.5 285.4 326.1 283.4 324.3 284.8C322.5 286.1 316.4 290.8 313.7 292.8C311.1 294.8 309.3 296 308.4 296.7C307.5 297.3 308.4 296.7 308.3 296.7C308.3 296.8 309 296.1 308.3 296.8C307.6 297.5 304.9 300.4 304.2 301.1C303.5 301.8 304.1 301.2 304.1 301.2C304.1 301.2 304.1 301.2 304 301.3C304 301.3 304 301.3 304 301.4C304 301.4 303.9 301.5 303.9 301.5C303.9 301.5 303.9 301.6 303.9 301.6C303.9 301.6 304 301.1 303.9 301.7C303.8 302.3 303.4 304.5 303.3 305.1Z" fill="#00ffff"/><path d="M303.7 305.2C303.6 305.7 303.7 305.2 303.7 305.2C303.7 305.3 303.7 305.3 303.7 305.3C303.7 305.3 303.7 305.4 303.7 305.4C303.7 305.4 303.7 305.4 303.7 305.5C303.7 305.5 303.7 305.5 303.7 305.5C303.7 305.6 303.7 305.4 303.8 305.6C303.9 305.8 304.2 306.5 304.2 306.7C304.3 306.8 304.3 306.7 304.3 306.7C304.3 306.7 304.3 306.8 304.3 306.8C304.3 306.8 304.3 306.8 304.4 306.8C304.4 306.9 304.4 306.9 304.4 306.9C304.4 306.9 304.4 306.9 304.5 306.9C304.5 306.9 304.5 307 304.5 307C304.5 307 304.6 307 304.6 307C304.6 307 304.6 307 304.6 307C304.7 307.1 304.7 307.1 304.7 307.1C304.7 307.1 304.8 307.1 304.8 307.1C304.8 307.1 304.8 307.1 304.9 307.1C304.9 307.1 304.9 307.1 304.9 307.1C305 307.1 304.8 307.1 305 307.1C305.2 307.1 305.9 307 306 307C306.2 307 306.1 307 306.1 307C306.1 307 306.2 307 306.2 307C306.2 307 306.2 307 306.2 307C306.3 306.9 306.3 306.9 306.3 306.9C306.3 306.9 306.4 306.9 306.4 306.9C306.4 306.9 305.9 307.2 306.4 306.9C307 306.5 308.1 305.6 309.5 304.6C310.9 303.6 313.9 301.4 314.8 300.8C315.7 300.1 314 301.5 314.8 300.7C315.7 300 319.3 297.1 320.1 296.3C321 295.6 319.3 297.1 320.2 296.3C321 295.6 324.6 292.5 325.5 291.7C326.3 291 324.6 292.6 325.5 291.7C326.4 290.8 329.9 287.4 330.8 286.5C331.7 285.6 330.8 286.5 330.8 286.4C330.9 286.4 330.3 287.2 330.9 286.4C331.4 285.6 333.5 282.4 334.1 281.6C334.6 280.8 334 281.7 334.1 281.6C334.2 281.4 334.5 280.9 334.6 280.8C334.7 280.7 334.6 280.8 334.6 280.7C334.6 280.7 334.6 280.7 334.6 280.7C334.6 280.7 334.7 280.6 334.7 280.6C334.7 280.6 334.7 280.6 334.7 280.5C334.7 280.5 334.7 280.5 334.7 280.5C334.7 280.4 334.7 280.4 334.7 280.4C334.7 280.4 334.7 280.3 334.7 280.3C334.7 280.3 334.7 280.3 334.7 280.3C334.7 280.2 334.7 280.2 334.7 280.2C334.6 280.2 334.6 280.1 334.6 280.1C334.6 280.1 334.6 280.1 334.6 280C334.6 280 334.6 280 334.6 280C334.5 280 334.5 279.9 334.5 279.9C334.5 279.9 334.5 280 334.5 279.9C334.4 279.8 334.1 279.5 334 279.4C333.9 279.4 334 279.4 334 279.4C334 279.4 333.9 279.4 333.9 279.3C333.9 279.3 333.9 279.3 333.8 279.3C333.8 279.3 333.8 279.3 333.8 279.3C333.8 279.3 333.7 279.3 333.7 279.2C333.7 279.2 333.7 279.2 333.6 279.2C333.6 279.2 333.6 279.2 333.6 279.2C333.5 279.2 333.5 279.2 333.5 279.2C333.5 279.2 333.4 279.2 333.4 279.2C333.4 279.2 333.4 279.2 333.4 279.2C333.3 279.2 333.3 279.2 333.3 279.2C333.3 279.3 333.2 279.3 333.2 279.3C333.2 279.3 333.2 279.3 333.1 279.3C333.1 279.3 333.6 279 333.1 279.3C332.5 279.7 330.4 281.1 329.9 281.4C329.4 281.8 330.8 280.8 329.9 281.4C329 282 325.5 284.5 324.6 285.1C323.7 285.7 326.3 283.8 324.6 285.1C322.8 286.5 316.6 291.2 314 293.1C311.3 295.1 309.6 296.4 308.7 297C307.8 297.7 308.7 297.1 308.6 297.1C308.6 297.1 309.3 296.4 308.6 297.1C307.9 297.8 305.2 300.7 304.5 301.4C303.8 302.1 304.5 301.4 304.5 301.5C304.4 301.5 304.4 301.5 304.4 301.5C304.4 301.5 304.4 301.6 304.4 301.6C304.4 301.6 304.4 301.6 304.3 301.7C304.3 301.7 304.3 301.7 304.3 301.7C304.3 301.7 304.4 301.2 304.3 301.8C304.2 302.4 303.8 304.6 303.7 305.2Z" fill="#ffff00"/><path d="M304.1 305.2C304 305.8 304.1 305.3 304.1 305.3C304.1 305.3 304.1 305.3 304.1 305.3C304.1 305.3 304.1 305.3 304.1 305.3C304.1 305.3 304.1 305.4 304.1 305.4C304.1 305.4 304.1 305.4 304.1 305.4C304.1 305.4 304.1 305.3 304.1 305.4C304.2 305.6 304.5 306.3 304.6 306.5C304.7 306.7 304.6 306.5 304.6 306.5C304.6 306.5 304.6 306.5 304.6 306.5C304.7 306.6 304.7 306.6 304.7 306.6C304.7 306.6 304.7 306.6 304.7 306.6C304.7 306.6 304.7 306.6 304.7 306.6C304.7 306.6 304.7 306.6 304.7 306.6C304.7 306.6 304.8 306.7 304.8 306.7C304.8 306.7 304.8 306.7 304.8 306.7C304.8 306.7 304.8 306.7 304.8 306.7C304.8 306.7 304.9 306.7 304.9 306.7C304.9 306.7 304.9 306.7 304.9 306.7C304.9 306.7 304.9 306.7 304.9 306.7C304.9 306.7 304.8 306.7 305 306.7C305.1 306.7 305.8 306.6 306 306.6C306.2 306.6 306 306.6 306 306.6C306.1 306.6 306.1 306.6 306.1 306.6C306.1 306.6 306.1 306.6 306.1 306.6C306.1 306.6 306.1 306.6 306.1 306.6C306.1 306.6 306.2 306.6 306.2 306.6C306.2 306.5 305.7 306.9 306.2 306.5C306.7 306.1 307.9 305.3 309.3 304.2C310.7 303.2 313.7 301.1 314.6 300.4C315.5 299.8 313.7 301.2 314.6 300.4C315.5 299.7 319 296.8 319.9 296C320.8 295.3 319 296.8 319.9 296C320.8 295.3 324.3 292.2 325.2 291.4C326.1 290.7 324.3 292.3 325.2 291.4C326.1 290.5 329.6 287.1 330.5 286.2C331.4 285.3 330.5 286.2 330.5 286.2C330.5 286.2 330 287 330.6 286.2C331.1 285.4 333.2 282.2 333.7 281.4C334.3 280.6 333.7 281.5 333.8 281.4C333.8 281.2 334.2 280.7 334.2 280.6C334.3 280.5 334.2 280.6 334.2 280.6C334.3 280.6 334.3 280.5 334.3 280.5C334.3 280.5 334.3 280.5 334.3 280.5C334.3 280.5 334.3 280.5 334.3 280.5C334.3 280.5 334.3 280.4 334.3 280.4C334.3 280.4 334.3 280.4 334.3 280.4C334.3 280.4 334.3 280.4 334.3 280.4C334.3 280.4 334.3 280.3 334.3 280.3C334.3 280.3 334.3 280.3 334.3 280.3C334.3 280.3 334.3 280.3 334.3 280.3C334.3 280.3 334.2 280.3 334.2 280.2C334.2 280.2 334.2 280.2 334.2 280.2C334.2 280.2 334.2 280.2 334.2 280.2C334.2 280.2 334.3 280.2 334.2 280.2C334.1 280.1 333.8 279.8 333.7 279.7C333.7 279.6 333.7 279.7 333.7 279.7C333.7 279.7 333.7 279.7 333.7 279.7C333.7 279.7 333.7 279.7 333.7 279.7C333.6 279.7 333.6 279.6 333.6 279.6C333.6 279.6 333.6 279.6 333.6 279.6C333.6 279.6 333.6 279.6 333.6 279.6C333.6 279.6 333.5 279.6 333.5 279.6C333.5 279.6 333.5 279.6 333.5 279.6C333.5 279.6 333.5 279.6 333.5 279.6C333.4 279.6 333.4 279.6 333.4 279.6C333.4 279.6 333.4 279.6 333.4 279.6C333.4 279.6 333.4 279.6 333.4 279.6C333.4 279.6 333.3 279.6 333.3 279.7C333.3 279.7 333.8 279.3 333.3 279.7C332.8 280 330.7 281.4 330.1 281.7C329.6 282.1 331 281.1 330.1 281.8C329.2 282.4 325.7 284.8 324.8 285.5C323.9 286.1 326.6 284.1 324.8 285.5C323.1 286.8 316.9 291.5 314.2 293.5C311.6 295.4 309.8 296.7 308.9 297.4C308 298 308.9 297.4 308.9 297.4C308.9 297.4 309.6 296.7 308.9 297.4C308.2 298.1 305.5 301 304.8 301.7C304.1 302.4 304.8 301.7 304.8 301.7C304.8 301.7 304.8 301.7 304.8 301.7C304.7 301.7 304.7 301.8 304.7 301.8C304.7 301.8 304.7 301.8 304.7 301.8C304.7 301.8 304.7 301.8 304.7 301.8C304.7 301.8 304.8 301.3 304.7 301.9C304.6 302.4 304.2 304.7 304.1 305.2Z" fill="#ff0000"/><path d="M304.5 305.3C304.4 306 304.7 306.2 304.9 306.3C305.2 306.5 305.3 306.6 306 306.3C306.7 305.9 308.6 304.3 309.1 304C309.6 303.6 308.2 304.6 309.1 304C310 303.3 312.6 301.5 314.4 300.2C316.1 298.8 317.9 297.3 319.7 295.8C321.4 294.3 323.2 292.8 325 291.2C326.7 289.5 328.8 287.6 330.3 286C331.7 284.3 332.8 282.1 333.5 281.2C334.1 280.2 333.9 280.6 333.9 280.4C333.9 280.2 334.1 279.7 333.5 280C332.9 280.2 331.7 281.1 330.3 282C328.9 283 327.7 283.8 325 285.7C322.4 287.7 316.2 292.4 314.4 293.7C312.7 295.1 315.3 293.1 314.4 293.7C313.5 294.4 310.7 296.3 309.1 297.6C307.6 299 305.8 300.6 305 301.9C304.3 303.2 304.5 304.6 304.5 305.3Z" fill="#9a0000"/></g></g>
<path d="M273.2 193.8V334.2H427.5" stroke="#707070" stroke-width="1" fill="none"/>
<path d="M273.2 320.11h1.4M288.68 334.2v-1.4M273.2 311.87h1.4M297.74 334.2v-1.4M273.2 306.02h1.4M304.17 334.2v-1.4M273.2 301.49h1.4M309.15 334.2v-1.4M273.2 297.78h1.4M313.22 334.2v-1.4M273.2 294.65h1.4M316.67 334.2v-1.4M273.2 291.94h1.4M319.65 334.2v-1.4M273.2 289.54h1.4M322.28 334.2v-1.4M273.2 273.31h1.4M340.12 334.2v-1.4M273.2 265.07h1.4M349.17 334.2v-1.4M273.2 259.22h1.4M355.6 334.2v-1.4M273.2 254.69h1.4M360.58 334.2v-1.4M273.2 250.98h1.4M364.66 334.2v-1.4M273.2 247.85h1.4M368.1 334.2v-1.4M273.2 245.14h1.4M371.08 334.2v-1.4M273.2 242.74h1.4M373.71 334.2v-1.4M273.2 226.51h1.4M391.55 334.2v-1.4M273.2 218.27h1.4M400.61 334.2v-1.4M273.2 212.42h1.4M407.03 334.2v-1.4M273.2 207.89h1.4M412.02 334.2v-1.4M273.2 204.18h1.4M416.09 334.2v-1.4M273.2 201.05h1.4M419.53 334.2v-1.4M273.2 198.34h1.4M422.52 334.2v-1.4M273.2 195.94h1.4M425.15 334.2v-1.4M273.2 334.2h2M273.2 334.2v-2M273.2 287.4h2M324.63 334.2v-2M273.2 240.6h2M376.07 334.2v-2M273.2 193.8h2M427.5 334.2v-2" stroke="#555" stroke-width="0.7" fill="none"/>
<text class="t" x="263.8" y="200.3" text-anchor="end">10</text><text class="s" x="264.1" y="195.5">0</text>
<text class="t" x="263.8" y="247.1" text-anchor="end">10</text><text class="s" x="264.1" y="242.3">-1</text>
<text class="t" x="263.8" y="293.9" text-anchor="end">10</text><text class="s" x="264.1" y="289.1">-2</text>
<text class="t" x="263.8" y="340.7" text-anchor="end">10</text><text class="s" x="264.1" y="335.9">-3</text>
<text class="t" x="274.6" y="348.8" text-anchor="end">10</text><text class="s" x="275" y="344.8">-3</text>
<text class="t" x="326.03" y="348.8" text-anchor="end">10</text><text class="s" x="326.43" y="344.8">-2</text>
<text class="t" x="377.47" y="348.8" text-anchor="end">10</text><text class="s" x="377.87" y="344.8">-1</text>
<text class="t" x="428.9" y="348.8" text-anchor="end">10</text><text class="s" x="429.3" y="344.8">0</text>
<text class="ttl" x="353.55" y="211.7" text-anchor="middle">520nm</text>
<text class="lab" x="261" y="359.7">Rrs in precision evaluation dataset(sr<tspan font-size="7" dy="-4.2">−1</tspan><tspan dy="4.2">)</tspan></text>
<text class="lab" style="font-size:12.3px" transform="translate(250.9 271.5) rotate(-90)" text-anchor="middle">Retrieved RF(sr<tspan font-size="7" dy="-4.2">−1</tspan><tspan dy="4.2">)</tspan></text>
<rect x="436.6" y="193.8" width="8.8" height="140.4" fill="url(#jet)"/>
<text class="cb" x="446.4" y="198.6">200</text>
<text class="cb" x="446.4" y="233.7">150</text>
<text class="cb" x="446.4" y="268.8">100</text>
<text class="cb" x="446.4" y="303.9">50</text>
<text class="cb" x="446.4" y="339">0</text>
<path d="M52.58 375.6V516M37.1 501.91H191.4M61.64 375.6V516M37.1 493.67H191.4M68.07 375.6V516M37.1 487.82H191.4M73.05 375.6V516M37.1 483.29H191.4M77.12 375.6V516M37.1 479.58H191.4M80.57 375.6V516M37.1 476.45H191.4M83.55 375.6V516M37.1 473.74H191.4M86.18 375.6V516M37.1 471.34H191.4M104.02 375.6V516M37.1 455.11H191.4M113.07 375.6V516M37.1 446.87H191.4M119.5 375.6V516M37.1 441.02H191.4M124.48 375.6V516M37.1 436.49H191.4M128.56 375.6V516M37.1 432.78H191.4M132 375.6V516M37.1 429.65H191.4M134.98 375.6V516M37.1 426.94H191.4M137.61 375.6V516M37.1 424.54H191.4M155.45 375.6V516M37.1 408.31H191.4M164.51 375.6V516M37.1 400.07H191.4M170.93 375.6V516M37.1 394.22H191.4M175.92 375.6V516M37.1 389.69H191.4M179.99 375.6V516M37.1 385.98H191.4M183.43 375.6V516M37.1 382.85H191.4M186.42 375.6V516M37.1 380.14H191.4M189.05 375.6V516M37.1 377.74H191.4" stroke="#ececec" stroke-width="0.8" fill="none"/>
<path d="M88.53 375.6V516M37.1 469.2H191.4M139.97 375.6V516M37.1 422.4H191.4M191.4 375.6V516M37.1 375.6H191.4" stroke="#e4e4e4" stroke-width="0.8" fill="none"/>
<path d="M37.1 516L191.4 375.6" stroke="#8a8a8a" stroke-width="0.9" fill="none"/>
<g clip-path="url(#c20)"><path d="M34 520C28.5 515.5 33.5 497.6 34 493C34.5 488.4 35.7 493 37 492.5C38.3 492 40.5 490.7 42 490C43.5 489.3 44.7 489 46 488.5C47.3 488 48.8 487.5 50 487C51.2 486.5 52.1 486.5 53 485.5C53.9 484.5 54.7 482.8 55.5 481C56.3 479.2 57.2 476.6 58 475C58.8 473.4 58.8 472.6 60 471.5C61.2 470.4 63.5 469.4 65.3 468.5C67.1 467.6 68.8 466.8 70.6 466C72.4 465.2 74.2 464.3 75.9 463.5C77.7 462.7 79.6 461.9 81.1 461C82.6 460.1 83.5 459.2 85 458C86.5 456.8 88.5 455.1 90.3 454C92.1 452.9 93.8 452.3 95.6 451.3C97.4 450.3 99.2 449.1 100.9 448C102.7 446.9 104.6 445.8 106.1 444.5C107.6 443.2 108.6 441.8 110 440.5C111.4 439.2 113 437.5 114.3 436.5C115.5 435.5 116.4 435.2 117.5 434.4C118.6 433.6 119.6 432.8 120.7 431.9C121.8 431 123 430 123.9 429.3C124.9 428.6 125.7 428.1 126.4 427.7C127.1 427.3 127.8 427.2 128.3 427.1C128.8 427 129.1 426.7 129.5 427.3C129.9 427.9 130.9 429 131 430.5C131.1 432 130.4 434.5 129.8 436.5C129.2 438.5 128.2 440.5 127.3 442.5C126.4 444.5 125.5 446.4 124.5 448.3C123.5 450.2 122.2 452.2 121 454C119.8 455.8 118.7 457.3 117.5 458.8C116.3 460.3 115.1 461.5 113.8 462.8C112.5 464.1 111.1 465.4 109.8 466.5C108.5 467.6 107.1 468.6 105.8 469.5C104.5 470.4 103.2 471.2 102 472C100.8 472.8 99.9 473.4 98.8 474C97.7 474.6 96.7 474.6 95.6 475.4C94.5 476.1 93.6 477.5 92.4 478.5C91.2 479.5 89.8 480.4 88.5 481.5C87.2 482.6 85.8 483.8 84.8 485C83.8 486.2 83.1 487.5 82.3 488.8C81.5 490.1 80.6 491.3 79.8 492.6C79 493.9 78 495.1 77.2 496.4C76.5 497.7 75.8 498.9 75.3 500.2C74.8 501.5 74.5 502.7 74 504C73.5 505.3 72.7 506.5 72.1 507.8C71.5 509.1 70.8 510.4 70.2 511.6C69.6 512.8 68.8 513.9 68.3 514.8C67.8 515.7 67.7 516.1 67.5 517C67.3 517.9 72.6 519.5 67 520C61.4 520.5 39.5 524.5 34 520Z" fill="#00008c"/><path d="M127 427h1v1h-1zM128 428h2v1h-2zM125 429h1v1h-1zM129 429h1v1h-1zM123 430h2v1h-2zM130 430h1v1h-1zM123 431h1v1h-1zM129 431h1v1h-1zM120 432h1v1h-1zM128 432h3v1h-3zM129 435h1v1h-1zM113 437h2v1h-2zM116 437h1v1h-1zM114 438h1v1h-1zM128 438h1v1h-1zM111 439h1v1h-1zM128 439h1v1h-1zM125 441h1v1h-1zM107 443h2v1h-2zM106 444h1v1h-1zM124 445h1v1h-1zM103 446h2v1h-2zM107 446h1v1h-1zM124 446h1v1h-1zM102 447h1v1h-1zM124 447h1v1h-1zM100 448h2v1h-2zM103 448h1v1h-1zM123 448h1v1h-1zM98 449h1v1h-1zM97 450h1v1h-1zM101 450h1v1h-1zM120 451h1v1h-1zM95 452h1v1h-1zM120 452h1v1h-1zM91 454h1v1h-1zM117 455h1v1h-1zM119 455h1v1h-1zM117 456h1v1h-1zM88 457h1v1h-1zM83 459h1v1h-1zM115 460h1v1h-1zM82 461h1v1h-1zM78 462h1v1h-1zM78 463h1v1h-1zM111 463h1v1h-1zM72 465h1v1h-1zM74 465h1v1h-1zM106 465h1v1h-1zM70 466h2v1h-2zM109 466h1v1h-1zM67 467h2v1h-2zM104 467h1v1h-1zM107 467h1v1h-1zM65 468h1v1h-1zM67 468h1v1h-1zM104 468h2v1h-2zM103 469h1v1h-1zM62 470h2v1h-2zM103 470h1v1h-1zM60 471h1v1h-1zM62 471h1v1h-1zM100 471h1v1h-1zM59 472h1v1h-1zM97 472h1v1h-1zM59 473h1v1h-1zM97 473h3v1h-3zM96 474h1v1h-1zM58 475h1v1h-1zM57 476h1v1h-1zM57 478h1v1h-1zM89 478h1v1h-1zM91 478h1v1h-1zM56 479h2v1h-2zM89 479h1v1h-1zM56 480h1v1h-1zM55 481h1v1h-1zM86 482h1v1h-1zM54 483h2v1h-2zM85 483h1v1h-1zM82 484h1v1h-1zM53 485h1v1h-1zM51 486h2v1h-2zM83 486h1v1h-1zM49 487h1v1h-1zM54 487h1v1h-1zM81 487h1v1h-1zM47 488h1v1h-1zM80 488h1v1h-1zM43 489h2v1h-2zM81 489h1v1h-1zM41 490h1v1h-1zM48 490h1v1h-1zM79 490h2v1h-2zM40 491h1v1h-1zM42 491h1v1h-1zM37 492h1v1h-1zM79 492h1v1h-1zM38 493h1v1h-1zM78 493h1v1h-1zM76 494h2v1h-2zM76 495h2v1h-2zM75 496h1v1h-1zM75 497h2v1h-2zM75 498h1v1h-1zM73 499h2v1h-2zM74 501h1v1h-1zM72 502h1v1h-1zM72 504h1v1h-1zM69 511h1v1h-1zM67 513h1v1h-1zM66 514h1v1h-1zM66 515h2v1h-2z" fill="#ffffff"/><path d="M126 424h1v1h-1zM128 425h2v1h-2zM122 426h1v1h-1zM127 426h1v1h-1zM122 427h1v1h-1zM131 427h1v1h-1zM122 428h1v1h-1zM124 428h1v1h-1zM131 428h1v1h-1zM133 428h1v1h-1zM116 430h1v1h-1zM121 430h1v1h-1zM131 430h1v1h-1zM133 430h1v1h-1zM114 431h1v1h-1zM116 431h1v1h-1zM118 431h2v1h-2zM131 431h1v1h-1zM134 431h2v1h-2zM118 432h2v1h-2zM118 433h1v1h-1zM131 433h1v1h-1zM115 434h1v1h-1zM133 434h1v1h-1zM113 435h2v1h-2zM111 436h1v1h-1zM106 437h1v1h-1zM112 437h1v1h-1zM129 437h1v1h-1zM109 439h2v1h-2zM131 439h1v1h-1zM108 440h1v1h-1zM128 440h2v1h-2zM104 441h1v1h-1zM106 441h1v1h-1zM128 441h1v1h-1zM100 442h1v1h-1zM104 442h1v1h-1zM106 442h2v1h-2zM130 442h1v1h-1zM105 443h1v1h-1zM104 444h1v1h-1zM126 444h1v1h-1zM127 445h1v1h-1zM129 445h2v1h-2zM102 446h1v1h-1zM125 446h1v1h-1zM100 447h1v1h-1zM96 448h1v1h-1zM124 448h1v1h-1zM126 448h1v1h-1zM92 449h1v1h-1zM124 449h2v1h-2zM93 450h1v1h-1zM123 450h1v1h-1zM94 451h1v1h-1zM123 451h1v1h-1zM87 452h1v1h-1zM89 452h2v1h-2zM122 452h2v1h-2zM86 453h3v1h-3zM124 453h2v1h-2zM87 454h1v1h-1zM89 454h1v1h-1zM84 455h1v1h-1zM120 455h1v1h-1zM122 455h1v1h-1zM86 456h1v1h-1zM122 456h1v1h-1zM119 457h1v1h-1zM81 458h2v1h-2zM118 458h2v1h-2zM81 459h2v1h-2zM121 459h1v1h-1zM74 460h2v1h-2zM81 460h1v1h-1zM77 461h3v1h-3zM115 461h3v1h-3zM115 462h1v1h-1zM116 463h2v1h-2zM113 464h2v1h-2zM117 464h1v1h-1zM61 465h1v1h-1zM69 465h2v1h-2zM117 465h1v1h-1zM63 466h1v1h-1zM67 466h3v1h-3zM111 466h2v1h-2zM114 466h1v1h-1zM62 467h3v1h-3zM66 467h1v1h-1zM108 467h1v1h-1zM61 468h1v1h-1zM109 468h1v1h-1zM61 469h1v1h-1zM63 469h1v1h-1zM111 469h1v1h-1zM57 470h1v1h-1zM61 470h1v1h-1zM107 470h2v1h-2zM58 471h1v1h-1zM104 471h2v1h-2zM57 472h1v1h-1zM103 472h1v1h-1zM101 473h3v1h-3zM55 474h1v1h-1zM57 474h1v1h-1zM100 474h1v1h-1zM102 474h1v1h-1zM104 474h2v1h-2zM57 475h1v1h-1zM95 475h5v1h-5zM56 476h1v1h-1zM96 476h1v1h-1zM56 477h1v1h-1zM55 478h2v1h-2zM92 478h1v1h-1zM98 478h1v1h-1zM52 479h1v1h-1zM54 479h1v1h-1zM93 479h1v1h-1zM52 480h1v1h-1zM55 480h1v1h-1zM90 480h2v1h-2zM54 481h1v1h-1zM53 482h1v1h-1zM91 482h1v1h-1zM53 483h1v1h-1zM87 483h1v1h-1zM46 484h1v1h-1zM51 484h3v1h-3zM85 484h1v1h-1zM41 485h1v1h-1zM52 485h1v1h-1zM84 485h1v1h-1zM87 485h1v1h-1zM48 486h1v1h-1zM50 486h1v1h-1zM84 486h2v1h-2zM38 487h1v1h-1zM47 487h2v1h-2zM41 488h1v1h-1zM43 488h1v1h-1zM40 489h1v1h-1zM42 489h1v1h-1zM38 490h1v1h-1zM40 490h1v1h-1zM37 491h1v1h-1zM81 492h1v1h-1zM83 492h1v1h-1zM81 493h1v1h-1zM79 494h1v1h-1zM77 496h2v1h-2zM76 498h2v1h-2zM76 500h1v1h-1zM74 503h1v1h-1zM73 505h1v1h-1zM72 507h1v1h-1zM75 507h1v1h-1zM71 511h1v1h-1zM72 512h1v1h-1z" fill="#00008c"/><path d="M85.9 453.8h1v1h-1zM97 477.9h1.4v1.4h-1.4zM85.8 453.1h1.2v1.2h-1.2zM52.8 480.9h0.9v0.9h-0.9zM107.4 437.1h1.3v1.3h-1.3zM93.4 449.8h1.4v1.4h-1.4zM122.2 427.5h0.9v0.9h-0.9zM92.4 449.2h1.2v1.2h-1.2zM64.3 464.4h1.3v1.3h-1.3zM93.2 448.5h1v1h-1zM91.3 450.6h1.1v1.1h-1.1zM96.6 448.1h1.2v1.2h-1.2zM73.1 513h1v1h-1zM72.3 460.4h1.5v1.5h-1.5zM55.5 474.9h1.4v1.4h-1.4zM129 423.4h1.4v1.4h-1.4zM51.6 481.8h1.2v1.2h-1.2zM77.5 458.1h1.3v1.3h-1.3zM98.1 446.2h0.9v0.9h-0.9zM85.9 452.8h1.1v1.1h-1.1zM133.1 425.4h1.3v1.3h-1.3zM80.6 456.7h1.3v1.3h-1.3zM102.7 444.2h1.1v1.1h-1.1zM94.4 446.7h0.9v0.9h-0.9zM83.5 492h0.8v0.8h-0.8zM125.4 425.6h1.4v1.4h-1.4zM83.8 455.6h1.2v1.2h-1.2zM122 427.1h1.1v1.1h-1.1zM97.1 447.3h1.1v1.1h-1.1zM90 484.3h1.3v1.3h-1.3zM73.6 461.4h0.9v0.9h-0.9zM37.8 489h1.4v1.4h-1.4zM95.9 447.9h1.3v1.3h-1.3zM66.6 464.3h1v1h-1zM90.4 484.7h1.1v1.1h-1.1zM82.9 455.8h1.4v1.4h-1.4zM81.2 457.3h0.8v0.8h-0.8zM122.9 425.8h1v1h-1zM130.8 425.5h1.1v1.1h-1.1zM121.9 427.3h1v1h-1zM69 464.3h1v1h-1zM94.2 448.4h1.3v1.3h-1.3zM113 433.7h1v1h-1zM53.4 478.1h0.9v0.9h-0.9zM85.2 454.8h1.4v1.4h-1.4zM101.4 443.3h1.5v1.5h-1.5zM76.9 460h1.2v1.2h-1.2zM80.7 455.8h1.2v1.2h-1.2zM79.9 496.6h1v1h-1zM89.2 484.6h1.1v1.1h-1.1zM110.6 435.6h1v1h-1zM60.1 468.2h0.9v0.9h-0.9zM72.3 462.8h1v1h-1zM52.3 480.3h0.9v0.9h-0.9zM76.9 460.1h1.3v1.3h-1.3zM89 450.1h1v1h-1zM85 491.3h1.3v1.3h-1.3zM132.7 425.5h1.1v1.1h-1.1zM122.8 427.1h1.4v1.4h-1.4zM74.2 509.1h0.9v0.9h-0.9zM80.6 496.4h1.2v1.2h-1.2zM39.8 486.3h1.4v1.4h-1.4zM101.9 443.2h1.1v1.1h-1.1zM40.9 487.2h1.1v1.1h-1.1zM108.8 437.1h1.1v1.1h-1.1zM92.4 481.4h1.2v1.2h-1.2zM94.7 447.6h1.5v1.5h-1.5zM66.8 463h1.4v1.4h-1.4zM44.3 486.3h0.8v0.8h-0.8zM43.2 486.8h1.3v1.3h-1.3zM90.7 451.2h1.3v1.3h-1.3zM83.2 454h1.5v1.5h-1.5zM50.2 481.9h1.5v1.5h-1.5zM90.3 451.2h1.2v1.2h-1.2zM77.5 503h1.5v1.5h-1.5zM45.9 484.6h1.2v1.2h-1.2zM72.6 512.2h0.9v0.9h-0.9zM73.8 461.2h1.2v1.2h-1.2zM86 453.3h1.2v1.2h-1.2zM89.2 451.8h0.8v0.8h-0.8zM60 467.8h0.9v0.9h-0.9zM54.2 477.4h0.8v0.8h-0.8zM127.9 423.7h1.3v1.3h-1.3zM101.6 443.7h1.2v1.2h-1.2zM64.2 465.1h1v1h-1zM104 442.7h1.5v1.5h-1.5zM112.5 434.3h0.9v0.9h-0.9zM115.3 431.9h0.9v0.9h-0.9zM59.9 468.5h1.4v1.4h-1.4zM87.2 487.1h1.3v1.3h-1.3zM74.6 509.1h0.9v0.9h-0.9zM130.2 423.8h0.8v0.8h-0.8zM86.9 487h1v1h-1zM65.4 463.7h1.1v1.1h-1.1zM108.3 437.1h1.3v1.3h-1.3zM69.6 463.9h1.2v1.2h-1.2zM84.6 455.1h1.3v1.3h-1.3zM84.9 455.4h1.4v1.4h-1.4zM38.2 487.6h1.2v1.2h-1.2zM129.9 423.2h0.8v0.8h-0.8zM90.6 484.3h0.9v0.9h-0.9zM75.9 505.6h1.2v1.2h-1.2zM74 508.9h1.4v1.4h-1.4zM82 495.7h0.9v0.9h-0.9zM121.1 428.5h1.4v1.4h-1.4zM83.5 456.4h1v1h-1zM88.7 451.8h0.9v0.9h-0.9zM97.9 445.9h1v1h-1zM72.8 514.1h1.2v1.2h-1.2zM124.9 424.5h1.4v1.4h-1.4zM85.8 490.3h0.8v0.8h-0.8zM61.1 468.2h1.2v1.2h-1.2zM89.6 483.9h1.2v1.2h-1.2zM103.5 441.7h1.4v1.4h-1.4zM109.5 437.2h1.4v1.4h-1.4zM82.8 494.5h1.4v1.4h-1.4zM84.7 489.6h1.3v1.3h-1.3zM58.6 469.6h0.8v0.8h-0.8zM88.4 487.5h1.1v1.1h-1.1zM51.2 482.2h1.2v1.2h-1.2zM71.3 515.6h1.5v1.5h-1.5zM119.6 429.4h1.5v1.5h-1.5zM72.9 460.7h0.9v0.9h-0.9zM91.6 450.4h1.3v1.3h-1.3zM55.8 473.5h1.1v1.1h-1.1zM105.2 439.3h1.4v1.4h-1.4zM49.6 484h1.5v1.5h-1.5zM83.5 455.2h1.4v1.4h-1.4zM42.5 485.5h1v1h-1zM81.8 493.9h1.3v1.3h-1.3zM84.4 490.9h0.9v0.9h-0.9zM39.9 487h1.5v1.5h-1.5zM72.3 460.7h1v1h-1zM87.6 450.7h1.4v1.4h-1.4zM76.7 458.4h1v1h-1zM114.9 432.8h1.2v1.2h-1.2zM126 424.4h1.3v1.3h-1.3zM86.4 453.4h1.3v1.3h-1.3zM56 469.9h1.3v1.3h-1.3zM97.2 447.5h1.4v1.4h-1.4zM132.5 428.6h1.3v1.3h-1.3zM86.1 487h0.9v0.9h-0.9zM71.5 461.1h1.2v1.2h-1.2zM89.6 450.2h1.2v1.2h-1.2zM41.1 487.2h1.1v1.1h-1.1zM59.8 467.7h1.3v1.3h-1.3zM98.1 445.8h1.3v1.3h-1.3zM66.6 463.3h1v1h-1zM81.6 455h0.9v0.9h-0.9zM92.8 448.6h0.9v0.9h-0.9zM68 464.7h1.2v1.2h-1.2zM56.6 469.3h0.9v0.9h-0.9zM91 482.9h1.1v1.1h-1.1zM56.4 471.4h1v1h-1zM85.7 488.3h1.1v1.1h-1.1zM86.5 487.3h1v1h-1zM71.3 514.2h1.2v1.2h-1.2zM113.6 434.1h1.2v1.2h-1.2zM75.3 460.3h1v1h-1zM80.5 496.3h1.2v1.2h-1.2zM133 428.5h0.9v0.9h-0.9zM103.4 441h1.2v1.2h-1.2zM42.7 485.2h1.5v1.5h-1.5zM54.7 474.9h0.8v0.8h-0.8zM43 485.8h1.4v1.4h-1.4zM81.5 496.1h1.1v1.1h-1.1zM56.8 470.4h1v1h-1zM52.2 478h1v1h-1zM104.1 441h1v1h-1zM42.5 486.7h1v1h-1zM77.6 502.5h1.2v1.2h-1.2zM59.5 468.6h1.4v1.4h-1.4zM121.7 426.7h0.9v0.9h-0.9zM43.1 486.9h0.9v0.9h-0.9zM89.4 484.9h1.2v1.2h-1.2zM106.2 438.2h0.9v0.9h-0.9zM89.1 484.2h1.2v1.2h-1.2zM102.3 444.4h1.2v1.2h-1.2zM70 462.1h1.4v1.4h-1.4zM104.7 440.8h1.2v1.2h-1.2zM82.8 456.1h1v1h-1zM66 463.4h1.4v1.4h-1.4zM45.6 485.1h1.1v1.1h-1.1zM104.8 442.1h1.3v1.3h-1.3zM129.7 424.5h1.3v1.3h-1.3zM44.4 484.5h1.4v1.4h-1.4zM79.6 496.7h1.2v1.2h-1.2zM90 484.8h1.1v1.1h-1.1zM93.8 481.2h1.3v1.3h-1.3zM61.8 467h1v1h-1zM53.3 475.1h0.9v0.9h-0.9zM103.1 443.1h0.8v0.8h-0.8zM133 428.6h1.4v1.4h-1.4zM131.6 423.7h1.2v1.2h-1.2zM132.6 424.3h1.1v1.1h-1.1zM74.9 507.3h1.1v1.1h-1.1zM41.1 487.8h0.9v0.9h-0.9zM64.5 466.1h0.8v0.8h-0.8zM75.2 508h1.4v1.4h-1.4zM72.3 512.7h0.9v0.9h-0.9zM78.6 458.5h1v1h-1zM96.9 477.6h1.3v1.3h-1.3zM82 495.1h1v1h-1zM90.4 448.9h1v1h-1zM77.9 457.8h1.4v1.4h-1.4zM85.9 452.6h1v1h-1zM123.4 426.3h1.5v1.5h-1.5zM84.6 489.9h1.3v1.3h-1.3zM79.1 457h0.9v0.9h-0.9zM75.6 460.8h1v1h-1zM58.8 467.8h1.2v1.2h-1.2zM80 458.9h1.2v1.2h-1.2zM67.6 464.8h1.2v1.2h-1.2zM73.6 462.2h1.2v1.2h-1.2zM46 485.9h1.5v1.5h-1.5zM132.7 428.8h1v1h-1zM90.3 483.5h0.9v0.9h-0.9zM81.3 495.7h1.2v1.2h-1.2zM106.4 438.9h1.1v1.1h-1.1zM86.7 488.4h1v1h-1zM55.6 470.7h1v1h-1zM126 425.3h1.3v1.3h-1.3zM94.4 480.4h1.2v1.2h-1.2zM72.4 515.5h1.3v1.3h-1.3zM52.3 479.6h1.2v1.2h-1.2zM107.1 437.2h1.2v1.2h-1.2zM102.9 442.1h1v1h-1zM71.8 460.9h1.2v1.2h-1.2zM90.2 450.4h1.4v1.4h-1.4zM43.8 486.3h0.8v0.8h-0.8zM104.6 441.4h1v1h-1zM97.3 446.8h1.1v1.1h-1.1zM114.3 433.1h1.1v1.1h-1.1zM115.8 431.9h1.1v1.1h-1.1zM81.1 497.2h1.4v1.4h-1.4zM108.8 437.3h1.4v1.4h-1.4zM79 459.3h1v1h-1zM46.5 483.5h1.3v1.3h-1.3zM71.4 514.2h1.1v1.1h-1.1zM76.6 504.9h1.1v1.1h-1.1zM86 488h0.9v0.9h-0.9zM79.1 498.8h1.4v1.4h-1.4zM94.7 480.1h1.5v1.5h-1.5zM84.7 490.1h1v1h-1zM86.9 488.3h1v1h-1zM116.3 430.6h1.1v1.1h-1.1zM114.4 433.7h0.9v0.9h-0.9zM107.2 437.1h1v1h-1zM79.3 500.2h1v1h-1zM52.3 478h0.9v0.9h-0.9zM48 485h1.2v1.2h-1.2z" fill="#00008c"/><path d="M64.3 460.7h1.4v1.4h-1.4zM93.5 444.9h1.3v1.3h-1.3zM88.2 448.6h0.9v0.9h-0.9zM74.8 454.5h1v1h-1zM57.3 464.9h0.9v0.9h-0.9zM94.3 443.3h1v1h-1zM60.9 461.9h1v1h-1zM63.1 460.3h0.9v0.9h-0.9zM83.2 449.2h1.1v1.1h-1.1zM42.5 473.3h1v1h-1zM64.5 459.4h1.1v1.1h-1.1zM134.9 425.2h1v1h-1zM88.1 447.4h1v1h-1zM63.5 463.5h0.9v0.9h-0.9zM43.8 484.2h1.3v1.3h-1.3zM75.2 457.3h1.5v1.5h-1.5zM65 458.7h1.1v1.1h-1.1zM90.2 447.5h1.4v1.4h-1.4zM96.3 443.7h1.1v1.1h-1.1zM80.6 452.5h1.2v1.2h-1.2zM76.2 453.6h1v1h-1zM73.1 455.1h0.9v0.9h-0.9zM39.2 486.2h1.2v1.2h-1.2zM70.3 460.3h1.3v1.3h-1.3zM71.8 458.7h1.3v1.3h-1.3zM80.2 455.3h1.5v1.5h-1.5zM37.8 486.3h0.9v0.9h-0.9zM77.9 454.4h1.4v1.4h-1.4zM66.2 458.7h1.4v1.4h-1.4zM88.7 449.2h1.2v1.2h-1.2zM43 480.8h1.3v1.3h-1.3zM59 464.4h1.4v1.4h-1.4zM82 449.7h1v1h-1zM39.6 484.1h1.4v1.4h-1.4zM81.6 454.8h1.4v1.4h-1.4zM47.5 474.2h0.9v0.9h-0.9zM47.3 481.6h0.8v0.8h-0.8zM59.6 461.9h1v1h-1zM91.9 447.7h1.4v1.4h-1.4zM87 446.1h1.3v1.3h-1.3zM57.8 464.8h1.2v1.2h-1.2zM62 458h1.2v1.2h-1.2zM40.6 479.2h1.2v1.2h-1.2zM42.5 468.3h1.3v1.3h-1.3zM61.8 463.4h1.2v1.2h-1.2zM81.7 454.6h1.5v1.5h-1.5zM91.5 444.9h0.9v0.9h-0.9zM49.1 476.4h1.1v1.1h-1.1zM57.4 461.1h0.9v0.9h-0.9zM49.4 481.7h1.5v1.5h-1.5zM63.9 462.1h1.2v1.2h-1.2zM54.5 467.7h0.9v0.9h-0.9zM74.6 454.2h1.3v1.3h-1.3zM74 458h0.9v0.9h-0.9zM83.8 450.4h1.1v1.1h-1.1zM100.3 442.1h1.4v1.4h-1.4zM85.1 450.9h1.1v1.1h-1.1zM46 474h0.9v0.9h-0.9zM55.3 468.3h1v1h-1zM80.9 454.8h1.2v1.2h-1.2zM45.9 482.5h1.2v1.2h-1.2zM73 454.7h1.3v1.3h-1.3zM70.1 459.2h1v1h-1zM89.3 447.5h1.2v1.2h-1.2zM38.8 476h1.4v1.4h-1.4zM39.4 482h0.9v0.9h-0.9zM69.4 456.5h1v1h-1zM52.4 475.4h1.3v1.3h-1.3zM48.6 467.8h1.3v1.3h-1.3zM89.3 448.5h1.4v1.4h-1.4zM94.9 446.2h0.9v0.9h-0.9zM42.1 484h1v1h-1zM81 450.1h1v1h-1zM47.7 471.1h1.4v1.4h-1.4zM67 460.6h1.1v1.1h-1.1zM49.2 463.4h1.1v1.1h-1.1zM85.5 448h0.9v0.9h-0.9zM90.4 447.3h1.3v1.3h-1.3zM78.5 455.4h0.9v0.9h-0.9zM66.9 459.9h1.1v1.1h-1.1zM97.8 443h1.1v1.1h-1.1zM44.7 477h0.9v0.9h-0.9zM76.8 453.7h1.3v1.3h-1.3zM86 449.1h1.2v1.2h-1.2zM57.8 466.4h1v1h-1zM54.7 467.4h1.4v1.4h-1.4zM68.5 458.9h1.4v1.4h-1.4zM71.5 459.4h1.1v1.1h-1.1zM49.2 481.2h1.5v1.5h-1.5zM51.4 472.4h1.4v1.4h-1.4zM73.5 457.1h1.2v1.2h-1.2zM59.8 464.6h1v1h-1zM52 465.7h0.9v0.9h-0.9zM89.7 447.9h1.4v1.4h-1.4zM86.2 449.5h1.2v1.2h-1.2zM46.2 481.4h1v1h-1zM59.3 462.2h1.5v1.5h-1.5zM48 481.9h0.8v0.8h-0.8zM42.5 477.6h1.1v1.1h-1.1zM73.5 459.1h1.4v1.4h-1.4zM78.2 453.6h1.1v1.1h-1.1zM92.2 447.7h0.9v0.9h-0.9zM86.4 448h1.1v1.1h-1.1zM55.9 465.7h1.5v1.5h-1.5zM91.9 446.5h1.4v1.4h-1.4zM105.4 438.4h1.1v1.1h-1.1zM67.1 460.3h1.1v1.1h-1.1zM60.7 464h1.5v1.5h-1.5zM74.4 452.5h1.3v1.3h-1.3zM45.5 474.3h1v1h-1zM59 465h1.2v1.2h-1.2zM62.5 459.8h1.3v1.3h-1.3zM93.7 446h0.9v0.9h-0.9zM45.1 482.1h1.2v1.2h-1.2zM56.3 466.9h0.9v0.9h-0.9zM43.9 468.9h0.9v0.9h-0.9zM53.6 472.5h1.1v1.1h-1.1zM57.3 460.6h1.3v1.3h-1.3zM73.4 456.2h0.9v0.9h-0.9zM48.3 474.7h1.3v1.3h-1.3zM86.1 450h1.2v1.2h-1.2zM60.4 462h1v1h-1zM42 483.5h1.4v1.4h-1.4zM74.7 456.8h1.1v1.1h-1.1zM93.9 445.6h1.1v1.1h-1.1zM76.3 458.1h1.3v1.3h-1.3zM77.6 455.2h1.3v1.3h-1.3zM52.4 470.1h1v1h-1zM85.2 450.4h1.4v1.4h-1.4zM51.1 479.4h0.8v0.8h-0.8zM79 453.3h1.3v1.3h-1.3zM78 454.9h1.3v1.3h-1.3zM44.9 480.5h1v1h-1zM50 481.1h1.5v1.5h-1.5zM58 467.1h1.3v1.3h-1.3zM48.2 469.8h1.1v1.1h-1.1zM62.2 456.1h1.2v1.2h-1.2zM72.3 453.2h1.5v1.5h-1.5zM85.4 451.7h1.3v1.3h-1.3zM60 462.1h1.2v1.2h-1.2zM75.1 452.3h0.8v0.8h-0.8zM81 451.7h0.9v0.9h-0.9zM62.9 464.4h1.1v1.1h-1.1zM72.3 454.9h1.2v1.2h-1.2zM61.5 458.9h1.3v1.3h-1.3zM55.6 467.7h0.8v0.8h-0.8zM98.5 441.9h1.2v1.2h-1.2zM45.3 475.8h1.1v1.1h-1.1zM134.2 424.3h1.2v1.2h-1.2zM58.2 462.1h1.1v1.1h-1.1zM62.2 458.3h1.4v1.4h-1.4zM57.2 466.2h1.1v1.1h-1.1zM57.8 458.8h1.2v1.2h-1.2zM49.8 480.7h1v1h-1zM47 482.3h1.2v1.2h-1.2zM73.6 456.6h0.9v0.9h-0.9zM59.5 460.6h1.4v1.4h-1.4zM77.1 457.4h0.9v0.9h-0.9zM132.2 423.3h0.8v0.8h-0.8zM94.4 446.5h1v1h-1zM65.5 460.5h1.2v1.2h-1.2zM42.3 479h1.1v1.1h-1.1zM61.1 465.5h1v1h-1zM61.6 463.2h0.8v0.8h-0.8zM67.6 456.5h1.3v1.3h-1.3zM94.2 445.2h1.3v1.3h-1.3zM42.5 481.5h0.8v0.8h-0.8zM70.9 457.8h1.2v1.2h-1.2zM80.4 452.5h1.1v1.1h-1.1z" fill="#4848c0"/><path d="M134.5 425.5C134.5 425.4 134.6 425.2 134.7 425.1C134.7 424.9 134.8 424.8 134.9 424.7C135 424.6 135.1 424.5 135.2 424.4C135.2 424.3 135.3 424.3 135.4 424.2C135.5 424.1 135.6 424 135.7 423.9C135.8 423.8 135.9 423.7 136 423.6C136.1 423.6 136.2 423.5 136.2 423.4C136.3 423.3 136.4 423.2 136.5 423.1C136.6 423.1 136.7 423 136.8 422.9C136.9 422.8 137 422.7 137.1 422.7C137.2 422.6 137.3 422.5 137.4 422.4C137.5 422.4 137.6 422.3 137.7 422.2C137.8 422.1 137.9 422.1 138 422C138.1 421.9 138.2 421.8 138.3 421.8C138.4 421.7 138.5 421.6 138.6 421.6C138.7 421.5 138.8 421.4 138.9 421.3C139 421.3 139.1 421.2 139.2 421.1C139.3 421.1 139.4 421 139.5 420.9C139.6 420.9 139.7 420.8 139.8 420.7C139.9 420.7 140 420.6 140.1 420.5C140.2 420.5 140.3 420.4 140.5 420.3C140.6 420.3 140.7 420.2 140.8 420.2C140.9 420.1 141 420 141.1 420C141.2 419.9 141.3 419.8 141.4 419.8C141.5 419.7 141.6 419.7 141.7 419.6C141.8 419.5 141.9 419.5 142.1 419.4C142.2 419.4 142.3 419.3 142.4 419.2C142.5 419.2 142.6 419.1 142.7 419.1C142.8 419 142.9 419 143 418.9C143.2 418.9 143.3 418.8 143.4 418.7C143.5 418.7 143.6 418.6 143.7 418.6C143.8 418.5 143.9 418.5 144.1 418.4C144.2 418.4 144.3 418.3 144.4 418.3C144.5 418.2 144.6 418.2 144.8 418.1C144.9 418.1 145 418.1 145.1 418C145.2 418 145.3 417.9 145.5 417.9C145.6 417.8 145.7 417.8 145.8 417.8C146 417.7 146.1 417.7 146.2 417.7C146.3 417.7 146.5 417.6 146.6 417.6C146.7 417.6 147 417.6 147.1 417.7C147.1 417.8 147 418 146.9 418.1C146.9 418.3 146.8 418.4 146.7 418.5C146.6 418.6 146.5 418.7 146.4 418.8C146.4 418.9 146.3 418.9 146.2 419C146.1 419.1 146 419.2 145.9 419.3C145.8 419.4 145.7 419.5 145.6 419.6C145.5 419.6 145.4 419.7 145.4 419.8C145.3 419.9 145.2 420 145.1 420.1C145 420.1 144.9 420.2 144.8 420.3C144.7 420.4 144.6 420.5 144.5 420.5C144.4 420.6 144.3 420.7 144.2 420.8C144.1 420.8 144 420.9 143.9 421C143.8 421.1 143.7 421.1 143.6 421.2C143.5 421.3 143.4 421.4 143.3 421.4C143.2 421.5 143.1 421.6 143 421.6C142.9 421.7 142.8 421.8 142.7 421.9C142.6 421.9 142.5 422 142.4 422.1C142.3 422.1 142.2 422.2 142.1 422.3C142 422.3 141.9 422.4 141.8 422.5C141.7 422.5 141.6 422.6 141.5 422.7C141.4 422.7 141.3 422.8 141.1 422.9C141 422.9 140.9 423 140.8 423C140.7 423.1 140.6 423.2 140.5 423.2C140.4 423.3 140.3 423.4 140.2 423.4C140.1 423.5 140 423.5 139.9 423.6C139.8 423.7 139.7 423.7 139.5 423.8C139.4 423.8 139.3 423.9 139.2 424C139.1 424 139 424.1 138.9 424.1C138.8 424.2 138.7 424.2 138.6 424.3C138.4 424.3 138.3 424.4 138.2 424.5C138.1 424.5 138 424.6 137.9 424.6C137.8 424.7 137.7 424.7 137.5 424.8C137.4 424.8 137.3 424.9 137.2 424.9C137.1 425 137 425 136.8 425.1C136.7 425.1 136.6 425.1 136.5 425.2C136.4 425.2 136.3 425.3 136.1 425.3C136 425.4 135.9 425.4 135.8 425.4C135.6 425.5 135.5 425.5 135.4 425.5C135.3 425.5 135.1 425.6 135 425.6C134.9 425.6 134.6 425.6 134.5 425.5Z" fill="#00008c"/><path d="M42.4 498.8C42.3 499.3 42.3 499.2 42.3 499.4C42.3 499.6 42.2 499.8 42.2 500C42.2 500.2 42.2 500.4 42.2 500.6C42.2 500.8 42.3 501 42.3 501.2C42.3 501.4 42.3 501.5 42.4 501.7C42.4 501.9 42.5 502.1 42.5 502.3C42.6 502.5 42.7 502.7 42.7 502.9C42.8 503 42.7 502.9 43 503.4C43.3 503.9 44.2 505.5 44.4 506C44.7 506.5 44.6 506.3 44.8 506.5C44.9 506.7 45 506.8 45.1 507C45.2 507.1 45.4 507.3 45.5 507.4C45.7 507.6 45.8 507.7 46 507.8C46.1 507.9 46.3 508.1 46.4 508.2C46.6 508.3 46.8 508.4 46.9 508.5C47.1 508.6 47.3 508.7 47.5 508.7C47.7 508.8 47.9 508.9 48 508.9C48.2 509 48 509 48.6 509.1C49.2 509.2 51 509.6 51.6 509.7C52.2 509.9 52 509.8 52.2 509.9C52.4 509.9 52.6 509.9 52.8 509.9C53 509.9 53.3 509.9 53.5 509.9C53.7 509.8 53.3 509.9 54.1 509.8C54.9 509.6 57.3 509.2 58.1 509C58.9 508.8 58.5 508.9 58.7 508.9C58.9 508.8 58.6 508.9 59.2 508.7C59.8 508.4 61.6 507.7 62.2 507.5C62.7 507.3 62.6 507.3 62.8 507.2C63 507.1 62.8 507.2 63.4 506.9C63.9 506.5 65.3 505.5 65.8 505.2C66.3 504.9 65.6 505.3 66.2 504.9C66.8 504.5 68.7 502.9 69.2 502.5C69.7 502.1 68.8 502.8 69.4 502.4C69.9 501.9 71.8 500.2 72.4 499.8C72.9 499.3 71.9 500.2 72.5 499.7C73 499.1 75.1 497.3 75.8 496.7C76.4 496.1 75.7 496.8 76.3 496.1C76.9 495.4 78.2 493.9 79.4 492.5C80.7 491.1 83 488.6 83.7 487.7C84.4 486.9 82.9 488.7 83.8 487.6C84.7 486.5 88.2 482.4 89.1 481.3C90 480.2 88.9 481.7 89.4 481C89.9 480.2 91.8 477.7 92.3 477C92.8 476.3 91.8 477.6 92.4 476.8C92.9 476.1 94.9 473.2 95.4 472.4C96 471.6 95.6 472.1 95.7 472C95.8 471.8 95.8 471.8 95.9 471.5C96.1 471.2 96.5 470.4 96.6 470.1C96.8 469.7 96.8 469.7 96.9 469.5C96.9 469.3 97 469.1 97.1 468.9C97.1 468.7 97.2 468.5 97.2 468.3C97.2 468.1 97.2 467.9 97.2 467.7C97.3 467.5 97.3 467.3 97.3 467.1C97.2 466.9 97.2 466.6 97.2 466.4C97.2 466.2 97.1 466 97.1 465.8C97 465.6 97 465.4 96.9 465.2C96.8 465.1 96.8 464.9 96.7 464.7C96.6 464.5 96.5 464.3 96.4 464.1C96.3 464 96.2 463.8 96 463.6C95.9 463.4 95.8 463.3 95.6 463.1C95.5 463 95.4 462.8 95.2 462.7C95.1 462.6 94.9 462.4 94.7 462.3C94.6 462.2 94.4 462.1 94.2 461.9C94.1 461.8 93.9 461.7 93.7 461.7C93.5 461.6 93.3 461.5 93.1 461.4C92.9 461.3 92.7 461.3 92.5 461.2C92.3 461.2 92.1 461.1 91.9 461.1C91.7 461.1 91.5 461.1 91.3 461C91.1 461 90.9 461 90.7 461C90.5 461 90.3 461.1 90.1 461.1C89.9 461.1 89.7 461.2 89.5 461.2C89.3 461.3 89.1 461.3 88.9 461.4C88.7 461.5 88.9 461.3 88.3 461.6C87.7 461.9 85.7 462.8 85 463.1C84.4 463.5 84.8 463.2 84.2 463.6C83.6 464 82.8 464.6 81.5 465.4C80.1 466.2 78 467.5 76.3 468.5C74.6 469.5 72.4 470.8 71.1 471.4C69.9 472.1 69.4 472.4 69 472.6C68.6 472.9 69 472.6 68.5 472.9C68 473.2 66.3 474.3 65.8 474.7C65.3 475 66 474.6 65.5 474.9C65 475.3 63.4 476.6 62.9 476.9C62.4 477.3 63.1 476.7 62.7 477.1C62.2 477.5 61.1 478.5 60.2 479.2C59.4 479.8 58.2 480.7 57.7 481.1C57.2 481.4 57.9 480.9 57.4 481.3C56.9 481.7 55.7 482.7 54.8 483.5C54 484.2 52.7 485.2 52.2 485.6C51.7 486 51.9 485.8 51.8 485.9C51.7 486 52 485.8 51.5 486.3C51 486.8 49.9 488.1 49 489C48.2 489.9 47.1 490.9 46.4 491.6C45.7 492.3 45.1 493 44.7 493.3C44.4 493.7 44.4 493.6 44.3 493.8C44.2 493.9 44.1 494.1 44 494.2C43.9 494.4 43.8 494.5 43.7 494.7C43.6 494.9 43.5 495 43.4 495.2C43.3 495.4 43.3 495.6 43.2 495.7C43.1 495.9 43.2 495.8 43 496.3C42.9 496.8 42.5 498.3 42.4 498.8Z" fill="#0000dc" filter="url(#bl2)"/><path d="M93.3 466C93.2 465.9 93.5 465.6 93.6 465.3C93.8 465.1 93.9 464.9 94 464.7C94.1 464.5 94.3 464.3 94.4 464.1C94.5 463.8 94.6 463.6 94.8 463.4C94.9 463.2 95 463 95.2 462.8C95.3 462.6 95.4 462.4 95.6 462.2C95.7 462 95.8 461.8 96 461.6C96.1 461.4 96.3 461.2 96.4 461C96.6 460.8 96.7 460.6 96.8 460.5C97 460.3 97.1 460.1 97.3 459.9C97.4 459.7 97.6 459.5 97.7 459.3C97.9 459.2 98 459 98.2 458.8C98.4 458.6 98.5 458.4 98.7 458.3C98.8 458.1 99 457.9 99.1 457.7C99.3 457.6 99.5 457.4 99.6 457.2C99.8 457.1 100 456.9 100.1 456.7C100.3 456.6 100.5 456.4 100.6 456.3C100.8 456.1 101 455.9 101.1 455.8C101.3 455.6 101.5 455.5 101.7 455.3C101.8 455.2 102 455 102.2 454.9C102.4 454.7 102.6 454.6 102.7 454.4C102.9 454.3 103.1 454.1 103.3 454C103.5 453.8 103.7 453.7 103.8 453.6C104 453.4 104.2 453.3 104.4 453.1C104.6 453 104.8 452.9 105 452.7C105.2 452.6 105.4 452.5 105.6 452.3C105.8 452.2 106 452.1 106.2 452C106.4 451.8 106.6 451.7 106.8 451.6C107 451.5 107.2 451.4 107.4 451.2C107.6 451.1 107.8 451 108 450.9C108.2 450.8 108.4 450.7 108.6 450.6C108.9 450.4 109.1 450.3 109.3 450.2C109.5 450.1 109.7 450 109.9 449.9C110.1 449.8 110.4 449.7 110.6 449.6C110.8 449.5 111 449.4 111.3 449.3C111.5 449.2 111.7 449.1 111.9 449C112.2 448.9 112.4 448.8 112.6 448.8C112.8 448.7 113.1 448.6 113.3 448.5C113.5 448.4 113.8 448.3 114 448.2C114.2 448.2 114.7 447.9 114.7 448C114.8 448.1 114.5 448.4 114.4 448.7C114.2 448.9 114.1 449.1 114 449.3C113.9 449.5 113.7 449.7 113.6 449.9C113.5 450.2 113.4 450.4 113.2 450.6C113.1 450.8 113 451 112.8 451.2C112.7 451.4 112.6 451.6 112.4 451.8C112.3 452 112.2 452.2 112 452.4C111.9 452.6 111.7 452.8 111.6 453C111.4 453.2 111.3 453.4 111.2 453.5C111 453.7 110.9 453.9 110.7 454.1C110.6 454.3 110.4 454.5 110.3 454.7C110.1 454.8 110 455 109.8 455.2C109.6 455.4 109.5 455.6 109.3 455.7C109.2 455.9 109 456.1 108.9 456.3C108.7 456.4 108.5 456.6 108.4 456.8C108.2 456.9 108 457.1 107.9 457.3C107.7 457.4 107.5 457.6 107.4 457.7C107.2 457.9 107 458.1 106.9 458.2C106.7 458.4 106.5 458.5 106.3 458.7C106.2 458.8 106 459 105.8 459.1C105.6 459.3 105.4 459.4 105.3 459.6C105.1 459.7 104.9 459.9 104.7 460C104.5 460.2 104.3 460.3 104.2 460.4C104 460.6 103.8 460.7 103.6 460.9C103.4 461 103.2 461.1 103 461.3C102.8 461.4 102.6 461.5 102.4 461.7C102.2 461.8 102 461.9 101.8 462C101.6 462.2 101.4 462.3 101.2 462.4C101 462.5 100.8 462.6 100.6 462.8C100.4 462.9 100.2 463 100 463.1C99.8 463.2 99.6 463.3 99.4 463.4C99.1 463.6 98.9 463.7 98.7 463.8C98.5 463.9 98.3 464 98.1 464.1C97.9 464.2 97.6 464.3 97.4 464.4C97.2 464.5 97 464.6 96.7 464.7C96.5 464.8 96.3 464.9 96.1 465C95.8 465.1 95.6 465.2 95.4 465.2C95.2 465.3 94.9 465.4 94.7 465.5C94.5 465.6 94.2 465.7 94 465.8C93.8 465.8 93.3 466.1 93.3 466Z" fill="#0000dc" filter="url(#bl2)"/><path d="M90.9 466.6C90.8 466.6 91 466.4 91.1 466.3C91.2 466.2 91.2 466.1 91.3 465.9C91.4 465.8 91.5 465.7 91.6 465.6C91.6 465.5 91.7 465.4 91.8 465.3C91.9 465.1 92 465 92 464.9C92.1 464.8 92.2 464.7 92.3 464.6C92.4 464.5 92.4 464.4 92.5 464.3C92.6 464.2 92.7 464.1 92.8 463.9C92.9 463.8 93 463.7 93 463.6C93.1 463.5 93.2 463.4 93.3 463.3C93.4 463.2 93.5 463.1 93.6 463C93.7 462.9 93.8 462.8 93.8 462.7C93.9 462.6 94 462.5 94.1 462.4C94.2 462.3 94.3 462.2 94.4 462.1C94.5 462 94.6 461.9 94.7 461.9C94.8 461.8 94.9 461.7 95 461.6C95.1 461.5 95.2 461.4 95.3 461.3C95.4 461.2 95.5 461.1 95.6 461C95.7 460.9 95.8 460.9 95.9 460.8C96 460.7 96.1 460.6 96.2 460.5C96.3 460.4 96.4 460.3 96.5 460.2C96.6 460.2 96.7 460.1 96.8 460C96.9 459.9 97 459.8 97.1 459.8C97.2 459.7 97.3 459.6 97.4 459.5C97.5 459.4 97.6 459.4 97.7 459.3C97.9 459.2 98 459.1 98.1 459.1C98.2 459 98.3 458.9 98.4 458.8C98.5 458.8 98.6 458.7 98.7 458.6C98.9 458.5 99 458.5 99.1 458.4C99.2 458.3 99.3 458.3 99.4 458.2C99.6 458.1 99.7 458 99.8 458C99.9 457.9 100 457.8 100.1 457.8C100.3 457.7 100.4 457.6 100.5 457.6C100.6 457.5 100.7 457.5 100.9 457.4C101 457.3 101.1 457.3 101.2 457.2C101.4 457.1 101.5 457.1 101.6 457C101.7 457 101.9 456.9 102 456.9C102.1 456.8 102.2 456.7 102.4 456.7C102.5 456.6 102.6 456.6 102.7 456.5C102.9 456.5 103.1 456.3 103.1 456.4C103.2 456.4 103 456.6 102.9 456.7C102.8 456.8 102.8 456.9 102.7 457.1C102.6 457.2 102.5 457.3 102.4 457.4C102.4 457.5 102.3 457.6 102.2 457.7C102.1 457.9 102 458 102 458.1C101.9 458.2 101.8 458.3 101.7 458.4C101.6 458.5 101.6 458.6 101.5 458.7C101.4 458.8 101.3 458.9 101.2 459.1C101.1 459.2 101 459.3 101 459.4C100.9 459.5 100.8 459.6 100.7 459.7C100.6 459.8 100.5 459.9 100.4 460C100.3 460.1 100.2 460.2 100.2 460.3C100.1 460.4 100 460.5 99.9 460.6C99.8 460.7 99.7 460.8 99.6 460.9C99.5 461 99.4 461.1 99.3 461.1C99.2 461.2 99.1 461.3 99 461.4C98.9 461.5 98.8 461.6 98.7 461.7C98.6 461.8 98.5 461.9 98.4 462C98.3 462.1 98.2 462.1 98.1 462.2C98 462.3 97.9 462.4 97.8 462.5C97.7 462.6 97.6 462.7 97.5 462.8C97.4 462.8 97.3 462.9 97.2 463C97.1 463.1 97 463.2 96.9 463.2C96.8 463.3 96.7 463.4 96.6 463.5C96.5 463.6 96.4 463.6 96.3 463.7C96.1 463.8 96 463.9 95.9 463.9C95.8 464 95.7 464.1 95.6 464.2C95.5 464.2 95.4 464.3 95.3 464.4C95.1 464.5 95 464.5 94.9 464.6C94.8 464.7 94.7 464.7 94.6 464.8C94.4 464.9 94.3 465 94.2 465C94.1 465.1 94 465.2 93.9 465.2C93.7 465.3 93.6 465.4 93.5 465.4C93.4 465.5 93.3 465.5 93.1 465.6C93 465.7 92.9 465.7 92.8 465.8C92.6 465.9 92.5 465.9 92.4 466C92.3 466 92.1 466.1 92 466.1C91.9 466.2 91.8 466.3 91.6 466.3C91.5 466.4 91.4 466.4 91.3 466.5C91.1 466.5 90.9 466.7 90.9 466.6Z" fill="#0070ff" filter="url(#bl)"/><g filter="url(#bl)"><path d="M46 499.7C45.9 500.2 46 499.9 46 500C45.9 500 45.9 500.1 45.9 500.2C45.9 500.3 45.9 500.4 45.9 500.4C45.9 500.5 45.9 500.6 45.9 500.7C46 500.8 46 500.8 46 500.9C46 501 46 501.1 46.1 501.2C46.1 501.2 46.1 501.3 46.1 501.4C46.2 501.5 46 501.1 46.2 501.6C46.5 502.1 47.4 503.7 47.7 504.2C47.9 504.7 47.8 504.3 47.8 504.4C47.9 504.5 47.9 504.5 48 504.6C48 504.7 48.1 504.7 48.1 504.8C48.2 504.8 48.2 504.9 48.3 505C48.4 505 48.4 505.1 48.5 505.1C48.6 505.1 48.6 505.2 48.7 505.2C48.8 505.3 48.9 505.3 48.9 505.3C49 505.4 49.1 505.4 49.2 505.4C49.2 505.4 48.9 505.4 49.4 505.5C49.9 505.6 51.8 506 52.3 506.1C52.9 506.2 52.5 506.2 52.6 506.2C52.7 506.2 52.8 506.2 52.9 506.2C53 506.2 53.1 506.2 53.1 506.2C53.2 506.2 52.7 506.3 53.4 506.1C54.1 506 56.7 505.5 57.4 505.4C58.1 505.2 57.5 505.3 57.6 505.3C57.7 505.3 57.3 505.4 57.9 505.2C58.4 505 60.2 504.3 60.8 504.1C61.3 503.8 60.9 504 61 503.9C61.1 503.9 60.8 504.1 61.3 503.8C61.7 503.5 63.3 502.4 63.7 502.1C64.2 501.8 63.4 502.4 63.9 502C64.4 501.6 66.4 500 66.9 499.6C67.4 499.2 66.4 500 66.9 499.6C67.5 499.1 69.4 497.4 69.9 497C70.4 496.5 69.4 497.4 70 496.9C70.5 496.4 72.7 494.5 73.3 493.9C73.8 493.4 72.9 494.4 73.5 493.7C74 493.1 75.4 491.5 76.6 490.1C77.9 488.6 80.2 486.1 80.9 485.3C81.7 484.5 80.1 486.3 81 485.2C81.9 484.2 85.4 480 86.3 478.9C87.2 477.9 85.9 479.5 86.4 478.8C86.9 478.1 88.8 475.5 89.3 474.8C89.8 474.1 88.8 475.5 89.3 474.7C89.8 474 91.9 471 92.4 470.3C92.9 469.5 92.5 470.2 92.5 470.1C92.5 470 92.5 470.2 92.6 469.9C92.7 469.6 93.2 468.7 93.3 468.5C93.4 468.2 93.4 468.3 93.4 468.2C93.4 468.1 93.5 468.1 93.5 468C93.5 467.9 93.5 467.8 93.5 467.7C93.5 467.6 93.5 467.6 93.6 467.5C93.6 467.4 93.6 467.3 93.6 467.2C93.6 467.1 93.5 467.1 93.5 467C93.5 466.9 93.5 466.8 93.5 466.7C93.5 466.6 93.4 466.6 93.4 466.5C93.4 466.4 93.3 466.3 93.3 466.2C93.3 466.2 93.2 466.1 93.2 466C93.2 465.9 93.1 465.9 93.1 465.8C93 465.7 92.9 465.7 92.9 465.6C92.8 465.5 92.8 465.5 92.7 465.4C92.7 465.4 92.6 465.3 92.5 465.3C92.4 465.2 92.4 465.2 92.3 465.1C92.2 465.1 92.2 465 92.1 465C92 465 91.9 464.9 91.8 464.9C91.8 464.9 91.7 464.8 91.6 464.8C91.5 464.8 91.4 464.8 91.4 464.8C91.3 464.8 91.2 464.7 91.1 464.7C91 464.7 90.9 464.7 90.8 464.7C90.8 464.7 90.7 464.7 90.6 464.8C90.5 464.8 90.4 464.8 90.3 464.8C90.3 464.8 90.2 464.9 90.1 464.9C90 464.9 90.4 464.7 89.9 465C89.3 465.2 87.2 466.2 86.6 466.5C86 466.8 86.8 466.3 86.3 466.7C85.7 467 84.8 467.7 83.4 468.5C82.1 469.4 79.9 470.7 78.2 471.7C76.4 472.7 74.2 474 72.9 474.7C71.7 475.4 71.2 475.6 70.8 475.9C70.4 476.1 71 475.7 70.6 476C70.1 476.3 68.4 477.4 67.9 477.8C67.4 478.1 68.2 477.5 67.7 477.9C67.3 478.2 65.6 479.5 65.2 479.9C64.7 480.2 65.5 479.6 65.1 479.9C64.6 480.3 63.4 481.4 62.5 482.1C61.7 482.7 60.4 483.7 59.9 484C59.4 484.4 60.2 483.7 59.8 484.1C59.3 484.5 58.1 485.6 57.2 486.3C56.3 487 55 488.1 54.5 488.5C54.1 488.9 54.4 488.6 54.4 488.6C54.3 488.7 54.7 488.3 54.2 488.8C53.8 489.2 52.6 490.7 51.7 491.6C50.8 492.5 49.8 493.5 49 494.2C48.3 495 47.6 495.7 47.3 496C47 496.3 47.2 496.1 47.2 496.1C47.1 496.2 47.1 496.3 47 496.3C47 496.4 46.9 496.5 46.9 496.5C46.9 496.6 46.8 496.7 46.8 496.7C46.8 496.8 46.7 496.9 46.7 496.9C46.7 497 46.8 496.7 46.6 497.2C46.5 497.6 46.1 499.3 46 499.7Z" fill="#0070ff"/><path d="M46.7 499.9C46.6 500.3 46.7 500 46.6 500.1C46.6 500.1 46.6 500.2 46.6 500.2C46.6 500.3 46.6 500.4 46.6 500.4C46.6 500.5 46.6 500.5 46.6 500.6C46.6 500.6 46.7 500.7 46.7 500.8C46.7 500.8 46.7 500.9 46.7 500.9C46.7 501 46.8 501 46.8 501.1C46.8 501.2 46.6 500.8 46.9 501.3C47.1 501.7 48 503.4 48.3 503.9C48.6 504.3 48.4 504 48.4 504C48.4 504.1 48.5 504.1 48.5 504.2C48.5 504.2 48.6 504.3 48.6 504.3C48.7 504.3 48.7 504.4 48.8 504.4C48.8 504.5 48.9 504.5 48.9 504.5C48.9 504.6 49 504.6 49.1 504.6C49.1 504.6 49.2 504.7 49.2 504.7C49.3 504.7 49.3 504.7 49.4 504.8C49.4 504.8 49 504.7 49.6 504.8C50.1 504.9 52 505.3 52.5 505.4C53 505.6 52.6 505.5 52.7 505.5C52.8 505.5 52.8 505.5 52.9 505.5C52.9 505.5 53 505.5 53.1 505.5C53.1 505.5 52.6 505.6 53.3 505.5C54 505.3 56.6 504.8 57.3 504.7C57.9 504.5 57.4 504.7 57.4 504.6C57.5 504.6 57.1 504.8 57.6 504.6C58.1 504.4 60 503.6 60.5 503.4C61 503.2 60.6 503.4 60.7 503.3C60.8 503.3 60.4 503.5 60.9 503.2C61.3 502.9 62.9 501.8 63.3 501.5C63.8 501.3 62.9 501.9 63.4 501.5C64 501 65.9 499.5 66.4 499.1C66.9 498.7 66 499.5 66.5 499C67 498.6 69 496.9 69.5 496.4C70 496 69 496.9 69.5 496.4C70.1 495.9 72.2 494 72.8 493.4C73.4 492.9 72.4 493.9 73 493.3C73.5 492.6 74.9 491 76.1 489.6C77.4 488.2 79.7 485.6 80.4 484.8C81.1 484 79.6 485.8 80.5 484.8C81.3 483.7 84.8 479.5 85.7 478.5C86.6 477.4 85.3 479.1 85.8 478.4C86.3 477.7 88.2 475.1 88.7 474.4C89.2 473.7 88.2 475.1 88.7 474.3C89.3 473.6 91.3 470.6 91.8 469.9C92.3 469.1 91.9 469.8 91.9 469.8C91.9 469.7 91.8 469.9 92 469.6C92.1 469.4 92.5 468.4 92.7 468.2C92.8 467.9 92.7 468 92.7 468C92.8 467.9 92.8 467.9 92.8 467.8C92.8 467.7 92.8 467.7 92.8 467.6C92.8 467.6 92.8 467.5 92.9 467.4C92.9 467.4 92.9 467.3 92.9 467.3C92.9 467.2 92.8 467.1 92.8 467.1C92.8 467 92.8 466.9 92.8 466.9C92.8 466.8 92.8 466.8 92.7 466.7C92.7 466.6 92.7 466.6 92.7 466.5C92.7 466.5 92.6 466.4 92.6 466.4C92.6 466.3 92.5 466.3 92.5 466.2C92.5 466.2 92.4 466.1 92.4 466.1C92.3 466 92.3 466 92.2 465.9C92.2 465.9 92.1 465.9 92.1 465.8C92 465.8 92 465.7 91.9 465.7C91.9 465.7 91.8 465.6 91.8 465.6C91.7 465.6 91.7 465.6 91.6 465.5C91.5 465.5 91.5 465.5 91.4 465.5C91.4 465.5 91.3 465.5 91.2 465.5C91.2 465.4 91.1 465.4 91.1 465.4C91 465.4 90.9 465.4 90.9 465.4C90.8 465.4 90.8 465.4 90.7 465.5C90.6 465.5 90.6 465.5 90.5 465.5C90.4 465.5 90.4 465.5 90.3 465.5C90.3 465.6 90.7 465.3 90.2 465.6C89.6 465.9 87.5 466.9 86.9 467.1C86.3 467.4 87.2 466.9 86.7 467.3C86.1 467.6 85.2 468.3 83.8 469.1C82.5 470 80.3 471.3 78.5 472.3C76.8 473.3 74.5 474.6 73.3 475.3C72 476 71.5 476.3 71.1 476.5C70.7 476.7 71.4 476.3 71 476.6C70.5 476.9 68.7 478 68.3 478.3C67.8 478.7 68.6 478.1 68.2 478.4C67.7 478.8 66 480.1 65.6 480.4C65.2 480.7 66 480.1 65.5 480.5C65.1 480.8 63.8 481.9 63 482.6C62.1 483.3 60.8 484.2 60.3 484.6C59.9 484.9 60.7 484.3 60.2 484.7C59.8 485 58.5 486.1 57.6 486.8C56.8 487.6 55.4 488.6 55 489C54.5 489.4 54.9 489.1 54.9 489.1C54.8 489.1 55.2 488.7 54.8 489.2C54.3 489.7 53.1 491.1 52.2 492.1C51.3 493 50.3 494 49.5 494.7C48.8 495.5 48.1 496.2 47.8 496.5C47.5 496.8 47.7 496.5 47.7 496.6C47.7 496.6 47.6 496.7 47.6 496.7C47.6 496.8 47.5 496.8 47.5 496.9C47.5 496.9 47.5 497 47.4 497C47.4 497.1 47.4 497.1 47.4 497.2C47.3 497.2 47.4 496.9 47.3 497.3C47.2 497.8 46.8 499.4 46.7 499.9Z" fill="#00ffff"/><path d="M87.8 470C87.8 470 87.9 469.8 87.9 469.7C87.9 469.6 88 469.5 88 469.4C88.1 469.4 88.1 469.3 88.1 469.2C88.2 469.1 88.2 469 88.3 468.9C88.3 468.8 88.3 468.7 88.4 468.6C88.4 468.5 88.5 468.4 88.5 468.3C88.6 468.3 88.6 468.2 88.7 468.1C88.7 468 88.8 467.9 88.8 467.8C88.9 467.8 88.9 467.7 89 467.6C89 467.5 89.1 467.4 89.1 467.3C89.2 467.3 89.2 467.2 89.3 467.1C89.3 467 89.4 467 89.5 466.9C89.5 466.8 89.6 466.7 89.6 466.7C89.7 466.6 89.7 466.5 89.8 466.4C89.9 466.4 89.9 466.3 90 466.2C90 466.2 90.1 466.1 90.2 466C90.2 466 90.3 465.9 90.4 465.8C90.4 465.8 90.5 465.7 90.6 465.6C90.6 465.6 90.7 465.5 90.8 465.5C90.8 465.4 90.9 465.3 91 465.3C91 465.2 91.1 465.2 91.2 465.1C91.3 465 91.3 465 91.4 464.9C91.5 464.9 91.6 464.8 91.6 464.8C91.7 464.7 91.8 464.7 91.9 464.6C91.9 464.6 92 464.5 92.1 464.5C92.2 464.4 92.2 464.4 92.3 464.3C92.4 464.3 92.5 464.2 92.6 464.2C92.7 464.1 92.7 464.1 92.8 464.1C92.9 464 93 464 93.1 463.9C93.2 463.9 93.2 463.9 93.3 463.8C93.4 463.8 93.5 463.7 93.6 463.7C93.7 463.7 93.8 463.6 93.9 463.6C94 463.6 94.1 463.5 94.1 463.5C94.2 463.5 94.3 463.4 94.4 463.4C94.5 463.4 94.6 463.3 94.7 463.3C94.8 463.3 94.9 463.3 95 463.2C95.1 463.2 95.2 463.2 95.3 463.2C95.4 463.1 95.5 463.1 95.6 463.1C95.7 463.1 95.8 463 95.9 463C96 463 96.2 462.9 96.2 463C96.2 463 96.1 463.2 96.1 463.3C96.1 463.4 96 463.5 96 463.6C95.9 463.6 95.9 463.7 95.9 463.8C95.8 463.9 95.8 464 95.7 464.1C95.7 464.2 95.7 464.3 95.6 464.4C95.6 464.5 95.5 464.6 95.5 464.7C95.4 464.7 95.4 464.8 95.3 464.9C95.3 465 95.2 465.1 95.2 465.2C95.1 465.2 95.1 465.3 95 465.4C95 465.5 94.9 465.6 94.9 465.7C94.8 465.7 94.8 465.8 94.7 465.9C94.7 466 94.6 466 94.5 466.1C94.5 466.2 94.4 466.3 94.4 466.3C94.3 466.4 94.3 466.5 94.2 466.6C94.1 466.6 94.1 466.7 94 466.8C94 466.8 93.9 466.9 93.8 467C93.8 467 93.7 467.1 93.6 467.2C93.6 467.2 93.5 467.3 93.4 467.4C93.4 467.4 93.3 467.5 93.2 467.5C93.2 467.6 93.1 467.7 93 467.7C93 467.8 92.9 467.8 92.8 467.9C92.7 468 92.7 468 92.6 468.1C92.5 468.1 92.4 468.2 92.4 468.2C92.3 468.3 92.2 468.3 92.1 468.4C92.1 468.4 92 468.5 91.9 468.5C91.8 468.6 91.8 468.6 91.7 468.7C91.6 468.7 91.5 468.8 91.4 468.8C91.3 468.9 91.3 468.9 91.2 468.9C91.1 469 91 469 90.9 469.1C90.8 469.1 90.8 469.1 90.7 469.2C90.6 469.2 90.5 469.3 90.4 469.3C90.3 469.3 90.2 469.4 90.1 469.4C90 469.4 89.9 469.5 89.9 469.5C89.8 469.5 89.7 469.6 89.6 469.6C89.5 469.6 89.4 469.7 89.3 469.7C89.2 469.7 89.1 469.7 89 469.8C88.9 469.8 88.8 469.8 88.7 469.8C88.6 469.9 88.5 469.9 88.4 469.9C88.3 469.9 88.2 470 88.1 470C88 470 87.8 470.1 87.8 470Z" fill="#00ffff"/><path d="M47.2 500C47.1 500.4 47.1 500.1 47.1 500.1C47.1 500.2 47.1 500.2 47.1 500.3C47.1 500.3 47.1 500.4 47.1 500.4C47.1 500.4 47.1 500.5 47.1 500.5C47.1 500.6 47.2 500.6 47.2 500.7C47.2 500.7 47.2 500.7 47.2 500.8C47.2 500.8 47.2 500.9 47.2 500.9C47.3 500.9 47.1 500.6 47.3 501C47.5 501.5 48.5 503.2 48.7 503.6C49 504.1 48.8 503.7 48.8 503.7C48.8 503.8 48.9 503.8 48.9 503.8C48.9 503.9 48.9 503.9 49 503.9C49 504 49 504 49.1 504C49.1 504.1 49.1 504.1 49.2 504.1C49.2 504.1 49.3 504.2 49.3 504.2C49.3 504.2 49.4 504.2 49.4 504.2C49.5 504.3 49.5 504.3 49.5 504.3C49.6 504.3 49.2 504.2 49.7 504.3C50.2 504.4 52.1 504.8 52.6 505C53.1 505.1 52.7 505 52.7 505C52.8 505 52.8 505 52.9 505C52.9 505 53 505 53 505C53.1 505 52.5 505.1 53.2 505C53.9 504.8 56.5 504.3 57.2 504.2C57.8 504.1 57.2 504.2 57.3 504.2C57.3 504.1 56.9 504.3 57.4 504.1C57.9 503.9 59.8 503.2 60.3 502.9C60.8 502.7 60.4 502.9 60.5 502.9C60.5 502.9 60.2 503.1 60.6 502.8C61 502.5 62.6 501.4 63 501.1C63.5 500.8 62.6 501.5 63.1 501.1C63.6 500.7 65.6 499.1 66.1 498.7C66.6 498.3 65.7 499.1 66.2 498.7C66.7 498.2 68.6 496.5 69.2 496.1C69.7 495.6 68.6 496.5 69.2 496C69.7 495.5 71.9 493.6 72.5 493.1C73 492.5 72 493.6 72.6 492.9C73.1 492.3 74.5 490.7 75.7 489.3C77 487.9 79.3 485.3 80 484.5C80.8 483.7 79.2 485.5 80.1 484.4C81 483.4 84.5 479.2 85.4 478.2C86.2 477.1 84.9 478.8 85.4 478.1C85.9 477.4 87.8 474.8 88.3 474.1C88.8 473.4 87.8 474.8 88.3 474.1C88.8 473.3 90.9 470.4 91.4 469.6C91.9 468.8 91.4 469.5 91.5 469.5C91.5 469.5 91.4 469.7 91.5 469.4C91.6 469.1 92.1 468.2 92.2 467.9C92.3 467.7 92.3 467.9 92.3 467.8C92.3 467.8 92.3 467.7 92.3 467.7C92.3 467.6 92.3 467.6 92.3 467.5C92.3 467.5 92.4 467.5 92.4 467.4C92.4 467.4 92.4 467.3 92.4 467.3C92.4 467.2 92.3 467.2 92.3 467.1C92.3 467.1 92.3 467 92.3 467C92.3 467 92.3 466.9 92.3 466.9C92.3 466.8 92.2 466.8 92.2 466.7C92.2 466.7 92.2 466.7 92.2 466.6C92.1 466.6 92.1 466.5 92.1 466.5C92.1 466.5 92 466.4 92 466.4C92 466.4 91.9 466.3 91.9 466.3C91.9 466.3 91.8 466.2 91.8 466.2C91.8 466.2 91.7 466.2 91.7 466.1C91.6 466.1 91.6 466.1 91.6 466.1C91.5 466.1 91.5 466 91.4 466C91.4 466 91.3 466 91.3 466C91.3 466 91.2 466 91.2 466C91.1 465.9 91.1 465.9 91 465.9C91 465.9 90.9 465.9 90.9 465.9C90.9 465.9 90.8 465.9 90.8 465.9C90.7 466 90.7 466 90.6 466C90.6 466 90.5 466 90.5 466C90.4 466 90.9 465.8 90.4 466.1C89.8 466.3 87.7 467.3 87.1 467.6C86.5 467.9 87.4 467.4 86.9 467.7C86.4 468 85.4 468.7 84.1 469.6C82.7 470.4 80.6 471.7 78.8 472.7C77 473.8 74.8 475 73.5 475.7C72.3 476.4 71.7 476.7 71.3 476.9C71 477.1 71.7 476.7 71.2 477C70.8 477.3 69 478.5 68.6 478.8C68.1 479.1 68.9 478.5 68.5 478.8C68 479.2 66.3 480.5 65.9 480.8C65.5 481.1 66.3 480.5 65.8 480.8C65.4 481.2 64.2 482.3 63.3 483C62.4 483.7 61.1 484.7 60.6 485C60.2 485.3 61 484.7 60.5 485C60.1 485.4 58.8 486.5 58 487.2C57.1 488 55.8 489 55.3 489.4C54.8 489.8 55.2 489.5 55.2 489.5C55.2 489.5 55.6 489.1 55.1 489.6C54.7 490 53.4 491.5 52.6 492.4C51.7 493.3 50.6 494.4 49.9 495.1C49.2 495.8 48.5 496.5 48.2 496.8C47.9 497.1 48.1 496.9 48.1 496.9C48.1 496.9 48 497 48 497C48 497 48 497.1 47.9 497.1C47.9 497.2 47.9 497.2 47.9 497.2C47.9 497.3 47.9 497.3 47.8 497.3C47.8 497.4 47.9 497 47.8 497.5C47.7 497.9 47.3 499.6 47.2 500Z" fill="#80ff80"/><path d="M47.6 500.1C47.4 500.5 47.5 500.2 47.5 500.2C47.5 500.2 47.5 500.3 47.5 500.3C47.5 500.3 47.5 500.3 47.5 500.4C47.5 500.4 47.5 500.4 47.5 500.5C47.5 500.5 47.5 500.5 47.6 500.6C47.6 500.6 47.6 500.6 47.6 500.7C47.6 500.7 47.6 500.7 47.6 500.7C47.6 500.8 47.4 500.4 47.7 500.8C47.9 501.3 48.8 503 49.1 503.4C49.3 503.9 49.1 503.5 49.1 503.5C49.2 503.5 49.2 503.6 49.2 503.6C49.2 503.6 49.2 503.6 49.3 503.7C49.3 503.7 49.3 503.7 49.3 503.7C49.4 503.7 49.4 503.8 49.4 503.8C49.4 503.8 49.5 503.8 49.5 503.8C49.5 503.8 49.5 503.9 49.6 503.9C49.6 503.9 49.6 503.9 49.7 503.9C49.7 503.9 49.2 503.8 49.7 503.9C50.3 504 52.2 504.5 52.7 504.6C53.2 504.7 52.8 504.6 52.8 504.6C52.8 504.6 52.9 504.6 52.9 504.6C52.9 504.6 53 504.6 53 504.6C53 504.6 52.4 504.7 53.1 504.6C53.8 504.4 56.4 503.9 57.1 503.8C57.8 503.7 57.1 503.8 57.2 503.8C57.2 503.8 56.8 503.9 57.3 503.7C57.8 503.5 59.7 502.8 60.2 502.6C60.7 502.4 60.2 502.5 60.3 502.5C60.3 502.5 59.9 502.8 60.4 502.5C60.8 502.2 62.4 501.1 62.8 500.8C63.2 500.5 62.4 501.2 62.9 500.8C63.4 500.4 65.4 498.8 65.9 498.4C66.4 498 65.4 498.8 65.9 498.3C66.4 497.9 68.4 496.2 68.9 495.8C69.4 495.3 68.4 496.2 68.9 495.7C69.5 495.2 71.6 493.3 72.2 492.8C72.7 492.2 71.7 493.3 72.3 492.7C72.8 492 74.2 490.4 75.4 489C76.7 487.6 79 485 79.7 484.2C80.5 483.4 78.9 485.2 79.8 484.2C80.6 483.1 84.2 479 85 477.9C85.9 476.8 84.6 478.5 85.1 477.8C85.6 477.2 87.5 474.5 88 473.9C88.5 473.2 87.5 474.6 88 473.8C88.5 473.1 90.6 470.1 91.1 469.4C91.6 468.6 91.1 469.3 91.1 469.3C91.1 469.3 91 469.5 91.2 469.2C91.3 469 91.7 468 91.9 467.8C92 467.5 91.9 467.7 91.9 467.7C91.9 467.6 91.9 467.6 91.9 467.6C91.9 467.6 91.9 467.5 91.9 467.5C91.9 467.5 92 467.4 92 467.4C92 467.4 92 467.3 92 467.3C92 467.3 92 467.2 91.9 467.2C91.9 467.2 91.9 467.1 91.9 467.1C91.9 467.1 91.9 467 91.9 467C91.9 467 91.9 466.9 91.9 466.9C91.8 466.9 91.8 466.9 91.8 466.8C91.8 466.8 91.8 466.8 91.8 466.7C91.7 466.7 91.7 466.7 91.7 466.7C91.7 466.6 91.7 466.6 91.6 466.6C91.6 466.6 91.6 466.6 91.6 466.5C91.5 466.5 91.5 466.5 91.5 466.5C91.4 466.5 91.4 466.4 91.4 466.4C91.4 466.4 91.3 466.4 91.3 466.4C91.3 466.4 91.2 466.4 91.2 466.4C91.2 466.4 91.1 466.4 91.1 466.3C91.1 466.3 91 466.3 91 466.3C91 466.3 90.9 466.3 90.9 466.3C90.9 466.3 90.8 466.3 90.8 466.3C90.8 466.3 90.8 466.4 90.7 466.4C90.7 466.4 90.7 466.4 90.6 466.4C90.6 466.4 91.1 466.2 90.5 466.4C90 466.7 87.8 467.7 87.3 467.9C86.7 468.2 87.6 467.7 87.1 468C86.6 468.3 85.6 469 84.3 469.9C82.9 470.7 80.8 472.1 79 473.1C77.2 474.1 75 475.4 73.7 476.1C72.5 476.8 71.9 477.1 71.5 477.3C71.2 477.5 71.9 477 71.5 477.3C71 477.6 69.2 478.8 68.8 479.1C68.3 479.4 69.2 478.8 68.7 479.1C68.3 479.5 66.6 480.8 66.1 481.1C65.7 481.5 66.5 480.8 66.1 481.1C65.7 481.5 64.4 482.6 63.5 483.3C62.7 484 61.3 485 60.9 485.3C60.4 485.6 61.2 485 60.8 485.4C60.4 485.7 59.1 486.8 58.2 487.5C57.3 488.3 56 489.3 55.5 489.7C55.1 490.1 55.5 489.7 55.5 489.8C55.5 489.8 55.9 489.3 55.4 489.8C55 490.3 53.7 491.8 52.9 492.7C52 493.6 50.9 494.6 50.2 495.4C49.4 496.1 48.8 496.8 48.5 497.1C48.2 497.4 48.4 497.1 48.4 497.2C48.4 497.2 48.4 497.2 48.3 497.2C48.3 497.3 48.3 497.3 48.3 497.3C48.3 497.3 48.3 497.4 48.3 497.4C48.2 497.4 48.2 497.4 48.2 497.5C48.2 497.5 48.3 497.1 48.2 497.6C48.1 498 47.7 499.7 47.6 500.1Z" fill="#ffff00"/><path d="M88.6 469.4C88.6 469.4 88.6 469.3 88.7 469.2C88.7 469.2 88.7 469.1 88.7 469C88.8 469 88.8 468.9 88.8 468.8C88.9 468.8 88.9 468.7 88.9 468.7C88.9 468.6 89 468.5 89 468.5C89 468.4 89.1 468.3 89.1 468.3C89.1 468.2 89.2 468.2 89.2 468.1C89.2 468 89.3 468 89.3 467.9C89.3 467.9 89.4 467.8 89.4 467.8C89.4 467.7 89.5 467.6 89.5 467.6C89.6 467.5 89.6 467.5 89.6 467.4C89.7 467.4 89.7 467.3 89.7 467.3C89.8 467.2 89.8 467.2 89.9 467.1C89.9 467.1 89.9 467 90 467C90 466.9 90.1 466.9 90.1 466.8C90.2 466.8 90.2 466.7 90.2 466.7C90.3 466.6 90.3 466.6 90.4 466.5C90.4 466.5 90.5 466.5 90.5 466.4C90.6 466.4 90.6 466.3 90.6 466.3C90.7 466.2 90.7 466.2 90.8 466.2C90.8 466.1 90.9 466.1 90.9 466C91 466 91 466 91.1 465.9C91.1 465.9 91.2 465.8 91.2 465.8C91.3 465.8 91.4 465.7 91.4 465.7C91.5 465.7 91.5 465.6 91.6 465.6C91.6 465.6 91.7 465.5 91.7 465.5C91.8 465.5 91.8 465.4 91.9 465.4C92 465.4 92 465.3 92.1 465.3C92.1 465.3 92.2 465.3 92.2 465.2C92.3 465.2 92.4 465.2 92.4 465.1C92.5 465.1 92.5 465.1 92.6 465.1C92.7 465 92.7 465 92.8 465C92.9 465 92.9 464.9 93 464.9C93 464.9 93.1 464.9 93.2 464.9C93.2 464.8 93.3 464.8 93.4 464.8C93.4 464.8 93.5 464.8 93.6 464.7C93.6 464.7 93.7 464.7 93.8 464.7C93.8 464.7 93.9 464.7 94 464.6C94.1 464.6 94.1 464.6 94.2 464.6C94.3 464.6 94.4 464.5 94.4 464.6C94.4 464.6 94.4 464.7 94.3 464.8C94.3 464.8 94.3 464.9 94.3 465C94.2 465 94.2 465.1 94.2 465.2C94.1 465.2 94.1 465.3 94.1 465.3C94.1 465.4 94 465.5 94 465.5C94 465.6 93.9 465.7 93.9 465.7C93.9 465.8 93.8 465.8 93.8 465.9C93.8 466 93.7 466 93.7 466.1C93.7 466.1 93.6 466.2 93.6 466.2C93.6 466.3 93.5 466.4 93.5 466.4C93.4 466.5 93.4 466.5 93.4 466.6C93.3 466.6 93.3 466.7 93.3 466.7C93.2 466.8 93.2 466.8 93.1 466.9C93.1 466.9 93.1 467 93 467C93 467.1 92.9 467.1 92.9 467.2C92.8 467.2 92.8 467.3 92.8 467.3C92.7 467.4 92.7 467.4 92.6 467.5C92.6 467.5 92.5 467.5 92.5 467.6C92.4 467.6 92.4 467.7 92.4 467.7C92.3 467.8 92.3 467.8 92.2 467.8C92.2 467.9 92.1 467.9 92.1 468C92 468 92 468 91.9 468.1C91.9 468.1 91.8 468.2 91.8 468.2C91.7 468.2 91.6 468.3 91.6 468.3C91.5 468.3 91.5 468.4 91.4 468.4C91.4 468.4 91.3 468.5 91.3 468.5C91.2 468.5 91.2 468.6 91.1 468.6C91 468.6 91 468.7 90.9 468.7C90.9 468.7 90.8 468.7 90.8 468.8C90.7 468.8 90.6 468.8 90.6 468.9C90.5 468.9 90.5 468.9 90.4 468.9C90.3 469 90.3 469 90.2 469C90.1 469 90.1 469.1 90 469.1C90 469.1 89.9 469.1 89.8 469.1C89.8 469.2 89.7 469.2 89.6 469.2C89.6 469.2 89.5 469.2 89.4 469.3C89.4 469.3 89.3 469.3 89.2 469.3C89.2 469.3 89.1 469.3 89 469.4C88.9 469.4 88.9 469.4 88.8 469.4C88.7 469.4 88.6 469.5 88.6 469.4Z" fill="#ffff00"/><path d="M48 500.2C47.9 500.7 48 500.3 48 500.3C48 500.3 48 500.3 48 500.3C48 500.3 48 500.3 48 500.4C48 500.4 48 500.4 48 500.4C48 500.4 48 500.4 48 500.5C48 500.5 48 500.5 48.1 500.5C48.1 500.5 48.1 500.5 48.1 500.5C48.1 500.6 47.8 500.1 48.1 500.6C48.3 501 49.3 502.7 49.5 503.2C49.8 503.6 49.5 503.2 49.5 503.2C49.6 503.2 49.6 503.3 49.6 503.3C49.6 503.3 49.6 503.3 49.6 503.3C49.6 503.3 49.6 503.3 49.6 503.3C49.7 503.3 49.7 503.4 49.7 503.4C49.7 503.4 49.7 503.4 49.7 503.4C49.7 503.4 49.8 503.4 49.8 503.4C49.8 503.4 49.8 503.4 49.8 503.4C49.8 503.4 49.4 503.3 49.9 503.4C50.4 503.5 52.3 504 52.8 504.1C53.3 504.2 52.8 504.1 52.8 504.1C52.9 504.1 52.9 504.1 52.9 504.1C52.9 504.1 52.9 504.1 52.9 504.1C53 504.1 52.3 504.2 53 504.1C53.7 504 56.3 503.4 57 503.3C57.7 503.2 57 503.3 57 503.3C57 503.3 56.6 503.5 57.1 503.3C57.6 503.1 59.5 502.3 60 502.1C60.5 501.9 60 502.1 60 502.1C60.1 502.1 59.7 502.3 60.1 502.1C60.5 501.8 62.1 500.7 62.5 500.4C63 500.1 62.1 500.8 62.6 500.4C63.1 500 65.1 498.4 65.6 498C66.1 497.6 65.1 498.4 65.6 498C66.1 497.5 68.1 495.8 68.6 495.4C69.1 494.9 68 495.9 68.6 495.4C69.1 494.9 71.3 492.9 71.8 492.4C72.4 491.9 71.4 493 71.9 492.3C72.4 491.7 74.5 489.3 75.1 488.7C75.6 488.1 74.4 489.5 75.1 488.7C75.8 487.9 78.7 484.7 79.4 483.9C80.1 483.1 78.5 484.9 79.4 483.9C80.3 482.8 83.8 478.6 84.7 477.6C85.6 476.5 84.2 478.2 84.7 477.5C85.2 476.9 87.1 474.2 87.6 473.6C88.1 472.9 87.1 474.3 87.6 473.6C88.1 472.8 90.1 469.8 90.7 469.1C91.2 468.3 90.7 469.1 90.7 469C90.7 469 90.6 469.3 90.7 469C90.8 468.8 91.3 467.8 91.4 467.5C91.5 467.3 91.4 467.5 91.4 467.5C91.4 467.5 91.4 467.5 91.4 467.5C91.4 467.4 91.4 467.4 91.5 467.4C91.5 467.4 91.5 467.4 91.5 467.4C91.5 467.3 91.5 467.3 91.5 467.3C91.5 467.3 91.5 467.3 91.5 467.3C91.4 467.2 91.4 467.2 91.4 467.2C91.4 467.2 91.4 467.2 91.4 467.2C91.4 467.2 91.4 467.1 91.4 467.1C91.4 467.1 91.4 467.1 91.4 467.1C91.4 467.1 91.4 467.1 91.4 467C91.3 467 91.3 467 91.3 467C91.3 467 91.3 467 91.3 467C91.3 467 91.3 466.9 91.3 466.9C91.2 466.9 91.2 466.9 91.2 466.9C91.2 466.9 91.2 466.9 91.2 466.9C91.2 466.9 91.1 466.9 91.1 466.9C91.1 466.9 91.1 466.9 91.1 466.8C91.1 466.8 91 466.8 91 466.8C91 466.8 91 466.8 91 466.8C91 466.8 91 466.8 90.9 466.8C90.9 466.8 90.9 466.8 90.9 466.8C90.9 466.8 90.9 466.8 90.8 466.8C90.8 466.9 90.8 466.9 90.8 466.9C90.8 466.9 91.3 466.6 90.7 466.9C90.2 467.1 88 468.1 87.5 468.4C86.9 468.7 87.9 468.1 87.4 468.4C86.9 468.8 85 470 84.5 470.3C84.1 470.6 85.4 469.8 84.5 470.3C83.7 470.8 80.1 473 79.3 473.5C78.4 474 80.1 473 79.2 473.5C78.4 474 74.8 476 74 476.5C73.1 477 74.3 476.3 74 476.5C73.6 476.7 72.1 477.5 71.8 477.7C71.4 477.9 72.2 477.4 71.7 477.7C71.3 478 69.5 479.2 69.1 479.5C68.6 479.8 69.5 479.2 69 479.5C68.6 479.9 66.9 481.2 66.4 481.5C66 481.8 66.9 481.2 66.4 481.5C66 481.9 64.3 483.4 63.8 483.7C63.4 484.1 64.3 483.4 63.8 483.7C63.4 484.1 61.6 485.4 61.2 485.7C60.7 486 61.6 485.4 61.1 485.7C60.7 486.1 59 487.6 58.5 487.9C58.1 488.3 59 487.6 58.5 487.9C58.1 488.3 56.3 489.7 55.9 490.1C55.4 490.5 55.8 490.1 55.8 490.1C55.8 490.1 56.2 489.7 55.8 490.2C55.4 490.6 53.7 492.5 53.2 493C52.8 493.5 53.7 492.6 53.2 493C52.8 493.5 51.3 495 50.5 495.7C49.8 496.5 49.1 497.2 48.8 497.5C48.5 497.7 48.8 497.5 48.8 497.5C48.8 497.5 48.8 497.5 48.8 497.5C48.7 497.5 48.7 497.5 48.7 497.6C48.7 497.6 48.7 497.6 48.7 497.6C48.7 497.6 48.7 497.6 48.7 497.6C48.7 497.7 48.8 497.3 48.7 497.7C48.6 498.1 48.1 499.8 48 500.2Z" fill="#ff0000"/><path d="M48.5 500.3C48.7 501.2 49.2 502.4 50 502.9C50.7 503.5 51.8 503.6 52.9 503.6C54.1 503.6 55.7 503.1 56.9 502.8C58 502.5 58.9 502.1 59.8 501.6C60.7 501.2 61.4 500.7 62.3 500C63.2 499.3 64.2 498.4 65.2 497.6C66.2 496.8 67.2 495.9 68.2 495C69.3 494.1 70.4 493.1 71.5 492C72.6 490.9 74.2 489 74.7 488.3C75.2 487.7 74 489.1 74.7 488.3C75.4 487.5 77.4 485.4 79 483.5C80.6 481.7 82.9 479 84.3 477.3C85.6 475.5 86.2 474.7 87.2 473.3C88.2 471.9 89.6 469.8 90.3 468.8C90.9 467.8 91.4 467.3 91 467.3C90.5 467.3 88.7 468.3 87.7 468.9C86.7 469.4 85.3 470.4 84.8 470.7C84.3 471 85.7 470.2 84.8 470.7C83.9 471.3 80.4 473.4 79.5 473.9C78.6 474.5 80.4 473.4 79.5 473.9C78.6 474.4 75.1 476.4 74.2 476.9C73.3 477.4 74.6 476.8 74.2 477C73.8 477.2 72.8 477.6 72 478.1C71.2 478.6 70.2 479.3 69.3 479.9C68.5 480.6 67.6 481.2 66.8 481.9C65.9 482.6 64.6 483.7 64.2 484.1C63.7 484.5 64.6 483.8 64.1 484.1C63.7 484.5 62.3 485.4 61.4 486.1C60.6 486.8 59.3 487.9 58.9 488.3C58.4 488.7 59.3 487.9 58.9 488.3C58.4 488.7 57.1 489.6 56.2 490.5C55.3 491.3 54 492.9 53.6 493.4C53.2 493.8 54 492.9 53.6 493.4C53.1 493.8 51.6 495.3 50.9 496.1C50.1 496.8 49.6 497.1 49.2 497.8C48.8 498.5 48.4 499.5 48.5 500.3Z" fill="#9a0000"/></g></g>
<path d="M37.1 375.6V516H191.4" stroke="#707070" stroke-width="1" fill="none"/>
<path d="M37.1 501.91h1.4M52.58 516v-1.4M37.1 493.67h1.4M61.64 516v-1.4M37.1 487.82h1.4M68.07 516v-1.4M37.1 483.29h1.4M73.05 516v-1.4M37.1 479.58h1.4M77.12 516v-1.4M37.1 476.45h1.4M80.57 516v-1.4M37.1 473.74h1.4M83.55 516v-1.4M37.1 471.34h1.4M86.18 516v-1.4M37.1 455.11h1.4M104.02 516v-1.4M37.1 446.87h1.4M113.07 516v-1.4M37.1 441.02h1.4M119.5 516v-1.4M37.1 436.49h1.4M124.48 516v-1.4M37.1 432.78h1.4M128.56 516v-1.4M37.1 429.65h1.4M132 516v-1.4M37.1 426.94h1.4M134.98 516v-1.4M37.1 424.54h1.4M137.61 516v-1.4M37.1 408.31h1.4M155.45 516v-1.4M37.1 400.07h1.4M164.51 516v-1.4M37.1 394.22h1.4M170.93 516v-1.4M37.1 389.69h1.4M175.92 516v-1.4M37.1 385.98h1.4M179.99 516v-1.4M37.1 382.85h1.4M183.43 516v-1.4M37.1 380.14h1.4M186.42 516v-1.4M37.1 377.74h1.4M189.05 516v-1.4M37.1 516h2M37.1 516v-2M37.1 469.2h2M88.53 516v-2M37.1 422.4h2M139.97 516v-2M37.1 375.6h2M191.4 516v-2" stroke="#555" stroke-width="0.7" fill="none"/>
<text class="t" x="28.4" y="382.1" text-anchor="end">10</text><text class="s" x="28.7" y="377.3">0</text>
<text class="t" x="28.4" y="428.9" text-anchor="end">10</text><text class="s" x="28.7" y="424.1">-1</text>
<text class="t" x="28.4" y="475.7" text-anchor="end">10</text><text class="s" x="28.7" y="470.9">-2</text>
<text class="t" x="28.4" y="522.5" text-anchor="end">10</text><text class="s" x="28.7" y="517.7">-3</text>
<text class="t" x="38.5" y="530.6" text-anchor="end">10</text><text class="s" x="38.9" y="526.6">-3</text>
<text class="t" x="89.93" y="530.6" text-anchor="end">10</text><text class="s" x="90.33" y="526.6">-2</text>
<text class="t" x="141.37" y="530.6" text-anchor="end">10</text><text class="s" x="141.77" y="526.6">-1</text>
<text class="t" x="192.8" y="530.6" text-anchor="end">10</text><text class="s" x="193.2" y="526.6">0</text>
<text class="ttl" x="116.85" y="393.5" text-anchor="middle">565nm</text>
<text class="lab" x="24.9" y="541.4">Rrs in precision evaluation dataset(sr<tspan font-size="7" dy="-4.2">−1</tspan><tspan dy="4.2">)</tspan></text>
<text class="lab" style="font-size:12.3px" transform="translate(14.8 454.4) rotate(-90)" text-anchor="middle">Retrieved RF(sr<tspan font-size="7" dy="-4.2">−1</tspan><tspan dy="4.2">)</tspan></text>
<rect x="201.9" y="375.6" width="8.8" height="140.4" fill="url(#jet)"/>
<text class="cb" x="211.7" y="380.4">200</text>
<text class="cb" x="211.7" y="415.5">150</text>
<text class="cb" x="211.7" y="450.6">100</text>
<text class="cb" x="211.7" y="485.7">50</text>
<text class="cb" x="211.7" y="520.8">0</text>
<path d="M288.68 375.6V516M273.2 501.91H427.5M297.74 375.6V516M273.2 493.67H427.5M304.17 375.6V516M273.2 487.82H427.5M309.15 375.6V516M273.2 483.29H427.5M313.22 375.6V516M273.2 479.58H427.5M316.67 375.6V516M273.2 476.45H427.5M319.65 375.6V516M273.2 473.74H427.5M322.28 375.6V516M273.2 471.34H427.5M340.12 375.6V516M273.2 455.11H427.5M349.17 375.6V516M273.2 446.87H427.5M355.6 375.6V516M273.2 441.02H427.5M360.58 375.6V516M273.2 436.49H427.5M364.66 375.6V516M273.2 432.78H427.5M368.1 375.6V516M273.2 429.65H427.5M371.08 375.6V516M273.2 426.94H427.5M373.71 375.6V516M273.2 424.54H427.5M391.55 375.6V516M273.2 408.31H427.5M400.61 375.6V516M273.2 400.07H427.5M407.03 375.6V516M273.2 394.22H427.5M412.02 375.6V516M273.2 389.69H427.5M416.09 375.6V516M273.2 385.98H427.5M419.53 375.6V516M273.2 382.85H427.5M422.52 375.6V516M273.2 380.14H427.5M425.15 375.6V516M273.2 377.74H427.5" stroke="#ececec" stroke-width="0.8" fill="none"/>
<path d="M324.63 375.6V516M273.2 469.2H427.5M376.07 375.6V516M273.2 422.4H427.5M427.5 375.6V516M273.2 375.6H427.5" stroke="#e4e4e4" stroke-width="0.8" fill="none"/>
<path d="M273.2 516L427.5 375.6" stroke="#8a8a8a" stroke-width="0.9" fill="none"/>
<g clip-path="url(#c21)"><path d="M270 520C264.2 512.7 269.5 483.4 270 476.1C270.5 468.8 271.6 475.9 273 476.1C274.4 476.3 276.5 477.2 278.3 477.2C280.1 477.2 281.8 476.4 283.6 476.1C285.4 475.8 287.1 475.9 288.9 475.6C290.6 475.4 292.4 475 294.1 474.6C295.9 474.2 297.6 473.6 299.4 473C301.2 472.4 302.9 471.6 304.7 470.9C306.5 470.2 308.2 469.5 310 468.7C311.8 467.9 313.6 467.2 315.3 466.3C317.1 465.4 318.8 464 320.5 463C322.2 462 323.9 461.3 325.6 460.4C327.3 459.5 329.1 458.4 330.9 457.7C332.6 457 334.4 456.8 336.1 456.1C337.9 455.4 339.8 454.4 341.4 453.5C343 452.6 344.5 451.5 345.7 450.9C346.9 450.3 348.2 449.7 348.8 449.8C349.4 449.9 349.5 451 349.5 451.5C349.5 452 349.3 452.1 348.8 453C348.3 453.9 347.6 455.6 346.7 457.2C345.8 458.8 344.6 460.9 343.5 462.5C342.4 464.1 341.6 465.3 340.4 466.7C339.2 468.1 337.3 469.5 336.1 470.9C334.9 472.3 334.1 473.8 333 475.2C331.9 476.6 330.9 477.9 329.8 479.4C328.7 480.9 327.7 482.9 326.6 484C325.5 485.1 324.2 485.2 323 486.3C321.8 487.4 320.8 489 319.5 490.6C318.2 492.2 316.5 494.1 315.3 495.9C314.1 497.6 313.3 499.4 312.1 501.1C310.9 502.9 308.9 504.8 307.9 506.4C306.8 508 306.3 509.1 305.8 510.7C305.3 512.3 304.9 514.5 304.7 516C304.5 517.5 310.3 519.3 304.5 520C298.7 520.7 275.8 527.3 270 520Z" fill="#00008c"/><path d="M348 450h1v1h-1zM345 451h1v1h-1zM347 451h1v1h-1zM344 452h1v1h-1zM342 453h2v1h-2zM347 453h1v1h-1zM340 454h3v1h-3zM347 454h1v1h-1zM337 455h4v1h-4zM345 455h1v1h-1zM336 456h1v1h-1zM339 456h1v1h-1zM334 457h1v1h-1zM336 457h1v1h-1zM338 457h1v1h-1zM345 457h1v1h-1zM329 458h1v1h-1zM334 458h1v1h-1zM345 458h1v1h-1zM327 459h2v1h-2zM341 459h1v1h-1zM344 459h1v1h-1zM326 460h2v1h-2zM323 461h1v1h-1zM342 461h1v1h-1zM322 462h1v1h-1zM327 462h1v1h-1zM342 462h1v1h-1zM319 464h1v1h-1zM339 464h3v1h-3zM317 465h1v1h-1zM322 465h1v1h-1zM313 467h2v1h-2zM339 467h1v1h-1zM316 468h1v1h-1zM338 468h1v1h-1zM308 469h1v1h-1zM312 469h1v1h-1zM308 470h1v1h-1zM311 470h1v1h-1zM335 470h1v1h-1zM335 471h1v1h-1zM301 472h1v1h-1zM303 472h1v1h-1zM333 472h1v1h-1zM298 473h1v1h-1zM303 473h1v1h-1zM294 474h1v1h-1zM296 474h1v1h-1zM299 474h2v1h-2zM331 474h1v1h-1zM333 474h1v1h-1zM290 475h2v1h-2zM298 475h1v1h-1zM330 475h3v1h-3zM274 476h1v1h-1zM282 476h1v1h-1zM286 476h1v1h-1zM275 477h1v1h-1zM278 477h1v1h-1zM280 477h2v1h-2zM330 477h1v1h-1zM274 478h1v1h-1zM286 478h1v1h-1zM327 479h2v1h-2zM328 480h1v1h-1zM326 481h1v1h-1zM326 483h1v1h-1zM325 484h1v1h-1zM320 485h1v1h-1zM320 486h2v1h-2zM319 487h3v1h-3zM318 490h2v1h-2zM318 491h1v1h-1zM314 492h1v1h-1zM315 493h1v1h-1zM313 494h1v1h-1zM315 494h1v1h-1zM311 495h1v1h-1zM313 495h2v1h-2zM314 496h1v1h-1zM311 497h2v1h-2zM313 498h1v1h-1zM311 499h2v1h-2zM308 501h1v1h-1zM310 501h2v1h-2zM310 502h1v1h-1zM308 504h1v1h-1zM308 505h1v1h-1zM306 507h1v1h-1zM304 512h1v1h-1zM304 513h1v1h-1zM303 515h2v1h-2z" fill="#ffffff"/><path d="M347 447h1v1h-1zM349 447h1v1h-1zM348 448h3v1h-3zM338 450h2v1h-2zM342 450h1v1h-1zM344 450h1v1h-1zM349 450h1v1h-1zM343 451h1v1h-1zM349 451h1v1h-1zM340 452h1v1h-1zM342 452h1v1h-1zM349 452h2v1h-2zM349 453h1v1h-1zM335 454h1v1h-1zM348 454h1v1h-1zM334 455h1v1h-1zM336 455h1v1h-1zM349 455h1v1h-1zM328 456h1v1h-1zM332 456h3v1h-3zM348 456h1v1h-1zM350 456h1v1h-1zM352 456h1v1h-1zM326 457h1v1h-1zM329 457h3v1h-3zM347 457h1v1h-1zM326 458h1v1h-1zM347 458h1v1h-1zM351 458h1v1h-1zM318 459h2v1h-2zM323 459h2v1h-2zM346 459h1v1h-1zM348 459h1v1h-1zM316 460h1v1h-1zM318 460h1v1h-1zM324 460h1v1h-1zM318 461h1v1h-1zM320 461h1v1h-1zM345 461h1v1h-1zM317 462h2v1h-2zM344 462h1v1h-1zM319 463h1v1h-1zM343 463h2v1h-2zM346 463h1v1h-1zM316 464h1v1h-1zM342 464h2v1h-2zM341 465h1v1h-1zM310 466h2v1h-2zM314 466h1v1h-1zM302 467h1v1h-1zM312 467h1v1h-1zM309 468h1v1h-1zM342 468h1v1h-1zM306 469h1v1h-1zM339 469h1v1h-1zM296 470h1v1h-1zM299 470h1v1h-1zM286 471h1v1h-1zM298 471h1v1h-1zM288 472h1v1h-1zM296 472h2v1h-2zM335 472h1v1h-1zM276 473h1v1h-1zM282 473h2v1h-2zM287 473h1v1h-1zM292 473h1v1h-1zM334 473h1v1h-1zM275 474h1v1h-1zM287 474h5v1h-5zM334 474h1v1h-1zM273 475h3v1h-3zM280 475h2v1h-2zM283 475h1v1h-1zM285 475h1v1h-1zM287 475h1v1h-1zM275 476h1v1h-1zM278 476h1v1h-1zM281 476h1v1h-1zM333 476h1v1h-1zM331 477h1v1h-1zM330 478h1v1h-1zM330 479h1v1h-1zM328 481h2v1h-2zM329 482h2v1h-2zM326 484h2v1h-2zM324 485h2v1h-2zM327 485h1v1h-1zM330 485h1v1h-1zM326 486h1v1h-1zM322 487h1v1h-1zM321 488h1v1h-1zM320 489h2v1h-2zM324 489h1v1h-1zM320 490h2v1h-2zM323 490h1v1h-1zM318 493h2v1h-2zM317 494h1v1h-1zM318 495h2v1h-2zM314 497h1v1h-1zM316 498h1v1h-1zM312 500h1v1h-1zM313 501h1v1h-1zM313 503h1v1h-1zM311 505h1v1h-1zM308 506h2v1h-2zM308 507h1v1h-1zM306 509h1v1h-1zM307 510h1v1h-1zM306 511h2v1h-2zM309 511h1v1h-1zM305 512h2v1h-2zM308 512h2v1h-2zM305 513h1v1h-1zM307 513h1v1h-1zM305 515h1v1h-1z" fill="#00008c"/><path d="M311.1 464.6h1.3v1.3h-1.3zM340 450.4h1.5v1.5h-1.5zM334.1 477.7h1.3v1.3h-1.3zM345.4 448.3h1.4v1.4h-1.4zM340.1 470h0.9v0.9h-0.9zM321.2 459.7h0.9v0.9h-0.9zM340.1 451.4h1.3v1.3h-1.3zM314.1 463.6h0.9v0.9h-0.9zM345.3 447.9h1.2v1.2h-1.2zM317.3 462.5h1.1v1.1h-1.1zM338.9 472.2h1.3v1.3h-1.3zM334.6 477.1h1v1h-1zM319.1 461.2h1.1v1.1h-1.1zM311.5 464.9h0.8v0.8h-0.8zM349.5 447.7h1v1h-1zM346.1 462.6h1.1v1.1h-1.1zM277.6 474.1h1.2v1.2h-1.2zM333.3 478.7h1.2v1.2h-1.2zM291.4 472.4h0.9v0.9h-0.9zM333.1 453.4h1.1v1.1h-1.1zM330.3 483.1h1.1v1.1h-1.1zM287.1 473.5h1v1h-1zM337.9 472.6h1v1h-1zM285.9 473.6h0.8v0.8h-0.8zM335.5 454.1h0.8v0.8h-0.8zM331.2 482.7h1v1h-1zM291.9 472.5h1v1h-1zM288.2 473h1.2v1.2h-1.2zM276.4 473.4h1.1v1.1h-1.1zM340.9 470.1h1v1h-1zM311.6 505.5h0.8v0.8h-0.8zM285.3 473.6h1.3v1.3h-1.3zM331.5 454.9h1.5v1.5h-1.5zM329.5 483.9h1.1v1.1h-1.1zM326.1 457.6h1.3v1.3h-1.3zM322.5 491.3h1.1v1.1h-1.1zM336.9 453.3h1.1v1.1h-1.1zM312 464.5h1.3v1.3h-1.3zM339.7 451.6h0.9v0.9h-0.9zM317.5 496.6h1.1v1.1h-1.1zM329.7 455.8h1.3v1.3h-1.3zM341.3 468.9h1.2v1.2h-1.2zM345.8 463.2h1.2v1.2h-1.2zM340.3 469.9h1.1v1.1h-1.1zM348.1 447.5h1v1h-1zM317 497.3h1v1h-1zM332.9 478.9h1.1v1.1h-1.1zM300.4 469.4h0.8v0.8h-0.8zM347.3 446.7h1.5v1.5h-1.5zM336 474.6h1.5v1.5h-1.5zM338.2 472.4h1.4v1.4h-1.4zM341.4 469.4h1.3v1.3h-1.3zM345.8 447.6h1.4v1.4h-1.4zM325.5 457.4h1.1v1.1h-1.1zM335.4 477.1h1.3v1.3h-1.3zM317 461.8h1v1h-1zM316.5 462.2h1.4v1.4h-1.4zM295.8 470.4h1v1h-1zM332.9 478.8h1.3v1.3h-1.3zM330.7 482.4h0.9v0.9h-0.9zM292.4 472.3h1.4v1.4h-1.4zM337.4 473.5h0.8v0.8h-0.8zM342.4 450h0.9v0.9h-0.9zM298.1 471.2h0.8v0.8h-0.8zM277.2 473.4h1.1v1.1h-1.1zM343.9 449.4h1.1v1.1h-1.1zM322.8 489.9h1.4v1.4h-1.4zM318.3 496h1.3v1.3h-1.3zM295.6 470.6h0.9v0.9h-0.9zM315.7 499.6h1.2v1.2h-1.2zM304.6 468.6h1v1h-1zM289.7 473.2h1v1h-1zM334.5 477.8h1.1v1.1h-1.1zM325 457h1.4v1.4h-1.4zM274.8 473.2h0.8v0.8h-0.8zM290.4 472h1.5v1.5h-1.5zM301.3 469h0.8v0.8h-0.8zM286.9 472.9h1.4v1.4h-1.4zM325.9 456.6h0.9v0.9h-0.9zM331.5 454.2h1.1v1.1h-1.1zM319.3 494.5h0.9v0.9h-0.9zM310.5 465.4h1.3v1.3h-1.3zM295.1 471h1.3v1.3h-1.3zM288 473.2h0.8v0.8h-0.8zM311.6 465.2h0.8v0.8h-0.8zM335.6 476.6h1.4v1.4h-1.4zM288.1 472.2h1.1v1.1h-1.1zM307.9 511.3h1.1v1.1h-1.1zM334.4 477.1h1.2v1.2h-1.2zM286.9 472.6h1.1v1.1h-1.1zM338 472h1.2v1.2h-1.2zM336.1 452.7h1v1h-1zM345.4 463.5h0.9v0.9h-0.9zM331.8 480.4h1.2v1.2h-1.2zM281.5 473.3h1.3v1.3h-1.3zM345.3 448h1.5v1.5h-1.5zM291.7 472.3h1v1h-1zM334.5 477.5h0.9v0.9h-0.9zM316.9 461.6h0.8v0.8h-0.8zM330.2 482.8h1v1h-1zM310.5 506.9h1.1v1.1h-1.1zM301.1 469.6h1.5v1.5h-1.5zM333.3 454.7h0.9v0.9h-0.9zM324.6 457.6h1v1h-1zM286 473.2h1.1v1.1h-1.1zM331.7 481.2h1.4v1.4h-1.4zM342.6 450.2h1.3v1.3h-1.3zM329.7 483.8h1.3v1.3h-1.3zM317 462.6h0.8v0.8h-0.8zM314.9 463.8h1.1v1.1h-1.1zM274.3 473.8h0.8v0.8h-0.8zM338.5 452h1.4v1.4h-1.4zM293.4 471.1h1.1v1.1h-1.1zM281.2 473.9h1v1h-1zM273 472.9h1.2v1.2h-1.2zM319.8 460.4h1.5v1.5h-1.5zM278.9 474.9h0.9v0.9h-0.9zM337.7 473.6h1.4v1.4h-1.4zM306.1 467.7h1.4v1.4h-1.4zM336 474.8h1.2v1.2h-1.2zM322.5 458.8h0.8v0.8h-0.8zM309.8 466.4h1.4v1.4h-1.4zM305.1 467.6h1.5v1.5h-1.5zM326.2 456.5h0.9v0.9h-0.9zM334.3 453.7h1.5v1.5h-1.5zM274.7 473.9h0.9v0.9h-0.9zM321.1 459.9h1.2v1.2h-1.2zM331.6 480.6h0.9v0.9h-0.9zM326.8 487.4h1.3v1.3h-1.3zM324.8 458.2h1.1v1.1h-1.1zM321.6 491.7h0.9v0.9h-0.9zM316.6 462h1v1h-1zM312.4 464h0.9v0.9h-0.9zM302.1 468.9h1.2v1.2h-1.2zM323.6 489.1h1v1h-1zM316.4 498.4h0.8v0.8h-0.8zM298.1 469.8h0.8v0.8h-0.8zM311.5 464.2h1.2v1.2h-1.2zM330.8 454.3h1.2v1.2h-1.2zM316.7 461.3h1.4v1.4h-1.4zM323.8 457.4h1.2v1.2h-1.2zM316.4 498.5h0.9v0.9h-0.9zM299.9 469.4h1.3v1.3h-1.3zM319.4 459.9h1.3v1.3h-1.3zM285.5 473.1h0.9v0.9h-0.9zM320 459.9h0.9v0.9h-0.9zM351 447.5h0.9v0.9h-0.9zM311.1 465.1h1.4v1.4h-1.4zM319.4 459.7h1.2v1.2h-1.2zM321.3 459.7h1.3v1.3h-1.3zM314.9 500.9h1.1v1.1h-1.1zM349.4 446.6h0.9v0.9h-0.9zM349.2 446.3h0.9v0.9h-0.9zM320.4 459.4h1.3v1.3h-1.3zM313.5 464.2h1.2v1.2h-1.2zM315 501h1.3v1.3h-1.3z" fill="#00008c"/><path d="M280.9 471.7h1.2v1.2h-1.2zM280.9 472.1h1.2v1.2h-1.2zM275.6 472.1h1.5v1.5h-1.5zM310.7 462.9h1.5v1.5h-1.5zM299.1 469h1.3v1.3h-1.3zM299 464.4h1.2v1.2h-1.2zM334.3 452.6h0.9v0.9h-0.9zM287.3 471.4h1.2v1.2h-1.2zM297.8 467.1h1.5v1.5h-1.5zM282.6 469.6h1.1v1.1h-1.1zM291.3 470.8h1.2v1.2h-1.2zM336.1 451.6h1.1v1.1h-1.1zM287.7 470.9h0.9v0.9h-0.9zM298.4 469.1h1.4v1.4h-1.4zM278 470.6h1.4v1.4h-1.4zM283.5 470.5h1.2v1.2h-1.2zM301.4 467.9h1.5v1.5h-1.5zM273.5 470.4h1.1v1.1h-1.1zM299 464.6h0.8v0.8h-0.8zM280.8 472.1h1.2v1.2h-1.2zM297.6 466.9h1v1h-1zM286.8 466.8h0.8v0.8h-0.8zM289.3 470.7h0.8v0.8h-0.8zM285.7 471.6h1.1v1.1h-1.1zM279.7 466.6h0.9v0.9h-0.9zM302.5 466h1.5v1.5h-1.5zM289 466.7h1.1v1.1h-1.1zM285.1 471.7h1v1h-1zM315 461.7h0.8v0.8h-0.8zM276.9 469.8h1.3v1.3h-1.3zM309.4 462.7h1.1v1.1h-1.1zM306.3 464.4h1.3v1.3h-1.3zM292.2 470.7h1v1h-1zM278.1 468.9h1.1v1.1h-1.1zM300.6 467.8h1.4v1.4h-1.4zM292.5 468.2h0.9v0.9h-0.9zM274.9 471.2h1v1h-1zM289 466.1h1.5v1.5h-1.5zM302.8 467.4h0.9v0.9h-0.9zM312.1 462.6h0.9v0.9h-0.9zM287.8 470.8h1.1v1.1h-1.1zM281.2 471.5h1.1v1.1h-1.1zM284.3 469.8h1v1h-1zM292.9 468.7h1.3v1.3h-1.3zM280.9 472h1.4v1.4h-1.4zM296.5 469.8h1.3v1.3h-1.3zM275.2 471.8h1.2v1.2h-1.2zM305.4 465.5h1.3v1.3h-1.3zM313.5 462.1h1.5v1.5h-1.5zM310 463.5h1.3v1.3h-1.3zM289.8 466.5h0.9v0.9h-0.9zM290.5 470.9h0.8v0.8h-0.8zM277 469h0.8v0.8h-0.8zM298.2 465.3h1.4v1.4h-1.4zM313.3 463.1h1.1v1.1h-1.1zM279.8 470.4h1.1v1.1h-1.1zM290.2 467.6h1.3v1.3h-1.3zM288.7 470.1h1.3v1.3h-1.3zM316.4 460.6h1.1v1.1h-1.1zM289 469.9h1.4v1.4h-1.4zM296.7 467.9h1.5v1.5h-1.5zM289.5 470.3h1.4v1.4h-1.4zM306 465.9h1.2v1.2h-1.2zM281.2 466.6h1.3v1.3h-1.3zM276.3 467h1.4v1.4h-1.4zM299.7 468.7h1.4v1.4h-1.4zM319.2 459.5h0.8v0.8h-0.8zM297.3 466.7h1.2v1.2h-1.2zM275 471.8h0.9v0.9h-0.9zM289 468.2h1.1v1.1h-1.1zM283 470.9h1.2v1.2h-1.2zM274.7 471.1h1.2v1.2h-1.2zM303 465.9h0.8v0.8h-0.8zM313.8 462h1.2v1.2h-1.2zM312.5 463h1.2v1.2h-1.2zM298.8 466.4h0.9v0.9h-0.9zM310.1 462.8h1.2v1.2h-1.2zM280.4 468.2h0.8v0.8h-0.8zM304.7 464.1h1.2v1.2h-1.2zM306.8 465.8h1.1v1.1h-1.1zM312 462.3h0.8v0.8h-0.8zM280.7 472.9h1.1v1.1h-1.1zM311.5 462.2h1.3v1.3h-1.3zM294.6 467.2h0.8v0.8h-0.8zM277.4 467.6h1.3v1.3h-1.3zM283.3 471.7h0.9v0.9h-0.9zM283 472.3h1.3v1.3h-1.3zM299.9 468.8h1.2v1.2h-1.2zM282.7 465.7h1.2v1.2h-1.2zM311.8 463.5h1.3v1.3h-1.3zM284.2 470.2h1.2v1.2h-1.2zM291.9 470.4h1.4v1.4h-1.4zM298.3 464.4h1.2v1.2h-1.2zM276.9 472.2h0.8v0.8h-0.8zM292.8 469.3h1.3v1.3h-1.3zM317.1 460.7h1.4v1.4h-1.4zM301.7 466.1h1.3v1.3h-1.3zM291.9 468.9h1.3v1.3h-1.3zM342.6 448.5h1.1v1.1h-1.1zM300.6 468h1.1v1.1h-1.1zM307.7 465.6h0.9v0.9h-0.9zM312.6 462h1.4v1.4h-1.4zM297.3 467h1.2v1.2h-1.2zM281.7 472.6h1.2v1.2h-1.2z" fill="#4848c0"/><path d="M353.2 440.6h1v1h-1zM355.4 438.4h1.1v1h-1.1zM359.8 435.6h1.2v1h-1.2zM361 434.6h1v1h-1zM352 444.8h1v1h-1z" fill="#3030b0"/><path d="M270 520C265.2 515.7 268.3 498.8 270 494C271.7 489.2 277 492.4 280 491.5C283 490.6 285.3 489.7 288 488.5C290.7 487.3 293.3 485.9 296 484.5C298.7 483.1 301.3 481.6 304 480C306.7 478.4 309.3 476.8 312 475C314.7 473.2 317.3 471.2 320 469.5C322.7 467.8 325.8 465.8 328 464.5C330.2 463.2 332.8 461.1 333 461.5C333.2 461.9 330.7 465.1 329 467C327.3 468.9 325 470.9 323 473C321 475.1 319 477.3 317 479.5C315 481.7 312.8 483.8 311 486C309.2 488.2 307.5 490.7 306 493C304.5 495.3 303 497.5 302 500C301 502.5 300.5 504.7 300 508C299.5 511.3 304 518 299 520C294 522 274.8 524.3 270 520Z" fill="#0000dc" filter="url(#bl2)"/><path d="M270 520C265.6 516.7 268.3 503.6 270 500C271.7 496.4 277 499.1 280 498.5C283 497.9 285.8 497.2 288 496.5C290.2 495.8 291.5 494.9 293 494C294.5 493.1 296.5 490.5 297 491C297.5 491.5 296.2 494.8 296 497C295.8 499.2 295.5 501.5 295.5 504C295.5 506.5 295.8 509.3 296 512C296.2 514.7 300.8 518.7 296.5 520C292.2 521.3 274.4 523.3 270 520Z" fill="#0050ff" filter="url(#bl2)"/><path d="M292 499.5L338 457.5" stroke="#1a30e0" stroke-width="0.8" opacity="0.5"/><g filter="url(#bl)"><path d="M270.1 503.1C269.6 503.2 269.8 503.2 269.7 503.2C269.5 503.2 269.4 503.2 269.2 503.3C269.1 503.3 269 503.4 268.8 503.4C268.7 503.5 268.6 503.5 268.5 503.6C268.3 503.6 268.2 503.7 268.1 503.8C268 503.9 267.9 503.9 267.7 504C267.6 504.1 267.5 504.2 267.4 504.3C267.3 504.4 267.2 504.5 267.1 504.6C267.1 504.7 267 504.8 266.9 505C266.8 505.1 266.7 505.2 266.7 505.3C266.6 505.4 266.5 505.6 266.5 505.7C266.4 505.8 266.4 505.9 266.3 506.1C266.3 506.2 266.3 506.4 266.2 506.5C266.2 506.6 266.2 506.8 266.2 506.9C266.2 507 266.2 505.2 266.2 507.3C266.1 509.5 266.1 517.5 266.2 519.6C266.2 521.8 266.2 519.9 266.2 520.1C266.2 520.2 266.2 520.3 266.2 520.5C266.3 520.6 266.3 520.7 266.3 520.9C266.4 521 266.4 521.1 266.5 521.3C266.5 521.4 266.6 521.5 266.6 521.6C266.7 521.8 266.8 521.9 266.9 522C266.9 522.1 267 522.2 267.1 522.3C267.2 522.4 267.3 522.5 267.4 522.6C267.5 522.7 267.6 522.8 267.7 522.9C267.8 523 267.9 523.1 268 523.1C268.1 523.2 268.2 523.3 268.4 523.4C268.5 523.4 268.6 523.5 268.7 523.5C268.9 523.6 269 523.6 269.1 523.7C269.3 523.7 269.4 523.7 269.5 523.8C269.7 523.8 269.8 523.8 269.9 523.8C270.1 523.8 267.9 523.8 270.4 523.9C272.8 523.9 282.4 523.9 284.9 523.9C287.4 523.8 285.2 523.8 285.3 523.8C285.4 523.8 285.6 523.8 285.7 523.8C285.8 523.7 286 523.7 286.1 523.7C286.2 523.6 286.4 523.6 286.5 523.5C286.6 523.5 286.7 523.4 286.9 523.4C287 523.3 287.1 523.2 287.2 523.2C287.3 523.1 287.4 523 287.5 522.9C287.6 522.8 287.7 522.7 287.8 522.6C287.9 522.5 288 522.4 288.1 522.3C288.2 522.2 288.3 522.1 288.4 522C288.4 521.9 288.5 521.8 288.6 521.7C288.6 521.5 288.7 521.4 288.8 521.3C288.8 521.2 288.9 521 288.9 520.9C288.9 520.8 289 520.6 289 520.5C289 520.4 289 520.7 289.1 520.1C289.1 519.5 289.1 518.3 289.4 517.1C289.7 515.9 290.3 514.3 290.8 512.8C291.3 511.4 292.3 509.2 292.6 508.4C292.9 507.7 292.3 509.2 292.6 508.4C292.9 507.6 294.1 504.6 294.4 503.7C294.7 502.8 294.5 503.4 294.6 503.1C294.6 502.8 294.8 502.2 294.8 501.9C294.9 501.7 294.9 501.6 294.9 501.5C294.9 501.4 294.9 501.2 294.9 501.1C294.9 501 294.9 500.8 294.9 500.7C294.9 500.5 294.9 500.4 294.9 500.3C294.8 500.1 294.8 500 294.8 499.9C294.7 499.7 294.7 499.6 294.6 499.5C294.6 499.3 294.5 499.2 294.5 499.1C294.4 499 294.3 498.8 294.3 498.7C294.2 498.6 294.1 498.5 294 498.4C293.9 498.3 293.8 498.2 293.7 498.1C293.6 498 293.5 497.9 293.4 497.8C293.3 497.7 293.2 497.6 293.1 497.5C293 497.5 292.9 497.4 292.7 497.3C292.6 497.3 292.5 497.2 292.4 497.1C292.2 497.1 292.1 497 292 497C291.8 497 291.7 496.9 291.6 496.9C291.4 496.9 291.3 496.8 291.2 496.8C291 496.8 290.9 496.8 290.7 496.8C290.6 496.8 290.5 496.8 290.3 496.8C290.2 496.8 290 496.9 289.9 496.9C289.8 496.9 289.9 496.9 289.5 497C289.2 497.1 288.1 497.4 287.8 497.5C287.5 497.6 288.6 497.2 287.7 497.6C286.8 497.9 283.3 499.1 282.4 499.4C281.5 499.7 283.2 499.1 282.3 499.4C281.4 499.7 278.7 500.7 277 501.3C275.3 501.9 273.4 502.7 272.2 503C271.1 503.3 270.5 503.1 270.1 503.1Z" fill="#0070ff"/><path d="M270.1 504.1C269.7 504.2 269.9 504.2 269.8 504.2C269.7 504.2 269.6 504.2 269.5 504.2C269.4 504.3 269.3 504.3 269.2 504.3C269.1 504.4 269 504.4 268.9 504.5C268.8 504.5 268.7 504.6 268.6 504.6C268.5 504.7 268.5 504.7 268.4 504.8C268.3 504.9 268.2 505 268.1 505C268 505.1 268 505.2 267.9 505.3C267.8 505.3 267.8 505.4 267.7 505.5C267.7 505.6 267.6 505.7 267.5 505.8C267.5 505.9 267.4 506 267.4 506.1C267.4 506.2 267.3 506.3 267.3 506.4C267.3 506.5 267.2 506.6 267.2 506.7C267.2 506.8 267.2 506.9 267.2 507C267.2 507.1 267.2 505.2 267.2 507.3C267.1 509.4 267.1 517.5 267.2 519.6C267.2 521.8 267.2 519.9 267.2 520C267.2 520.1 267.2 520.2 267.2 520.3C267.2 520.4 267.3 520.5 267.3 520.6C267.3 520.7 267.4 520.8 267.4 520.9C267.4 521 267.5 521.1 267.5 521.2C267.6 521.3 267.6 521.3 267.7 521.4C267.7 521.5 267.8 521.6 267.9 521.7C267.9 521.8 268 521.8 268.1 521.9C268.2 522 268.2 522.1 268.3 522.1C268.4 522.2 268.5 522.3 268.6 522.3C268.7 522.4 268.7 522.4 268.8 522.5C268.9 522.5 269 522.6 269.1 522.6C269.2 522.6 269.3 522.7 269.4 522.7C269.5 522.7 269.6 522.8 269.7 522.8C269.8 522.8 269.9 522.8 270 522.8C270.1 522.8 267.9 522.8 270.4 522.9C272.8 522.9 282.4 522.9 284.9 522.9C287.4 522.8 285.1 522.8 285.2 522.8C285.3 522.8 285.4 522.8 285.5 522.8C285.6 522.8 285.7 522.7 285.8 522.7C285.9 522.7 286 522.6 286.1 522.6C286.2 522.6 286.3 522.5 286.4 522.5C286.5 522.4 286.6 522.4 286.7 522.3C286.7 522.3 286.8 522.2 286.9 522.1C287 522.1 287.1 522 287.1 521.9C287.2 521.9 287.3 521.8 287.3 521.7C287.4 521.6 287.5 521.5 287.5 521.4C287.6 521.4 287.6 521.3 287.7 521.2C287.7 521.1 287.8 521 287.8 520.9C287.9 520.8 287.9 520.7 287.9 520.6C288 520.5 288 520.4 288 520.3C288 520.2 288 520.6 288.1 520C288.1 519.4 288.1 518.2 288.4 516.9C288.7 515.7 289.3 514 289.9 512.5C290.4 511 291.3 508.8 291.6 508.1C291.9 507.3 291.4 508.8 291.7 508C292 507.2 293.1 504.2 293.5 503.3C293.8 502.5 293.5 503.2 293.6 502.9C293.7 502.6 293.8 502 293.9 501.7C293.9 501.5 293.9 501.5 293.9 501.4C293.9 501.3 293.9 501.2 293.9 501.1C293.9 501 293.9 500.9 293.9 500.8C293.9 500.7 293.9 500.5 293.9 500.4C293.9 500.3 293.8 500.2 293.8 500.1C293.8 500 293.7 499.9 293.7 499.8C293.7 499.7 293.6 499.6 293.6 499.5C293.5 499.4 293.5 499.4 293.4 499.3C293.4 499.2 293.3 499.1 293.2 499C293.2 498.9 293.1 498.8 293 498.8C292.9 498.7 292.9 498.6 292.8 498.6C292.7 498.5 292.6 498.4 292.5 498.4C292.4 498.3 292.4 498.2 292.3 498.2C292.2 498.1 292.1 498.1 292 498.1C291.9 498 291.8 498 291.7 498C291.6 497.9 291.5 497.9 291.4 497.9C291.3 497.9 291.2 497.8 291.1 497.8C290.9 497.8 290.8 497.8 290.7 497.8C290.6 497.8 290.5 497.8 290.4 497.8C290.3 497.8 290.2 497.9 290.1 497.9C290 497.9 290.1 497.8 289.8 497.9C289.5 498 288.4 498.4 288.1 498.5C287.8 498.6 288.9 498.2 288 498.5C287.1 498.8 283.6 500 282.7 500.3C281.8 500.6 283.5 500 282.6 500.3C281.7 500.6 279 501.6 277.3 502.2C275.6 502.8 273.6 503.7 272.4 504C271.2 504.3 270.6 504.1 270.1 504.1Z" fill="#00b0ff"/><path d="M270.2 504.9C269.8 505 270 504.9 270 505C269.9 505 269.8 505 269.7 505C269.6 505 269.6 505.1 269.5 505.1C269.4 505.1 269.3 505.1 269.3 505.2C269.2 505.2 269.1 505.3 269.1 505.3C269 505.3 268.9 505.4 268.9 505.4C268.8 505.5 268.7 505.5 268.7 505.6C268.6 505.7 268.6 505.7 268.5 505.8C268.5 505.8 268.4 505.9 268.4 506C268.3 506 268.3 506.1 268.2 506.2C268.2 506.2 268.2 506.3 268.1 506.4C268.1 506.5 268.1 506.5 268.1 506.6C268 506.7 268 506.8 268 506.8C268 506.9 268 507 268 507.1C268 507.2 268 505.2 268 507.3C267.9 509.4 267.9 517.6 268 519.6C268 521.7 268 519.8 268 519.9C268 520 268 520 268 520.1C268 520.2 268 520.3 268.1 520.3C268.1 520.4 268.1 520.5 268.1 520.6C268.2 520.6 268.2 520.7 268.2 520.8C268.3 520.9 268.3 520.9 268.4 521C268.4 521 268.4 521.1 268.5 521.2C268.5 521.2 268.6 521.3 268.7 521.3C268.7 521.4 268.8 521.5 268.8 521.5C268.9 521.6 269 521.6 269 521.6C269.1 521.7 269.1 521.7 269.2 521.8C269.3 521.8 269.4 521.8 269.4 521.9C269.5 521.9 269.6 521.9 269.7 521.9C269.7 522 269.8 522 269.9 522C270 522 270 522 270.1 522C270.2 522 267.9 522 270.4 522C272.8 522.1 282.4 522.1 284.9 522C287.3 522 285 522 285.1 522C285.2 522 285.3 522 285.4 522C285.4 522 285.5 522 285.6 521.9C285.7 521.9 285.7 521.9 285.8 521.9C285.9 521.8 285.9 521.8 286 521.8C286.1 521.7 286.1 521.7 286.2 521.7C286.3 521.6 286.3 521.6 286.4 521.5C286.5 521.5 286.5 521.4 286.6 521.4C286.6 521.3 286.7 521.2 286.7 521.2C286.8 521.1 286.8 521.1 286.9 521C286.9 520.9 287 520.9 287 520.8C287 520.7 287.1 520.7 287.1 520.6C287.1 520.5 287.2 520.4 287.2 520.4C287.2 520.3 287.2 520.2 287.2 520.1C287.3 520.1 287.2 520.5 287.3 519.9C287.3 519.3 287.3 518 287.6 516.7C287.9 515.5 288.6 513.7 289.1 512.2C289.7 510.7 290.6 508.5 290.9 507.8C291.2 507 290.6 508.5 290.9 507.7C291.2 506.9 292.4 503.9 292.7 503.1C293 502.2 292.7 503 292.8 502.7C292.9 502.5 293 501.8 293.1 501.5C293.1 501.3 293.1 501.4 293.1 501.3C293.1 501.2 293.1 501.1 293.1 501.1C293.1 501 293.1 500.9 293.1 500.8C293.1 500.7 293.1 500.7 293.1 500.6C293.1 500.5 293.1 500.4 293 500.4C293 500.3 293 500.2 293 500.1C292.9 500.1 292.9 500 292.9 499.9C292.8 499.8 292.8 499.8 292.7 499.7C292.7 499.6 292.7 499.6 292.6 499.5C292.6 499.4 292.5 499.4 292.4 499.3C292.4 499.3 292.3 499.2 292.3 499.2C292.2 499.1 292.1 499.1 292.1 499C292 499 291.9 498.9 291.9 498.9C291.8 498.9 291.7 498.8 291.7 498.8C291.6 498.8 291.5 498.7 291.4 498.7C291.4 498.7 291.3 498.7 291.2 498.7C291.1 498.6 291.1 498.6 291 498.6C290.9 498.6 290.8 498.6 290.7 498.6C290.7 498.6 290.6 498.6 290.5 498.6C290.4 498.6 290.3 498.6 290.3 498.7C290.2 498.7 290.4 498.6 290 498.7C289.7 498.8 288.6 499.1 288.3 499.2C288 499.3 289.1 499 288.2 499.3C287.3 499.6 283.8 500.8 282.9 501.1C282.1 501.4 283.8 500.8 282.9 501.1C282 501.4 279.3 502.4 277.6 503C275.9 503.6 273.8 504.4 272.6 504.8C271.3 505.1 270.6 504.9 270.2 504.9Z" fill="#00ffff"/><path d="M270.2 505.5C269.8 505.6 270.1 505.5 270.1 505.6C270 505.6 269.9 505.6 269.9 505.6C269.8 505.6 269.8 505.6 269.7 505.6C269.6 505.7 269.6 505.7 269.5 505.7C269.5 505.7 269.4 505.8 269.4 505.8C269.3 505.8 269.3 505.9 269.2 505.9C269.2 506 269.1 506 269.1 506C269.1 506.1 269 506.1 269 506.2C268.9 506.2 268.9 506.3 268.9 506.3C268.8 506.4 268.8 506.4 268.8 506.5C268.7 506.5 268.7 506.6 268.7 506.6C268.7 506.7 268.6 506.7 268.6 506.8C268.6 506.9 268.6 506.9 268.6 507C268.6 507 268.6 507.1 268.6 507.1C268.6 507.2 268.6 505.2 268.6 507.3C268.5 509.4 268.5 517.6 268.6 519.6C268.6 521.7 268.6 519.8 268.6 519.8C268.6 519.9 268.6 519.9 268.6 520C268.6 520.1 268.6 520.1 268.6 520.2C268.6 520.2 268.7 520.3 268.7 520.3C268.7 520.4 268.7 520.4 268.8 520.5C268.8 520.6 268.8 520.6 268.9 520.7C268.9 520.7 268.9 520.7 269 520.8C269 520.8 269 520.9 269.1 520.9C269.1 521 269.2 521 269.2 521C269.3 521.1 269.3 521.1 269.3 521.1C269.4 521.2 269.4 521.2 269.5 521.2C269.6 521.3 269.6 521.3 269.7 521.3C269.7 521.3 269.8 521.4 269.8 521.4C269.9 521.4 269.9 521.4 270 521.4C270.1 521.4 270.1 521.4 270.2 521.4C270.2 521.4 267.9 521.4 270.4 521.4C272.8 521.5 282.4 521.5 284.9 521.4C287.3 521.4 285 521.4 285.1 521.4C285.1 521.4 285.2 521.4 285.2 521.4C285.3 521.4 285.3 521.4 285.4 521.4C285.5 521.4 285.5 521.3 285.6 521.3C285.6 521.3 285.7 521.3 285.7 521.2C285.8 521.2 285.8 521.2 285.9 521.2C285.9 521.1 286 521.1 286 521C286.1 521 286.1 521 286.2 520.9C286.2 520.9 286.2 520.8 286.3 520.8C286.3 520.8 286.3 520.7 286.4 520.7C286.4 520.6 286.4 520.6 286.5 520.5C286.5 520.5 286.5 520.4 286.5 520.4C286.6 520.3 286.6 520.2 286.6 520.2C286.6 520.1 286.6 520.1 286.6 520C286.7 520 286.6 520.4 286.7 519.8C286.7 519.3 286.7 517.9 287 516.6C287.3 515.3 288 513.5 288.6 512C289.1 510.5 290 508.3 290.3 507.5C290.6 506.8 290.1 508.3 290.4 507.5C290.7 506.7 291.8 503.7 292.1 502.8C292.5 502 292.2 502.8 292.2 502.6C292.3 502.3 292.4 501.6 292.5 501.4C292.5 501.2 292.5 501.3 292.5 501.2C292.5 501.2 292.5 501.1 292.5 501C292.5 501 292.5 500.9 292.5 500.9C292.5 500.8 292.5 500.7 292.5 500.7C292.5 500.6 292.5 500.6 292.5 500.5C292.4 500.5 292.4 500.4 292.4 500.3C292.4 500.3 292.4 500.2 292.3 500.2C292.3 500.1 292.3 500.1 292.2 500C292.2 500 292.2 499.9 292.1 499.9C292.1 499.8 292.1 499.8 292 499.8C292 499.7 291.9 499.7 291.9 499.6C291.8 499.6 291.8 499.6 291.7 499.5C291.7 499.5 291.6 499.5 291.6 499.4C291.5 499.4 291.5 499.4 291.4 499.4C291.4 499.3 291.3 499.3 291.3 499.3C291.2 499.3 291.1 499.3 291.1 499.2C291 499.2 291 499.2 290.9 499.2C290.9 499.2 290.8 499.2 290.7 499.2C290.7 499.2 290.6 499.2 290.6 499.2C290.5 499.2 290.4 499.2 290.4 499.2C290.3 499.3 290.5 499.2 290.2 499.3C289.9 499.4 288.8 499.7 288.5 499.8C288.2 499.9 289.3 499.5 288.4 499.8C287.5 500.1 284 501.3 283.1 501.6C282.2 501.9 284 501.3 283.1 501.6C282.2 502 279.5 502.9 277.8 503.5C276.1 504.2 274 505 272.7 505.4C271.4 505.7 270.7 505.5 270.2 505.5Z" fill="#80ff80"/><path d="M270.3 506.1C269.8 506.2 270.2 506.1 270.2 506.1C270.1 506.2 270.1 506.2 270 506.2C270 506.2 270 506.2 269.9 506.2C269.9 506.2 269.8 506.2 269.8 506.3C269.8 506.3 269.7 506.3 269.7 506.3C269.7 506.3 269.6 506.4 269.6 506.4C269.6 506.4 269.5 506.4 269.5 506.5C269.5 506.5 269.5 506.5 269.4 506.6C269.4 506.6 269.4 506.6 269.4 506.6C269.3 506.7 269.3 506.7 269.3 506.8C269.3 506.8 269.3 506.8 269.2 506.9C269.2 506.9 269.2 506.9 269.2 507C269.2 507 269.2 507 269.2 507.1C269.2 507.1 269.2 507.2 269.2 507.2C269.2 507.2 269.2 505.3 269.2 507.3C269.1 509.4 269.1 517.6 269.2 519.6C269.2 521.7 269.2 519.7 269.2 519.8C269.2 519.8 269.2 519.8 269.2 519.9C269.2 519.9 269.2 520 269.2 520C269.2 520 269.2 520.1 269.2 520.1C269.3 520.1 269.3 520.2 269.3 520.2C269.3 520.3 269.3 520.3 269.4 520.3C269.4 520.3 269.4 520.4 269.4 520.4C269.4 520.4 269.5 520.5 269.5 520.5C269.5 520.5 269.6 520.6 269.6 520.6C269.6 520.6 269.7 520.6 269.7 520.6C269.7 520.7 269.7 520.7 269.8 520.7C269.8 520.7 269.9 520.7 269.9 520.8C269.9 520.8 270 520.8 270 520.8C270 520.8 270.1 520.8 270.1 520.8C270.2 520.8 270.2 520.8 270.2 520.8C270.3 520.8 267.9 520.8 270.4 520.9C272.8 520.9 282.4 520.9 284.9 520.9C287.3 520.8 285 520.8 285 520.8C285 520.8 285.1 520.8 285.1 520.8C285.2 520.8 285.2 520.8 285.2 520.8C285.3 520.8 285.3 520.8 285.3 520.8C285.4 520.7 285.4 520.7 285.4 520.7C285.5 520.7 285.5 520.7 285.5 520.7C285.6 520.6 285.6 520.6 285.6 520.6C285.7 520.6 285.7 520.5 285.7 520.5C285.8 520.5 285.8 520.4 285.8 520.4C285.8 520.4 285.9 520.4 285.9 520.3C285.9 520.3 285.9 520.3 285.9 520.2C286 520.2 286 520.2 286 520.1C286 520.1 286 520 286 520C286 520 286.1 519.9 286.1 519.9C286.1 519.9 286 520.3 286.1 519.8C286.1 519.2 286.1 517.8 286.4 516.5C286.8 515.2 287.4 513.3 288 511.8C288.6 510.3 289.5 508.1 289.8 507.3C290.1 506.6 289.5 508.1 289.8 507.3C290.1 506.5 291.3 503.4 291.6 502.6C291.9 501.8 291.6 502.7 291.6 502.5C291.7 502.2 291.9 501.5 291.9 501.3C291.9 501.1 291.9 501.2 291.9 501.2C291.9 501.1 291.9 501.1 291.9 501C291.9 501 291.9 501 291.9 500.9C291.9 500.9 291.9 500.8 291.9 500.8C291.9 500.8 291.9 500.7 291.9 500.7C291.9 500.6 291.9 500.6 291.8 500.6C291.8 500.5 291.8 500.5 291.8 500.5C291.8 500.4 291.8 500.4 291.7 500.4C291.7 500.3 291.7 500.3 291.7 500.3C291.6 500.2 291.6 500.2 291.6 500.2C291.6 500.1 291.5 500.1 291.5 500.1C291.5 500.1 291.4 500 291.4 500C291.4 500 291.3 500 291.3 500C291.3 499.9 291.2 499.9 291.2 499.9C291.2 499.9 291.1 499.9 291.1 499.9C291 499.9 291 499.8 291 499.8C290.9 499.8 290.9 499.8 290.9 499.8C290.8 499.8 290.8 499.8 290.7 499.8C290.7 499.8 290.7 499.8 290.6 499.8C290.6 499.8 290.5 499.8 290.5 499.8C290.5 499.8 290.7 499.8 290.4 499.9C290.1 500 289 500.3 288.7 500.4C288.4 500.5 289.5 500.1 288.6 500.4C287.7 500.7 284.2 501.9 283.3 502.2C282.4 502.5 284.2 501.9 283.3 502.2C282.4 502.5 279.8 503.5 278 504.1C276.3 504.7 274.1 505.6 272.8 506C271.5 506.3 270.7 506.1 270.3 506.1Z" fill="#ffff00"/><path d="M270.3 506.8C269.9 506.8 270.3 506.8 270.3 506.8C270.2 506.8 270.2 506.8 270.2 506.8C270.2 506.8 270.2 506.8 270.2 506.8C270.1 506.8 270.1 506.8 270.1 506.8C270.1 506.8 270.1 506.9 270.1 506.9C270 506.9 270 506.9 270 506.9C270 506.9 270 506.9 270 506.9C270 506.9 269.9 507 269.9 507C269.9 507 269.9 507 269.9 507C269.9 507 269.9 507 269.9 507.1C269.9 507.1 269.9 507.1 269.8 507.1C269.8 507.1 269.8 507.1 269.8 507.2C269.8 507.2 269.8 507.2 269.8 507.2C269.8 507.2 269.8 507.3 269.8 507.3C269.8 507.3 269.8 505.3 269.8 507.3C269.8 509.4 269.8 517.6 269.8 519.6C269.8 521.7 269.8 519.7 269.8 519.7C269.8 519.7 269.8 519.7 269.8 519.8C269.8 519.8 269.8 519.8 269.8 519.8C269.8 519.8 269.8 519.8 269.8 519.9C269.8 519.9 269.9 519.9 269.9 519.9C269.9 519.9 269.9 519.9 269.9 520C269.9 520 269.9 520 269.9 520C269.9 520 269.9 520 270 520C270 520.1 270 520.1 270 520.1C270 520.1 270 520.1 270 520.1C270.1 520.1 270.1 520.1 270.1 520.1C270.1 520.1 270.1 520.2 270.1 520.2C270.2 520.2 270.2 520.2 270.2 520.2C270.2 520.2 270.2 520.2 270.2 520.2C270.3 520.2 270.3 520.2 270.3 520.2C270.3 520.2 267.9 520.2 270.4 520.2C272.8 520.2 282.5 520.2 284.9 520.2C287.3 520.2 284.9 520.2 284.9 520.2C285 520.2 285 520.2 285 520.2C285 520.2 285 520.2 285 520.2C285.1 520.2 285.1 520.2 285.1 520.2C285.1 520.2 285.1 520.1 285.1 520.1C285.2 520.1 285.2 520.1 285.2 520.1C285.2 520.1 285.2 520.1 285.2 520.1C285.2 520.1 285.3 520.1 285.3 520C285.3 520 285.3 520 285.3 520C285.3 520 285.3 520 285.3 520C285.4 519.9 285.4 519.9 285.4 519.9C285.4 519.9 285.4 519.9 285.4 519.9C285.4 519.8 285.4 519.8 285.4 519.8C285.4 519.8 285.4 519.8 285.4 519.8C285.4 519.7 285.4 520.3 285.4 519.7C285.5 519.1 285.5 517.7 285.8 516.3C286.1 515 287.1 512.4 287.4 511.6C287.7 510.8 287.1 512.3 287.4 511.6C287.7 510.8 288.9 507.8 289.2 507.1C289.5 506.3 288.9 507.8 289.2 507.1C289.5 506.3 290.7 503.2 291 502.4C291.3 501.6 291 502.5 291 502.3C291 502.1 291.2 501.3 291.3 501.1C291.3 500.9 291.3 501.1 291.3 501.1C291.3 501.1 291.3 501 291.3 501C291.3 501 291.3 501 291.3 501C291.3 500.9 291.3 500.9 291.3 500.9C291.3 500.9 291.3 500.9 291.3 500.9C291.3 500.8 291.2 500.8 291.2 500.8C291.2 500.8 291.2 500.8 291.2 500.8C291.2 500.7 291.2 500.7 291.2 500.7C291.2 500.7 291.2 500.7 291.2 500.7C291.1 500.7 291.1 500.6 291.1 500.6C291.1 500.6 291.1 500.6 291.1 500.6C291.1 500.6 291.1 500.6 291 500.6C291 500.5 291 500.5 291 500.5C291 500.5 291 500.5 290.9 500.5C290.9 500.5 290.9 500.5 290.9 500.5C290.9 500.5 290.9 500.5 290.8 500.5C290.8 500.5 290.8 500.5 290.8 500.5C290.8 500.5 290.7 500.5 290.7 500.5C290.7 500.5 290.7 500.5 290.7 500.5C290.7 500.5 290.6 500.5 290.6 500.5C290.6 500.5 290.9 500.4 290.6 500.5C290.3 500.6 289.1 500.9 288.8 501C288.6 501.1 289.7 500.7 288.8 501C287.9 501.3 284.4 502.5 283.5 502.8C282.7 503.1 284.4 502.5 283.5 502.8C282.6 503.1 280 504.1 278.2 504.7C276.5 505.3 274.3 506.3 273 506.6C271.6 506.9 270.8 506.7 270.3 506.8Z" fill="#ff0000"/><path d="M270.4 507.3C269.9 509.4 267.9 517.6 270.4 519.6C272.8 521.7 282.4 520.2 284.9 519.6C287.4 519.1 285.2 516.8 285.3 516.3C285.3 515.7 285.3 516.2 285.3 516.2C285.3 516.2 285 517 285.3 516.2C285.5 515.4 286.6 512.2 286.9 511.4C287.1 510.6 286.6 512.1 286.9 511.4C287.2 510.6 288.1 508.4 288.7 506.9C289.3 505.3 290.1 503.2 290.5 502.2C290.8 501.2 291 501.1 290.7 501C290.5 500.9 290.2 501.1 289 501.5C287.8 501.9 285.5 502.7 283.7 503.3C282 503.9 280.2 504.6 278.4 505.2C276.7 505.9 274 506.8 273.1 507.1C272.2 507.4 273.1 507.1 273.1 507.1C273.1 507.1 273.1 507.1 273.1 507.1C273 507.1 273.5 507.1 273 507.1C272.6 507.2 270.8 505.2 270.4 507.3Z" fill="#9a0000"/></g></g>
<path d="M273.2 375.6V516H427.5" stroke="#707070" stroke-width="1" fill="none"/>
<path d="M273.2 501.91h1.4M288.68 516v-1.4M273.2 493.67h1.4M297.74 516v-1.4M273.2 487.82h1.4M304.17 516v-1.4M273.2 483.29h1.4M309.15 516v-1.4M273.2 479.58h1.4M313.22 516v-1.4M273.2 476.45h1.4M316.67 516v-1.4M273.2 473.74h1.4M319.65 516v-1.4M273.2 471.34h1.4M322.28 516v-1.4M273.2 455.11h1.4M340.12 516v-1.4M273.2 446.87h1.4M349.17 516v-1.4M273.2 441.02h1.4M355.6 516v-1.4M273.2 436.49h1.4M360.58 516v-1.4M273.2 432.78h1.4M364.66 516v-1.4M273.2 429.65h1.4M368.1 516v-1.4M273.2 426.94h1.4M371.08 516v-1.4M273.2 424.54h1.4M373.71 516v-1.4M273.2 408.31h1.4M391.55 516v-1.4M273.2 400.07h1.4M400.61 516v-1.4M273.2 394.22h1.4M407.03 516v-1.4M273.2 389.69h1.4M412.02 516v-1.4M273.2 385.98h1.4M416.09 516v-1.4M273.2 382.85h1.4M419.53 516v-1.4M273.2 380.14h1.4M422.52 516v-1.4M273.2 377.74h1.4M425.15 516v-1.4M273.2 516h2M273.2 516v-2M273.2 469.2h2M324.63 516v-2M273.2 422.4h2M376.07 516v-2M273.2 375.6h2M427.5 516v-2" stroke="#555" stroke-width="0.7" fill="none"/>
<text class="t" x="263.8" y="382.1" text-anchor="end">10</text><text class="s" x="264.1" y="377.3">0</text>
<text class="t" x="263.8" y="428.9" text-anchor="end">10</text><text class="s" x="264.1" y="424.1">-1</text>
<text class="t" x="263.8" y="475.7" text-anchor="end">10</text><text class="s" x="264.1" y="470.9">-2</text>
<text class="t" x="263.8" y="522.5" text-anchor="end">10</text><text class="s" x="264.1" y="517.7">-3</text>
<text class="t" x="274.6" y="530.6" text-anchor="end">10</text><text class="s" x="275" y="526.6">-3</text>
<text class="t" x="326.03" y="530.6" text-anchor="end">10</text><text class="s" x="326.43" y="526.6">-2</text>
<text class="t" x="377.47" y="530.6" text-anchor="end">10</text><text class="s" x="377.87" y="526.6">-1</text>
<text class="t" x="428.9" y="530.6" text-anchor="end">10</text><text class="s" x="429.3" y="526.6">0</text>
<text class="ttl" x="354.25" y="393.7" text-anchor="middle">670nm</text>
<text class="lab" x="261" y="541.4">Rrs in precision evaluation dataset(sr<tspan font-size="7" dy="-4.2">−1</tspan><tspan dy="4.2">)</tspan></text>
<text class="lab" style="font-size:12.3px" transform="translate(250.9 454.4) rotate(-90)" text-anchor="middle">Retrieved RF(sr<tspan font-size="7" dy="-4.2">−1</tspan><tspan dy="4.2">)</tspan></text>
<rect x="436.6" y="375.6" width="8.8" height="140.4" fill="url(#jet)"/>
<text class="cb" x="446.4" y="380.4">200</text>
<text class="cb" x="446.4" y="415.5">150</text>
<text class="cb" x="446.4" y="450.6">100</text>
<text class="cb" x="446.4" y="485.7">50</text>
<text class="cb" x="446.4" y="520.8">0</text>
</svg>
</body></html>
